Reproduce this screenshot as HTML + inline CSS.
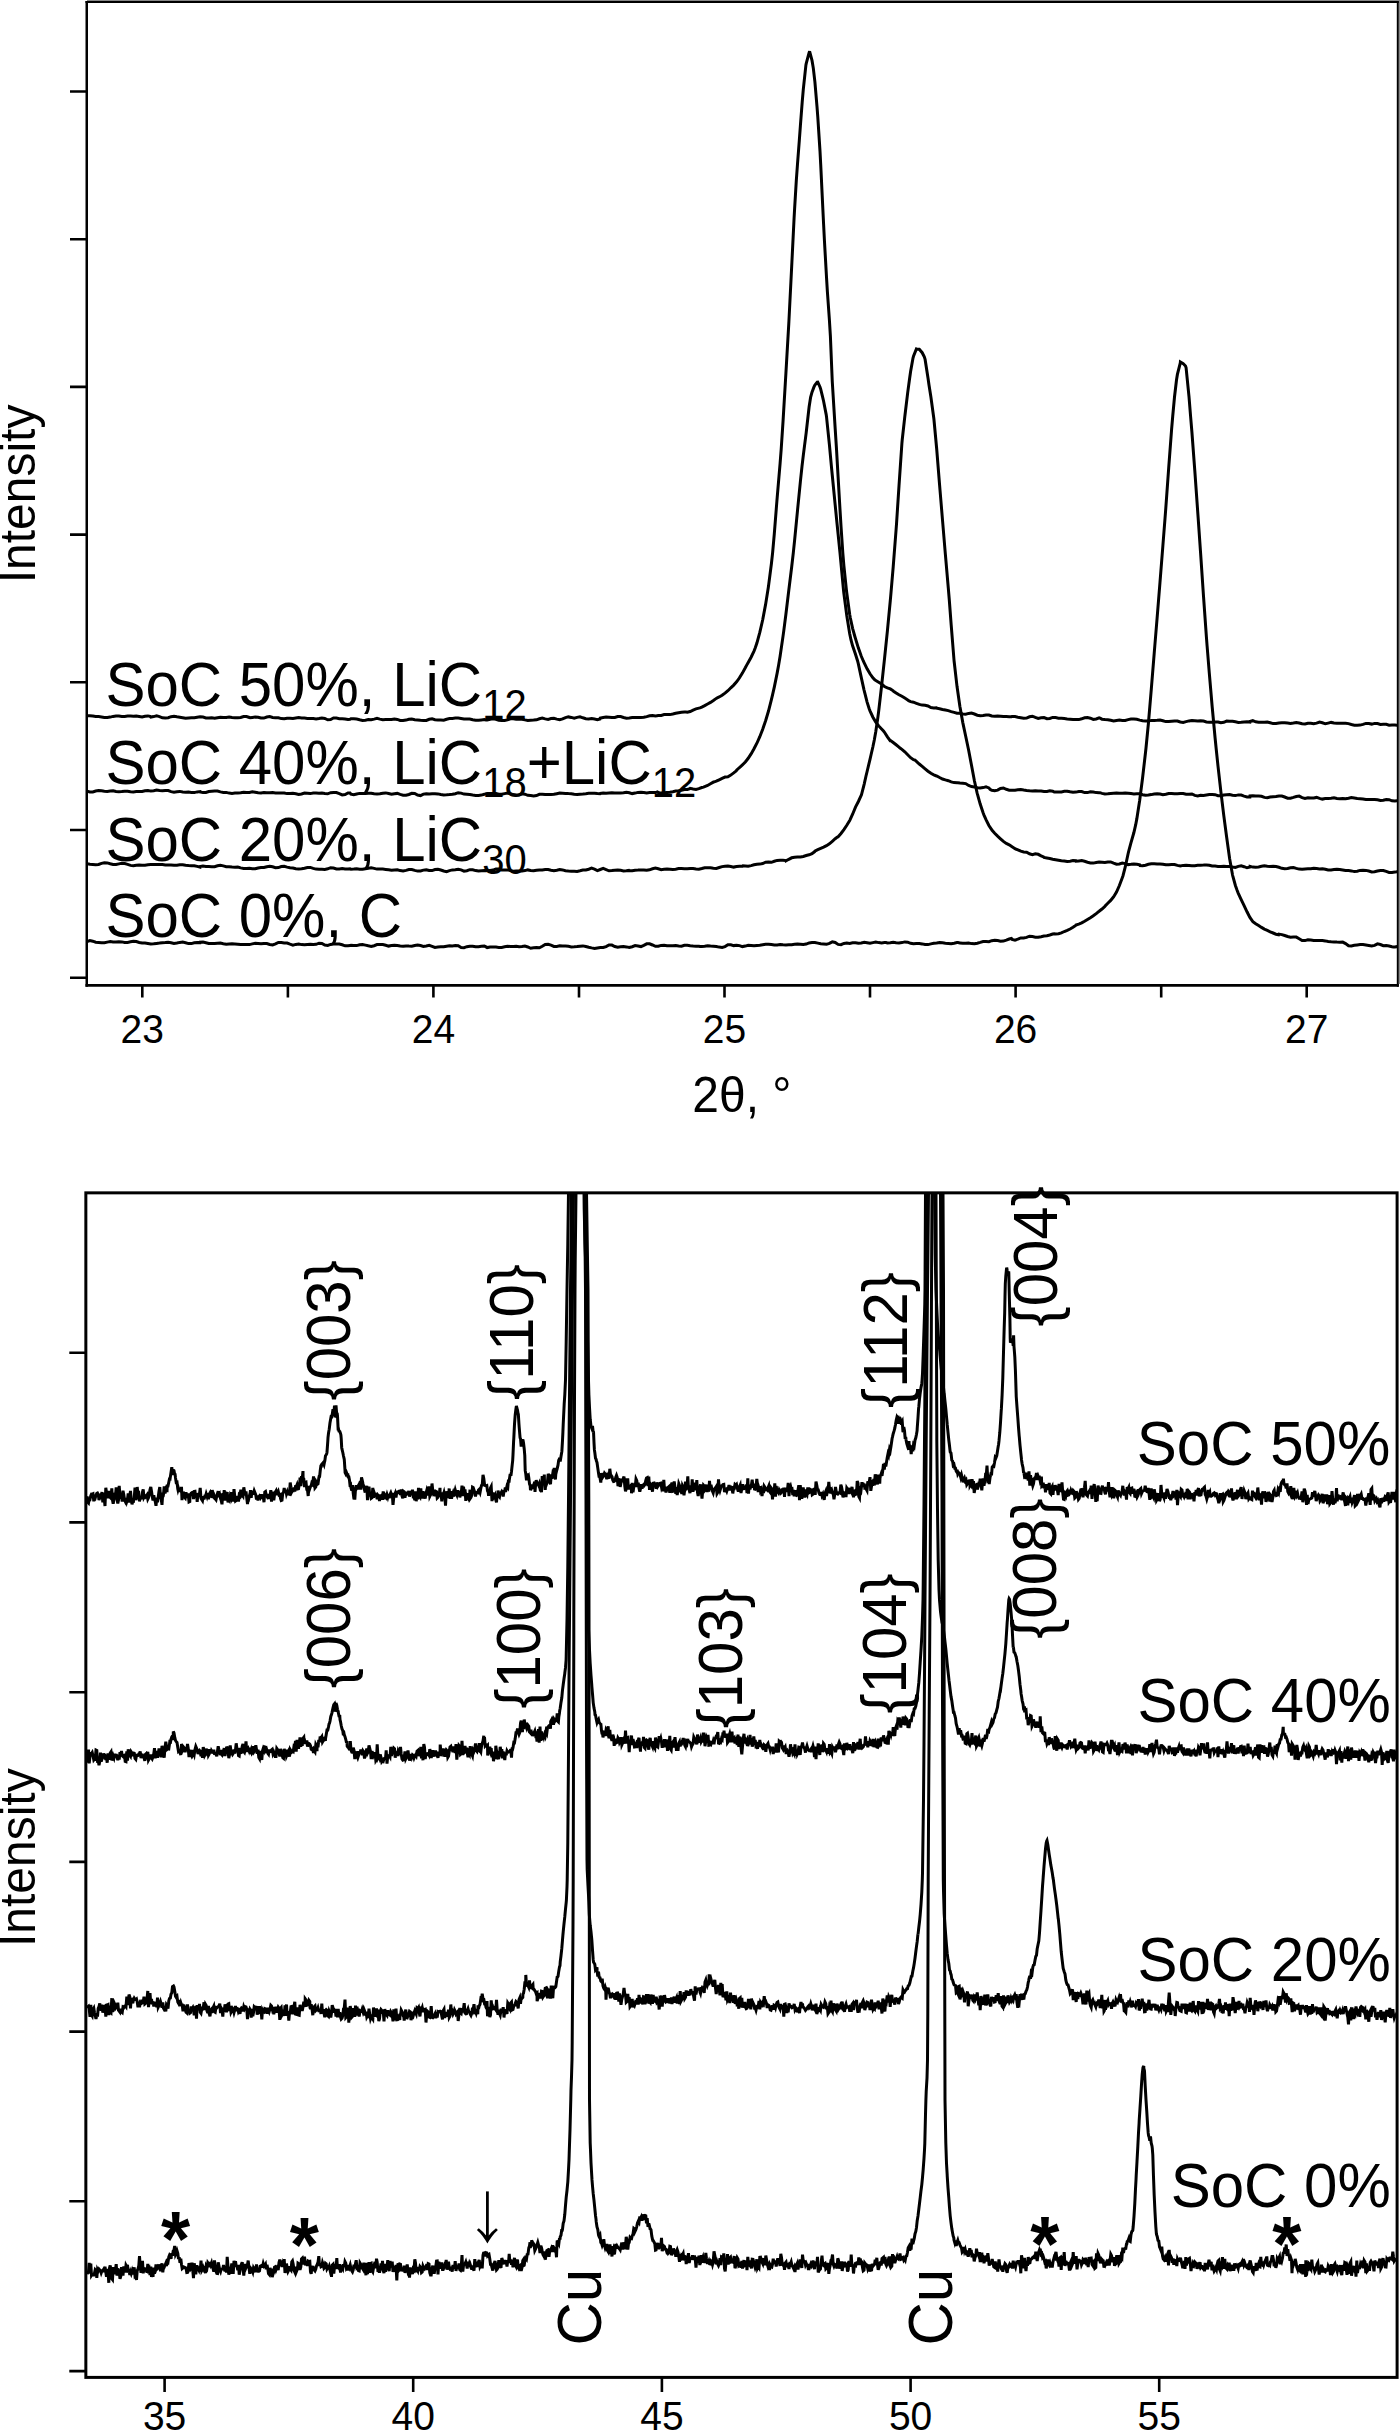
<!DOCTYPE html><html><head><meta charset="utf-8"><title>XRD patterns</title><style>html,body{margin:0;padding:0;background:#fff;width:1400px;height:2430px;}svg{display:block;}::-webkit-scrollbar{display:none;}</style></head><body><svg width="1400" height="2430" viewBox="0 0 1400 2430"><rect width="1400" height="2430" fill="#fff"/><rect x="87" y="0" width="1313" height="1" fill="#888"/><rect x="1399" y="0" width="1" height="984" fill="#888"/><path d="M86.75,0.9V986.8" stroke="#000" stroke-width="2.5" fill="none"/><path d="M85.5,2H1398.8" stroke="#000" stroke-width="2" fill="none"/><path d="M1397.8,1V986.8" stroke="#000" stroke-width="2" fill="none"/><path d="M85.5,985.35H1398.8" stroke="#000" stroke-width="2.9" fill="none"/><rect x="85.85" y="1192.85" width="1311.25" height="1184.55" fill="none" stroke="#000" stroke-width="3"/><path d="M70,91.5H86.75 M70,239.2H86.75 M70,386.9H86.75 M70,534.6H86.75 M70,682.3H86.75 M70,830H86.75 M70,977.7H86.75 M142.3,985.3V997.5 M287.9,985.3V997.5 M433.4,985.3V997.5 M579,985.3V997.5 M724.5,985.3V997.5 M870,985.3V997.5 M1015.6,985.3V997.5 M1161.2,985.3V997.5 M1306.7,985.3V997.5 M69.3,1352.7H85.8 M69.3,1522.4H85.8 M69.3,1692.2H85.8 M69.3,1861.9H85.8 M69.3,2031.6H85.8 M69.3,2201.3H85.8 M69.3,2371.1H85.8 M164.6,2377.3V2392 M413.2,2377.3V2392 M661.9,2377.3V2392 M910.6,2377.3V2392 M1159.2,2377.3V2392" stroke="#000" stroke-width="2.6" fill="none"/><clipPath id="ct"><rect x="87" y="3" width="1310" height="981"/></clipPath><clipPath id="cb"><rect x="86" y="1194" width="1311" height="1182"/></clipPath><g clip-path="url(#ct)" fill="none" stroke="#000" stroke-width="3.0" stroke-linejoin="miter" stroke-miterlimit="2"><path d="M87,715.8 89.9,715.7 92.8,716.1 95.7,716.5 98.6,716.6 101.5,716.9 104.4,717.4 107.3,717.6 110.2,717.1 113.1,716.4 116,716 118.9,716 121.8,716.4 124.7,716.4 127.6,716 130.5,716 133.4,716.2 136.3,715.9 139.2,716.4 142.1,716.9 145,716.2 147.9,715.9 150,716.4 150.8,717.1 153.7,716.6 156.6,715.9 159.5,716.6 162.4,717.8 165.3,718.1 168.2,717.7 171.1,716.7 174,716.2 176.9,716.8 179.8,717.2 182.7,717.7 185.6,718.3 188.5,718 191.4,717.8 194.3,717.8 197.2,717.3 200.1,716.8 203,717.1 205.9,717.9 208.8,717.9 211.7,717.8 214.6,718.2 217.5,717.7 220.4,717.2 223.3,717.6 226.2,717.5 229.1,717.1 232,717.6 234.9,717.7 237.8,717.7 240.7,717.5 243.6,716.5 246.5,716.5 249.4,717.5 250,717.8 252.3,717.4 255.2,717 258.1,717.2 261,717.9 263.9,718.1 266.8,717 269.7,716.5 272.6,717.4 275.5,717.7 278.4,717.8 281.3,718.6 284.2,718.8 287.1,718.2 290,718.2 292.9,718.5 295.8,718 298.7,717.6 301.6,717.9 304.5,718.1 307.4,718.4 310.3,718.4 313.2,718.6 316.1,718.9 319,718.6 321.9,718.1 324.8,718.5 327.7,719.8 330.6,719.5 333.5,718 336.4,718 339.3,718.8 342.2,718.8 345.1,719 348,719.5 350,719.3 350.9,718.8 353.8,718.7 356.7,719 359.6,719.8 362.5,720.5 365.4,720.2 368.3,719.6 371.2,719.7 374.1,719.1 377,718.4 379.9,719.1 382.8,719.7 385.7,719.5 388.6,719.6 391.5,719.5 394.4,719 397.3,719.4 400.2,720.4 403.1,720.6 406,720.1 408.9,719.2 411.8,719 414.7,719.7 417.6,720 420.5,720.3 423.4,720.5 426.3,720.4 429.2,719.3 432.1,718.8 435,719.7 437.9,720 440.8,720.1 443.7,720.2 446.6,719.3 449.5,718.6 452.4,718.4 455.3,718.1 458.2,718.1 461.1,718.4 464,718.9 466.9,719.1 469.8,719.1 472.7,719.8 475.6,720.3 478.5,720.2 481.4,719.9 484.3,719.6 486,720 487.2,720.1 490.1,719.3 493,718.8 495.9,719.3 498.8,720.2 501.7,720.5 504.6,720.4 507.5,719.9 510.4,718.8 513.3,718.7 516.2,719.2 519.1,719.2 522,719.2 524.9,719.9 527.8,720.4 530.7,720.2 533.6,720.1 536.5,719.8 539.4,718.8 542.3,718.1 545.2,718.9 548.1,719.4 551,718.6 553.9,718.3 556.8,719.1 559.7,719.8 562.6,718.9 565.5,717.6 568.4,716.9 571.3,717.4 574.2,718.2 577.1,717.4 580,716.8 582.9,717.8 585.8,718.7 588.7,718.9 591.6,718.6 594.5,719 597.4,719.6 600,718.9 600.3,718.1 603.2,717.5 606.1,717.1 609,717.2 611.9,717.6 614.8,717.5 617.7,716.6 620.6,716.5 623.5,717.5 626.4,718.2 629.3,717.9 632.2,717.5 635.1,717.6 638,717.6 640.9,717.5 643.8,717.3 646.7,716.6 649.6,715.7 652.5,715.6 655.4,716.1 657,715.8 658.3,715.6 661.2,715.4 664.1,714.6 667,714.6 669.9,714.6 672.8,714 675.7,713.3 678.6,712.7 681.5,712.2 684.4,712 686,712.1 687.3,712.2 690.2,711.5 693.1,710.1 696,708.9 698.9,708.1 700,707.9 701.8,707.1 704.7,705.6 707.6,704 710.5,702.4 713.4,700.5 716.3,698.4 717.3,697.8 719.2,697 722.1,695.3 725,693.1 727.9,690.7 729.4,689.2 730.8,687.8 733.7,685.1 736.6,681.8 739.5,677.8 739.8,677.2 742.4,673.1 745.3,667.8 746.7,665.1 748.2,662.4 751.1,657.2 754,651.1 755.3,647.8 756.9,643.1 759.8,632.4 762.2,622 762.7,619.7 765.6,604.4 768.3,587.4 768.5,586.1 771.4,563.8 772.6,552.8 774.3,533.8 776.9,501 777.2,497.4 780.1,463.4 781.2,449.1 783,421.8 785.5,380 785.9,373.3 788.8,323.3 788.9,321.5 791.7,266.2 791.9,262.2 794.1,217.8 794.6,208.8 796.3,180.7 797.5,164 799.3,140.7 800.4,125.6 802.2,102.2 803.3,89.3 805.9,65.2 806.2,63.7 809.1,52.6 809.6,51.3 812,60.4 813.3,68.1 814.9,81.8 817,106.7 817.8,117.1 820,151.1 820.7,164.3 822.2,195.6 823.6,224.3 824.4,240 826.5,277.2 827.4,291.9 829.4,320 830.4,336.3 832.2,380 832.3,382 835.2,428.9 836.5,449.1 838.1,476.9 840,509.6 841,526.1 842.8,552.9 843.9,565.8 846.4,590 846.8,593.3 849.7,614.4 850.3,617.8 852.6,628.3 855,637 855.5,638.7 858.4,648.1 861.3,656.3 863.3,661 864.2,662.9 867.1,668.8 870,673.8 872.9,677.9 874.8,679.9 875.8,680.5 878.7,682.3 881.6,684.1 883.5,685.6 884.5,686.6 887.4,687.8 890.3,688.9 893.2,690.8 893.6,691.3 896.1,692.9 899,694.7 901.9,696.3 904.8,698.1 907.7,699.9 908.6,700.7 910.6,701.6 913.5,702.2 916.4,703.3 919.3,704.4 922.2,705.1 925.1,705.3 928,706 930.9,707.5 933.8,707.9 936.4,707.8 936.7,708.2 939.6,708.8 942.5,709.5 945.4,710 948.3,710.6 951.2,711.6 954.1,712.4 957,713.2 957.9,713.3 959.9,713.2 962.8,713.9 965.7,714.2 968.6,713.4 971.5,713.1 974.4,714 977.3,715.2 980.2,715.7 983.1,715.4 986,714.9 988.9,715 991.8,716 994.7,716.2 997.6,716 1000.5,716.3 1003.4,716.6 1006.3,716.6 1009.2,716.7 1011.4,716.7 1012.1,716.4 1015,716.6 1017.9,717.2 1020.8,717.7 1023.7,718.2 1026.6,718.1 1029.5,716.8 1032.4,716.2 1035.3,717.4 1038.2,718.4 1041.1,717.8 1044,717.5 1046.9,718.7 1049.8,718.5 1052.7,717.4 1055.6,717.6 1058.5,718.2 1061.4,718.2 1064.3,718.6 1067.2,719 1070.1,719.3 1073,719.6 1075.9,719.6 1078.8,719.6 1081.7,718.8 1084.6,717.8 1087.5,717.5 1090.4,718.2 1093.3,719.4 1096.2,719 1099.1,717.8 1100,718.2 1102,719.2 1104.9,719.6 1107.8,719.7 1110.7,720.2 1113.6,720.9 1116.5,720.4 1119.4,720.1 1122.3,720.5 1125.2,720.4 1128.1,719.6 1131,719.1 1133.9,719 1136.8,719.2 1139.7,720.1 1142.6,720.7 1145.5,721.1 1148.4,721.1 1151.3,720.4 1154.2,720.4 1157.1,720.3 1160,720.1 1162.9,720.8 1165.8,721.6 1168.7,721.5 1171.6,721.2 1174.5,720.9 1177.4,721.1 1180.3,722 1183.2,722.4 1186.1,721.6 1189,720.9 1191.9,720.5 1194.8,720.7 1197.7,721 1200.6,720.8 1203.5,721 1206.4,721.9 1209.3,722.2 1212.2,722.2 1215.1,721.9 1218,722 1220.9,722.8 1223.8,722.3 1226.7,721.1 1229.6,721.2 1232.5,721.3 1235.4,721.8 1238.3,722.4 1241.2,722.2 1244.1,721.9 1247,721.8 1249.9,722.1 1250,721.5 1252.8,720.7 1255.7,721.8 1258.6,722.3 1261.5,722.2 1264.4,722.2 1267.3,722 1270.2,722.7 1273.1,723.6 1276,723.6 1278.9,723.1 1281.8,722.8 1284.7,722.8 1287.6,723.1 1290.5,723.4 1293.4,723 1296.3,722.5 1299.2,723 1302.1,723.8 1305,723.9 1307.9,723.3 1310.8,723.2 1313.7,723.7 1316.6,723.1 1319.5,722 1322.4,722.8 1325.3,723.8 1328.2,723.1 1331.1,722.4 1334,722.9 1336.9,723.3 1339.8,723.2 1342.7,723.3 1345.6,723.2 1348.5,723.6 1351.4,724.5 1354.3,725.2 1357.2,725.2 1360.1,725.1 1363,724.4 1365.9,723.4 1368.8,723.6 1371.7,724.1 1374.6,723.4 1377.5,723.5 1380.4,724.4 1383.3,724.2 1386.2,724.3 1389.1,725.2 1392,725 1394.9,725 1397.8,725.2 1398,725.1"/><path d="M87,791.3 89.9,792 92.8,791.9 95.7,791 98.6,790.6 101.5,790.8 104.4,791.2 107.3,791.4 110.2,791 113.1,790.8 116,791.5 118.9,791.8 121.8,791.6 124.7,791.3 127.6,791.2 130.5,791.7 133.4,791.9 136.3,791.5 139.2,791.5 142.1,791.5 145,790.7 147.9,790.5 150.8,791.1 153.7,790.7 156.6,790.1 159.5,790.5 162.4,790.8 165.3,790.4 168.2,790.5 171.1,791.6 174,792.2 176.9,791.7 179.8,791.4 182.7,792 185.6,792.3 188.5,792.1 191.4,792.4 194.3,792.6 197.2,791.9 200,791.6 200.1,792 203,792.6 205.9,792.4 208.8,791.5 211.7,791.2 214.6,791 217.5,791 220.4,791.9 223.3,792.4 226.2,792.4 229.1,793.1 232,793.4 234.9,793.1 237.8,793.1 240.7,792.7 243.6,792.2 246.5,792.6 249.4,792.5 252.3,791.8 255.2,792.2 258.1,792.8 261,792.9 263.9,792.6 266.8,792.7 269.7,792.7 272.6,792.5 275.5,792.9 278.4,793.1 281.3,793 284.2,793 287.1,793.6 290,793.5 292.9,793.2 295.8,793.7 298.7,794.4 301.6,794 304.5,793 307.4,793.3 310.3,793.6 313.2,793 316.1,793 319,793.3 321.9,793.1 324.8,793.6 327.7,793.8 330.6,792.7 333.5,792.4 336.4,792.6 339.3,793.6 342.2,794.9 345.1,794.5 348,792.9 350,792.9 350.9,794.2 353.8,794.7 356.7,794 359.6,793.4 362.5,793.5 365.4,793.6 368.3,793.3 371.2,793.3 374.1,793.8 377,794 379.9,793.7 382.8,793.2 385.7,792.9 388.6,793.5 391.5,794.3 394.4,793.7 397.3,793.4 400.2,794.4 403.1,795.2 406,795.3 408.9,794.5 411.8,793.3 414.7,793.4 417.6,795.1 420.5,795.6 423.4,794.1 426.3,793.7 429.2,794 432.1,793.7 435,793.7 437.9,793.9 440.8,794.5 443.7,794.9 446.6,794.8 449.5,794.6 452.4,794.3 455.3,793.7 458.2,792.7 461.1,793.1 464,794.1 466.9,794.3 469.8,794.6 472.7,795.1 475.6,795.4 478.5,795.4 481.4,795.1 484.3,794.3 486,793.7 487.2,793.6 490.1,793.5 493,793.4 495.9,793.6 498.8,794.2 501.7,794.3 504.6,793.6 507.5,793.1 510.4,793.7 513.3,794.6 516.2,795.1 519.1,794.7 522,793.8 524.9,794.2 527.8,795.3 530.7,795.6 533.6,796 536.5,795.6 539.4,794.3 542.3,794.2 545.2,794.6 548.1,794.6 551,794.5 553.9,794.3 556.8,793.7 559.7,793.1 562.6,793.2 565.5,793.4 568.4,793.6 571.3,793.7 574.2,794.2 577.1,794.5 580,794.2 582.9,794 585.8,793.7 588.7,793.3 591.6,793.2 594.5,793.3 597.4,793.6 600,793.8 600.3,793.5 603.2,793.1 606.1,793.3 609,793 611.9,792.7 614.8,792.9 617.7,793 620.6,793.1 623.5,792.7 626.4,792.2 629.3,792.7 632.2,793.6 635.1,793.1 638,792.4 640.9,792.2 643.8,792.5 646.7,792.9 649.6,792.5 652.5,792.6 655.4,792.6 657.4,791.9 658.3,792.5 661.2,793.1 664.1,792.7 667,792.4 669.9,792.2 672.8,791.7 675.7,791.1 678.6,790.7 681.5,790.2 684.4,789.6 687.3,789.4 690,788.6 690.2,788.4 693.1,789 696,789.5 698.9,788.7 701.8,787.5 703.5,787.1 704.7,786.6 707.6,785.5 710.5,783.8 713.4,782.1 713.8,782.1 716.3,781.2 719.2,779.8 722.1,778.4 725,777.1 725.9,777.1 727.9,776.7 730.8,775.1 733.7,772.9 736.3,770.8 736.6,770.2 739.5,767.5 742.4,765 745.3,761.9 746.7,760.2 748.2,758.3 751.1,753.9 754,748.8 756.9,743.1 757,743 759.8,736.7 762.7,729.3 765.6,720.8 765.7,720.5 768.5,711 771.4,699.6 772.6,694.6 774.3,687.1 777.2,672.9 778.6,665.2 780.1,656.2 783,636.4 783.8,630.6 785.9,614.2 788.1,596 788.8,590.3 791.7,566.8 793.3,552.8 794.6,540.3 797.5,510.6 797.6,509.6 800.4,481.4 802,466.4 803.3,455.4 806.2,432.6 806.3,431.8 809.1,407 810.6,397.3 812,392.1 814,386.9 814.9,385 817.2,382.2 817.8,382.1 820,387 820.7,389.1 822.7,397.3 823.6,401.2 826.2,414.6 826.5,416.7 829.4,444.7 831.4,466.4 832.3,475.5 835.2,505.2 836.5,518.3 838.1,534 840,552.8 841,563.6 843.5,590 843.9,593.5 846.8,615.7 847,617 849.7,633.7 851,640 852.6,645.8 855.5,654.2 857.6,661 858.4,664.2 861.3,677.6 864,689.8 864.2,690.6 867.1,702.1 869.1,708.5 870,710.8 872.9,717.2 875.8,722.1 876.3,722.8 878.7,725.9 881.6,729 883.5,731.1 884.5,732.3 887.4,736.8 890,740.4 890.3,740.3 893.2,742.5 896.1,744.8 899,747.1 900,748 901.9,749.4 904.8,751.8 907.7,754.7 910.6,757.7 913.5,759.7 915,760.2 916.4,761.4 919.3,764 922.2,766.4 925.1,768.8 928,771.2 930.9,773.3 933.8,774.8 936.4,775.9 936.7,775.9 939.6,777.5 942.5,779 945.4,779.9 948.3,780.7 951.2,781.9 954.1,782.6 957,782.8 957.9,782.7 959.9,783 962.8,783.2 965.7,783.6 968.6,785.5 971.5,786.6 974.4,786.9 977.3,787.7 980.2,788.1 983.1,787.6 986,786.9 988.9,787.9 990,789.3 991.8,790.3 994.7,790.8 997.6,790.1 1000.5,788.4 1003.4,788 1006.3,789.3 1009.2,790.2 1012.1,790.3 1015,790.2 1017.9,789.7 1020.8,789.5 1023.7,790 1026.6,790.4 1029.5,790.7 1032.4,790.9 1035.3,790.8 1038.2,790.9 1041.1,791.1 1044,791.5 1046.9,791.4 1049.8,790.8 1052.7,791.2 1054.3,792.1 1055.6,792.1 1058.5,792.1 1061.4,791.9 1064.3,791.2 1067.2,791.2 1070.1,791.8 1073,792.3 1075.9,792.1 1078.8,791.5 1081.7,791.5 1084.6,792.6 1087.5,792.6 1090.4,791.8 1093.3,792 1096.2,792.6 1099.1,792.7 1100,792.7 1102,793.4 1104.9,794 1107.8,793.8 1110.7,793.5 1113.6,793.3 1116.5,793.1 1119.4,793.3 1122.3,793.2 1125.2,792.9 1128.1,793.2 1131,793.6 1133.9,794 1136.8,793.7 1139.7,793.8 1142.6,794.7 1145.5,795.2 1148.4,795.1 1151.3,794.6 1154.2,794 1157.1,793.7 1160,794.1 1162.9,794.7 1165.8,794.2 1168.7,793.5 1171.6,793.5 1174.5,793.7 1177.4,793.8 1180.3,793.6 1183.2,793.6 1186.1,794.3 1189,794.2 1191.9,794 1194.8,795.4 1197.7,795.9 1200.6,795.2 1203.5,795.4 1206.4,795 1209.3,794.6 1212.2,794.5 1215.1,794.7 1218,795.7 1220.9,795.8 1223.8,795 1226.7,794.7 1229.6,794.5 1232.5,795.2 1235.4,795.6 1238.3,794.9 1241.2,795.1 1244.1,796.1 1247,796.9 1249.9,796.9 1250,795.9 1252.8,795.7 1255.7,796.1 1258.6,796.1 1261.5,796.3 1264.4,797.4 1267.3,797.8 1270.2,797.1 1273.1,796.7 1276,796.4 1278.9,795.9 1281.8,796 1284.7,797 1287.6,798.2 1290.5,798.2 1293.4,797.4 1296.3,796.5 1299.2,796.1 1302.1,797.6 1305,798.4 1307.9,797.8 1310.8,798.1 1313.7,797.9 1316.6,797.4 1319.5,798.4 1322.4,799.1 1325.3,798.6 1328.2,798.4 1331.1,798.3 1334,797.8 1336.9,798.4 1339.8,798.8 1342.7,798.5 1345.6,798.8 1348.5,798.3 1351.4,797.6 1354.3,798.1 1357.2,798.6 1360.1,798.8 1363,799 1365.9,799.5 1368.8,799.5 1371.7,799.4 1374.6,799.4 1377.5,799.8 1380.4,800.5 1383.3,800.3 1386.2,799.6 1389.1,799.7 1392,800.8 1394.9,801 1397.8,800.6 1398,800.5"/><path d="M87,863.7 89.9,864.3 92.8,864.5 95.7,864.7 98.6,864.5 101.5,863.4 104.4,862.8 107.3,862.9 110.2,863.8 113.1,864.5 116,864.5 118.9,863.9 121.8,863.3 124.7,863.6 127.6,864.4 130.5,865.4 133.4,865.8 136.3,865.3 139.2,865 142.1,865.2 145,865.2 147.9,864.7 150.8,864.5 153.7,864.6 156.6,864.5 159.5,864.5 162.4,864.6 165.3,865 168.2,865.1 171.1,864.9 174,865.3 176.9,865.2 179.8,864.7 182.7,864.7 185.6,865.2 188.5,865.6 191.4,865.7 194.3,865.7 197.2,866.4 200,867.2 200.1,866.6 203,866.1 205.9,866.5 208.8,866.6 211.7,866.7 214.6,866.7 217.5,865.8 220.4,865.2 223.3,865.9 226.2,866.7 229.1,866.7 232,867.1 234.9,867.3 237.8,867.1 240.7,867.9 243.6,868.5 246.5,868.4 249.4,868.3 252.3,868.7 255.2,868.8 258.1,868 261,867.6 263.9,867.5 266.8,866.7 269.7,866.2 272.6,866.8 275.5,867.7 278.4,867.6 281.3,866.5 284.2,866.3 287.1,867.1 290,867.7 292.9,868.1 295.8,868.8 298.7,869.1 301.6,868.8 304.5,868.3 307.4,867.5 310.3,867.4 313.2,868.4 316.1,869.1 319,869.3 321.9,869.3 324.8,869.4 327.7,868.8 330.6,867.7 333.5,868 336.4,869 339.3,868.9 342.2,868.5 345.1,869 348,869 350,868.8 350.9,869.3 353.8,869.1 356.7,868.8 359.6,869.3 362.5,869.3 365.4,868.7 368.3,868.3 371.2,867.8 374.1,868.4 377,869.1 379.9,869 382.8,869.1 385.7,869.4 388.6,869.8 391.5,870.2 394.4,869.9 397.3,869.7 400.2,870.6 403.1,871 406,870.4 408.9,869.6 411.8,869.5 414.7,870.4 417.6,871.1 420.5,870.9 423.4,870.1 426.3,869.7 429.2,870.5 432.1,870.6 435,869.5 437.9,869.3 440.8,870 443.7,871 446.6,871.6 449.5,870.6 452.4,869.9 455.3,869.7 458.2,869.2 461.1,869.9 464,871.1 466.9,870.7 469.8,869.7 472.7,869.8 475.6,870.6 478.5,871.1 481.4,870.7 484.3,870.4 486,870.7 487.2,870.6 490.1,870.4 493,870.1 495.9,869.1 498.8,869.1 501.7,869.9 504.6,870 507.5,869.9 510.4,870.6 513.3,871.3 516.2,871.1 519.1,871 522,871.1 524.9,870.6 527.8,869.9 530.7,870.4 533.6,870.8 536.5,870.2 539.4,870 542.3,870 545.2,869.5 548.1,869.6 551,870.3 553.9,870.7 556.8,870.2 559.7,869.6 562.6,869.9 565.5,870.7 568.4,871.1 571.3,871.2 574.2,871.3 577.1,871.4 580,870.8 582.9,870.1 585.8,869.9 588.7,869.2 591.6,868.2 594.5,869.2 597.4,870.6 600.3,869.5 603.2,868.4 606.1,869.6 609,870.8 611.9,870.6 614.8,870.2 617.7,870 620.6,870.3 623.5,870.9 626.4,870.8 628.9,870.4 629.3,870.8 632.2,870.8 635.1,870.2 638,870.1 640.9,869.9 643.8,869.9 646.7,870.2 649.6,869.8 652.5,868.8 655.4,868.1 658.3,868.8 661.2,869.7 664.1,869.3 667,869.1 669.9,869.3 672.8,869.5 675.7,869.3 678.6,868.6 681.5,868.5 684.4,868.7 687.3,868.7 690.2,868.4 693.1,868.4 696,868.9 698.9,869.2 701.8,868.5 704.7,867.7 707.6,867.7 710.5,867.8 713.4,868.2 716.3,868.4 719.2,867.5 722.1,866.6 725,866.2 727.9,866.1 730.8,866.5 733.7,867.1 736.6,866.6 739.5,866.2 742.4,866.3 743,865.7 745.3,865.9 748.2,866.3 751.1,865.6 754,864.8 756.9,864.2 759.8,864.1 762.7,863.5 765.6,862.2 768.5,862.1 771.4,862.3 774.3,861.3 777.2,860.4 780.1,860.3 783,860.3 785.9,860.6 786,860.9 788.8,859.3 791.7,857.8 794.6,857.3 797.5,857 800.4,856.9 803.3,856.5 806.2,855.5 809.1,854.8 812,853.6 814.6,851.8 814.9,851.1 817.8,849.7 820.7,848.4 823.6,847.2 826.5,845.7 829.4,843.8 832.3,841.3 835.2,838.7 837.4,837.1 838.1,836.7 841,833.5 843.9,829.6 846.8,825.3 849.7,820.5 850,819.9 852.6,814.2 855.5,807.1 856,806.1 858.4,801.5 861.3,795.2 861.4,795 864.2,784.1 866,776 867.1,771.5 870,759.3 871,755 872.9,746.8 874.3,740 875.8,731.4 877.7,718.6 878.7,711 881.6,685.8 883.5,668.2 884.5,658.9 887.4,630.8 890.3,600.5 890.7,596.1 893.2,566.8 896.1,529.5 896.5,524.1 899,485.8 901.9,443.4 902.2,440 904.8,416.7 905,415 907.7,392.6 909.4,380 910.6,371.5 913,358 913.5,356.3 916.4,348.9 917.4,349.3 919.3,349.2 922.2,352.7 924.3,356.8 925.1,359.4 928,378.1 929,385 930.9,397.1 933.8,418.3 934,420 936.7,449 939.6,485.2 940,490 942.5,520 945,550 945.4,554.7 948.3,588.1 949.3,600 951.2,625.2 954,660 954.1,661 957,686.3 959.9,706.5 960,707.1 962.8,722.6 965.7,736.3 968.6,750 968.6,750 971.5,765.3 974.4,780.7 977.1,792.9 977.3,793.7 980.2,804.1 983.1,812.7 984,815.1 986,819.7 988.9,825.5 991.8,829.8 992.1,830.3 994.7,833.2 997.6,836.1 1000.5,838.8 1003.4,841.4 1006.3,843.4 1009.2,844.8 1012.1,846.8 1015,848.7 1015.7,849 1017.9,849.8 1020.8,851.2 1023.7,851.9 1026.6,852.2 1029.5,853.8 1032.4,854.6 1035.3,853.8 1038.2,854.3 1041.1,855.8 1043.6,856.9 1044,857.5 1046.9,858 1049.8,858.5 1052.7,859.2 1055.6,859.7 1058.5,860.2 1061.4,860.7 1064.3,860.9 1067.2,861.4 1070.1,861.2 1073,860.6 1075.7,860.8 1075.9,861.2 1078.8,860.9 1081.7,860.6 1084.6,861.3 1087.5,862.2 1090.4,862.9 1093.3,863.1 1096.2,862.5 1099.1,862.1 1102,862.2 1104.9,862.4 1107.8,862 1110.7,861.9 1113.6,863.1 1116.5,864.2 1119.4,864 1122.3,863.1 1125.2,863.6 1128.1,864.6 1131,864.3 1133.9,863.9 1136.8,864.2 1139.7,864.8 1140,865.5 1142.6,865.8 1145.5,865.2 1148.4,864.3 1151.3,863.7 1154.2,863.7 1157.1,863.9 1160,863.9 1162.9,864.2 1165.8,864.8 1168.7,864.7 1171.6,864.4 1174.5,864.5 1177.4,865.4 1180.3,866 1183.2,865.4 1186.1,865.3 1189,865.5 1191.9,865.7 1194.8,865.7 1197.7,865.3 1200.6,865.2 1203.5,865.1 1206.4,864.9 1209.3,865.3 1212.2,866 1215.1,866.1 1218,866.4 1220.9,866.4 1223.8,866.2 1226.7,866.4 1229.6,866.4 1232.5,867 1235.4,867.4 1238.3,866.4 1241.2,865.8 1244.1,866.7 1247,867.8 1249.9,867.1 1250,866.4 1252.8,867.1 1255.7,867.3 1258.6,866.9 1261.5,866.2 1264.4,865.7 1267.3,866.2 1270.2,866.4 1273.1,866.2 1276,866.5 1278.9,867.3 1281.8,868.3 1284.7,868.8 1287.6,868.5 1290.5,867.7 1293.4,867.6 1296.3,868.4 1299.2,869.1 1302.1,869.3 1305,868.9 1307.9,868.8 1310.8,868.8 1313.7,868.3 1316.6,868.5 1319.5,868.9 1322.4,868.7 1325.3,869.2 1328.2,869.9 1331.1,870 1334,869.6 1336.9,869.2 1339.8,869.4 1342.7,869.9 1345.6,870.4 1348.5,870.6 1351.4,870.9 1354.3,871.6 1357.2,871.2 1360.1,870.4 1363,870.2 1365.9,870.4 1368.8,871 1371.7,871.9 1374.6,871.8 1377.5,871 1380.4,870.5 1383.3,870.5 1386.2,871.4 1389.1,872.5 1392,872.5 1394.9,872.1 1397.8,871.5 1398,870.9"/><path d="M87,941.6 89.9,940.5 92.8,941.2 95.7,942.2 98.6,942.4 101.5,942.7 104.4,942.8 107.3,942.1 110.2,941.6 113.1,942.1 116,942.1 118.9,941.7 121.8,941.9 124.7,942.5 127.6,942.4 130.5,941.8 133.4,941.2 136.3,941.5 139.2,942.5 142.1,942.9 145,943 147.9,943.4 150.8,943.9 153.7,943.8 156.6,943.4 159.5,943.1 162.4,942.7 165.3,942.5 168.2,942.2 171.1,942.7 174,943.4 176.9,943 179.8,942.4 182.7,942.1 185.6,942.7 188.5,943.6 191.4,943.6 194.3,942.7 197.2,942.4 200,942.6 200.1,942.2 203,942.1 205.9,942.7 208.8,943.4 211.7,943.6 214.6,943.6 217.5,943.3 220.4,943.1 223.3,943.8 226.2,944.3 229.1,944 232,943.8 234.9,943.9 237.8,944.2 240.7,944.5 243.6,944.4 246.5,944.5 249.4,944.6 252.3,943.9 255.2,943.3 258.1,943.5 261,943.8 263.9,943.5 266.8,943.6 269.7,944.5 272.6,945 275.5,943.9 278.4,942.5 281.3,942.5 284.2,943 287.1,943.1 290,944.2 292.9,945.1 295.8,944.4 298.7,944 301.6,944.6 304.5,944.7 307.4,944.4 310.3,944.2 313.2,944.5 316.1,944.3 319,943.2 321.9,943.5 324.8,945.1 327.7,945.4 330.6,944.4 333.5,944 336.4,944.1 339.3,944.1 342.2,944.8 345.1,945.8 348,945.8 350,945.6 350.9,945.3 353.8,945.6 356.7,945.6 359.6,944.7 362.5,944.5 365.4,945.1 368.3,945.8 371.2,946.4 374.1,945.7 377,944.6 379.9,944.6 382.8,944.6 385.7,945.3 388.6,946.1 391.5,945.6 394.4,945.3 397.3,945.6 400.2,946.1 403.1,946.2 406,945.9 408.9,946.1 411.8,946.2 414.7,945.5 417.6,945 420.5,945.5 423.4,946.4 426.3,946 429.2,945.3 432.1,946.3 435,947.4 437.9,947.1 440.8,946.8 443.7,946.8 446.6,946.2 449.5,945.8 452.4,945.9 455.3,945.5 458.2,945.8 461.1,947.5 464,947.7 466.9,946.7 469.8,946.2 472.7,946.2 475.6,946.7 478.5,946.8 481.4,946.3 484.3,946 486,946.9 487.2,947.6 490.1,947.1 493,946.9 495.9,947.1 498.8,947.4 501.7,947.4 504.6,946.7 507.5,946.3 510.4,946.5 513.3,946.4 516.2,946.3 519.1,946.7 522,946.6 524.9,946.1 527.8,947 530.7,948.3 533.6,947.8 536.5,947.5 539.4,947.8 542.3,946.2 545.2,944.4 548.1,944.3 551,945.1 553.9,946.4 556.8,946.4 559.7,945.8 562.6,946.1 565.5,946.1 568.4,946.3 571.3,946.9 574.2,946.8 577.1,946.6 580,946.2 582.9,945.9 585.8,946.5 588.7,947.3 591.6,947.9 594.5,948.4 597.4,947.9 600.3,947.5 603.2,947.5 606.1,946.6 609,945 611.9,945.1 614.8,946.5 617.7,947.2 620.6,946.8 623.5,946.4 626.4,946.9 629.3,947.5 632.2,946.7 635.1,945.6 638,946.1 640.9,946.6 643.8,945.3 646.7,943.8 649.6,943.8 652.5,945 655.4,946.3 658.3,946.2 661.2,945.4 664.1,945.2 667,945.7 669.9,945.8 672.8,945.7 675.7,945.6 678.6,946.1 681.5,946.2 684.4,945.3 687.3,945.2 690.2,945.7 693.1,946.1 696,946.2 698.9,946.3 700,946.5 701.8,946.5 704.7,946.2 707.6,945.7 710.5,946 713.4,946.2 716.3,946.5 719.2,947.1 722.1,947.4 725,946.6 727.9,944.8 730.8,944.8 733.7,945.6 736.6,945.2 739.5,945.6 742.4,946.6 745.3,946.1 748.2,945.2 751.1,945.5 754,945.8 756.9,945.4 759.8,945.2 762.7,944.7 765.6,944.3 768.5,944.3 771.4,944.5 774.3,944.9 777.2,944.9 780.1,944.5 783,944.8 785.9,944.9 788.8,944.8 791.7,944.7 794.6,944.3 797.5,944.1 800.4,944.2 803.3,944.5 806.2,944.1 809.1,942.9 812,942.6 814.9,942.5 817.8,943.1 820.7,943.8 823.6,944 826.5,944.3 829.4,943.3 832.3,941.8 835.2,942.5 838.1,944.4 841,944.7 843.9,943.4 846.8,943 849.7,943.4 852.6,942.7 855.5,942.7 858.4,943.2 861.3,942.9 864.2,942.3 867.1,942.7 870,943.3 872.9,942.6 875.8,942 878.7,942.6 881.6,942.9 884.5,942.6 886,942.6 887.4,943 890.3,942.7 893.2,942.3 896.1,942.7 899,943 901.9,942.6 904.8,941.9 907.7,942.2 910.6,943.3 913.5,943.8 916.4,943.6 919.3,943.5 922.2,943.9 925.1,944.5 928,944.6 930.9,943.9 933.8,943.3 936.7,942.9 939.6,942.4 942.5,942.8 945.4,943.2 948.3,943.4 951.2,943.7 954.1,943.2 957,942.6 957.9,942.6 959.9,942.9 962.8,943.3 965.7,943.3 968.6,943 971.5,943.6 974.4,943.8 977.3,943.2 980.2,942.4 983.1,941.5 986,941.6 988.9,941.7 991.8,940.7 994.7,940.2 997.6,940.6 1000.5,941.3 1003.4,941.1 1006.3,940.1 1009.2,939 1011.4,938.4 1012.1,939.4 1015,940.1 1017.9,939.2 1020.8,937.9 1023.7,937.9 1026.6,937.4 1029.5,936.2 1032.4,936.5 1035.3,937.2 1038.2,937.3 1041.1,936.7 1044,936 1046.9,935.7 1049.8,935 1052.7,934 1054.3,933.7 1055.6,933.9 1058.5,933.7 1061.4,932.9 1064.3,931.5 1067.2,930.3 1070.1,929 1073,927.3 1075.7,925.4 1075.9,925.1 1078.8,924.1 1081.7,922.9 1084.6,921.3 1087.5,919.5 1090.4,917.7 1093.3,915.8 1096.2,913.6 1097.1,912.8 1099.1,911.3 1102,909 1104.9,906.4 1105,906.1 1107.8,903.3 1110.7,900.4 1113.6,896.8 1114.3,895.8 1116.5,892 1119.4,885.5 1122.3,877.7 1123,875.7 1125.2,867.2 1128.1,853.8 1129,850 1131,842.6 1133.9,832.5 1135.7,824.7 1136.8,818.9 1139.7,800.3 1142.6,777.8 1145.5,752.5 1146,748 1148.4,723.5 1151.3,689.2 1154.2,653.3 1154.8,646 1157.1,618.1 1160,582.2 1162.9,545.5 1165,518.6 1165.8,508.1 1168.7,467.8 1171.6,429.3 1172.7,416.5 1174.5,397 1176.5,380 1177.4,374.4 1180.3,362.9 1180.4,361.9 1183.2,363.6 1185.5,366.1 1186.1,367.8 1189,396.6 1190.6,416.5 1191.9,432 1194.8,470.7 1197.7,511.6 1198.2,518.6 1200.6,553.1 1203.5,596.2 1206.4,636.9 1207.1,646 1209.3,673.2 1212.2,707 1215.1,738 1216.1,748 1218,766.1 1220.9,791.9 1223.8,815.6 1225,824.7 1226.7,837.5 1229.6,858.4 1232.5,874.8 1232.7,875.7 1235.4,885.5 1237,890 1238.3,893.3 1241.2,899.6 1242.9,903.1 1244.1,905.6 1247,911.8 1249.9,917.4 1252.8,921.6 1253,921.7 1255.7,923.7 1258.6,925.5 1261.5,927.4 1264.4,929.1 1265,929.4 1267.3,930.4 1270.2,931.8 1273.1,933 1276,934.2 1278.6,934.8 1278.9,934.1 1281.8,934.6 1284.7,935.5 1287.6,936.5 1290.5,937.3 1293.4,937.1 1296.3,937.1 1299.2,938.7 1302.1,940.5 1305,940.6 1307.9,939.8 1310.8,939.9 1313.7,940.4 1316.6,940.4 1316.8,940.4 1319.5,940.6 1322.4,940.5 1325.3,940.9 1328.2,941.5 1331.1,941.8 1334,941.9 1336.9,942.1 1339.8,942.2 1342.7,942.1 1345.6,943.6 1348.5,945.8 1351.4,946 1354.3,945.3 1357.2,944.9 1360.1,944.5 1363,944.6 1365.9,945 1368.8,945.4 1371.7,945.9 1374.6,945.4 1377.5,943.9 1380.4,944.5 1383.3,945.7 1386.2,945.6 1389.1,946 1392,946.7 1393.4,946.9 1394.9,947 1397.8,946.5 1398,946.1"/></g><g clip-path="url(#cb)" fill="none" stroke="#000" stroke-width="3.0" stroke-linejoin="miter"><path d="M87,1496.3 87.8,1502.4 88.5,1503.1 89.2,1498.9 90,1499.3 90.8,1495.8 91.5,1494.1 92.2,1494.2 93,1493.8 93.8,1501.3 94.5,1497.5 95.2,1498.2 96,1495.2 96.8,1493.4 97.5,1493 98.2,1494.4 99,1500 99.8,1497.8 100.5,1495.9 101.2,1496.7 102,1492.1 102.8,1502.5 103.5,1492.9 104.2,1497.8 105,1506 105.8,1487.7 106.5,1492.2 107.2,1494.8 108,1498.1 108.8,1490.9 109.5,1496.7 110.2,1497.5 111,1498.3 111.8,1488.3 112.5,1500.1 113.2,1503.8 114,1499.3 114.8,1494.8 115.5,1495.2 116.2,1487.3 117,1499.4 117.8,1503.4 118.5,1500.1 119.2,1485.9 120,1495.9 120.8,1497.1 121.5,1495.6 122.2,1501.5 123,1490.7 123.8,1494.7 124.5,1499.8 125.2,1501.3 126,1498.1 126.8,1501.6 127.5,1499.5 128.2,1493.3 129,1502.5 129.8,1495.4 130.5,1491 131.2,1499.1 132,1504.4 132.8,1501.1 133.5,1501.2 134.2,1498.1 135,1487.7 135.8,1500 136.5,1497.9 137.2,1487 138,1494.7 138.8,1493.8 139.5,1501.4 140.2,1497.7 141,1498.4 141.8,1498.1 142.5,1492 143.2,1489.5 144,1497.4 144.8,1496 145.5,1497.1 146.2,1496.4 147,1495.1 147.8,1499.2 148.5,1497.8 149.2,1494.6 150,1489.6 150.8,1486.9 151.5,1491.3 152.2,1496.3 153,1500.4 153.8,1495.2 154.5,1499.4 155.2,1501.2 156,1505.8 156.8,1497.6 157.5,1502.2 158.2,1497.1 159,1491.3 159.8,1487.1 160.5,1496.9 161.2,1499 162,1504.9 162.8,1492.5 163,1496.9 163.5,1494.3 164.2,1486.4 165,1493.5 165.8,1490.1 166.5,1486.1 167,1492.1 167.2,1486 168,1486 168.8,1482.2 169.5,1478.7 170,1477.7 170.2,1477.9 171,1472.5 171.8,1467.1 172.5,1475 173.2,1470.1 174,1470.6 174.8,1474.9 175,1473.5 175.5,1477.9 176.2,1482.3 177,1482.1 177.8,1489.1 178,1490 178.5,1488.4 179.2,1490.8 180,1490.8 180.8,1491.3 181.5,1486.9 182,1500.1 182.2,1491.7 183,1495.1 183.8,1494.2 184.5,1497.2 185.2,1498 186,1492.2 186.8,1497.8 187.5,1495.6 188.2,1493.4 189,1502 189.8,1501.6 190,1493.5 190.5,1495.8 191.2,1493.1 192,1492.6 192.8,1493.2 193.5,1499.2 194.2,1491.5 195,1491.3 195.8,1498.1 196.5,1494.2 197.2,1501.8 198,1493.2 198.8,1495.1 199.5,1493.9 200.2,1487.9 201,1498.3 201.8,1499.6 202.5,1500.7 203.2,1496.2 204,1499.5 204.8,1496.3 205.5,1496.5 206.2,1493.8 207,1496.3 207.8,1493.2 208.5,1499.2 209.2,1494.2 210,1492.8 210.8,1496.4 211.5,1496.6 212.2,1490.2 213,1492.6 213.8,1494.5 214.5,1498.2 215.2,1498.8 216,1499.8 216.8,1495.7 217.5,1493.4 218.2,1491.1 219,1497.1 219.8,1495 220.5,1498.3 221.2,1500.5 222,1504.3 222.8,1493.1 223.5,1498.7 224.2,1490.1 225,1500.6 225.8,1491.8 226.5,1496 227.2,1492.2 228,1502.5 228.8,1498.6 229.5,1499.9 230.2,1495.9 231,1497.9 231.8,1492.1 232.5,1494.5 233.2,1501.7 234,1489.1 234.8,1496.6 235.5,1501 236.2,1500.5 237,1498.9 237.8,1496.3 238.5,1501.5 239.2,1495.1 240,1496 240.8,1489.6 241.5,1497.4 242.2,1494.9 243,1496.1 243.8,1487.3 244.5,1491.5 245.2,1495.5 246,1491.3 246.8,1498.6 247.5,1504.1 248.2,1495.9 249,1497.7 249.8,1494.2 250,1494.1 250.5,1490.2 251.2,1497.9 252,1490.6 252.8,1493.7 253.5,1493.4 254.2,1490.8 255,1492.8 255.8,1495 256.5,1499.5 257.2,1495.4 258,1500.4 258.8,1496.7 259.5,1495.9 260.2,1497.2 261,1494.2 261.8,1498.8 262.5,1495.8 263.2,1495.7 264,1502.2 264.8,1492 265.5,1491.5 266.2,1494.9 267,1496.3 267.8,1494 268.5,1498.7 269.2,1496.5 270,1496.6 270.8,1490.2 271.5,1501.6 272.2,1495.5 273,1491.7 273.8,1500.4 274.5,1495.1 275.2,1492.3 276,1490.9 276.8,1495.1 277.5,1492.6 278.2,1491.3 279,1494.7 279.8,1494.1 280,1492.9 280.5,1498.5 281.2,1500.5 282,1500.2 282.8,1493.1 283.5,1492.4 284.2,1488.1 285,1492.8 285.8,1489.9 286.5,1493.9 287.2,1491.9 288,1495 288.6,1492.2 288.8,1494.1 289.5,1494.3 290.2,1482.6 291,1487.5 291.8,1491.8 292.5,1490.4 293.2,1490.6 294,1487.6 294.8,1491.5 295.5,1486.7 296.2,1486.8 297,1484.8 297.8,1488.9 298.5,1488.7 299.2,1485 299.7,1486 300,1477.6 300.8,1486.2 301.5,1476.1 302.2,1479 303,1471.1 303.1,1478.1 303.8,1478.9 304.5,1487 305.2,1482.6 306,1482.2 306.8,1489.6 307.5,1490 308.2,1496 308.3,1494.6 309,1485.9 309.8,1488.6 310.5,1486.6 311.2,1485.7 311.7,1483.5 312,1484 312.8,1484.8 313.5,1476.5 314.2,1479.3 315,1487.9 315.8,1486.9 316.5,1482.6 316.9,1483.4 317.2,1484.4 318,1483.9 318.8,1478.1 319.4,1475.2 319.5,1477.6 320.2,1471 321,1465 321.1,1467.5 321.8,1464.2 322.5,1463.4 323.2,1462.6 324,1464.5 324.6,1461.4 324.8,1461 325.5,1455.8 326.2,1454.7 326.7,1453.8 327,1452.2 327.8,1441.1 328,1437.7 328.5,1433.3 329.2,1429.3 329.7,1425.3 330,1422.7 330.8,1418.2 331.4,1415.1 331.5,1418.1 332.2,1414.8 333,1409.1 333.8,1414.5 334.5,1405.6 335.2,1417.5 335.3,1411.9 336,1405.3 336.8,1415.6 337.4,1415.2 337.5,1416 338.2,1430.4 338.3,1428.2 339,1431.2 339.8,1431.5 340.5,1433.4 340.9,1435 341.2,1438.3 341.7,1447.7 342,1449.2 342.8,1452.5 343.5,1456 344.2,1459.1 344.3,1459.8 345,1470.1 345.1,1472.6 345.8,1474 346.5,1472.7 347.2,1474.6 347.7,1473.3 348,1475.9 348.8,1476.6 349.5,1480.3 350.2,1486.8 350.3,1481.9 351,1487.8 351.8,1490.7 352.5,1485.2 353.2,1493 354,1499.2 354.6,1491.2 354.8,1499.7 355.5,1489 356.2,1485.2 357,1487.8 357.8,1486.5 358.5,1489.5 359.2,1484.8 360,1482.2 360.6,1481.6 360.8,1489.6 361.5,1477.4 362.2,1480.1 363,1483.9 363.8,1486.6 364.5,1490 365.2,1492.5 365.7,1486.1 366,1490.9 366.8,1485.7 367.5,1500.1 368.2,1491.1 369,1486.6 369.8,1496.4 370.5,1493.8 371.2,1498.3 372,1497.7 372.8,1487.9 373.5,1497.7 374.2,1493.5 374.3,1493 375,1495.1 375.8,1494.5 376.5,1495.9 377.2,1499.2 378,1495.3 378.8,1496.3 379.5,1501 380.2,1494.4 381,1496.8 381.8,1495.6 382.5,1499.8 383.2,1491.5 384,1496 384.8,1499.1 385.5,1496.1 386.2,1497.3 387,1494.5 387.8,1497 388.5,1494.3 389.2,1498.1 390,1494.5 390.8,1492.8 391.5,1494.8 392.2,1492.9 393,1504.8 393.8,1496.8 394.5,1495 395.2,1493.3 396,1497.5 396.8,1492.3 397.5,1492.6 398.2,1491.9 399,1492.6 399.8,1492.8 400,1489.9 400.5,1495.2 401.2,1489.5 402,1495.9 402.8,1498.4 403.5,1491.3 404.2,1491.8 405,1497.9 405.8,1491.6 406.5,1494.3 407.2,1493.6 408,1493.2 408.8,1490.9 409.5,1496.5 410.2,1494.4 411,1492.5 411.8,1492.9 412.5,1489.7 413.2,1496.4 414,1496 414.8,1500.2 415.5,1491.3 416.2,1501.2 417,1494.7 417.8,1499.5 418.5,1487.9 419.2,1495.4 420,1496.7 420.8,1488.3 421.5,1496.2 422.2,1498.3 423,1491.1 423.8,1498.3 424.5,1496.2 425.2,1498.5 426,1493.3 426.8,1490.3 427.5,1492.6 428.2,1495.4 429,1486.3 429.8,1496.3 430.5,1494.8 431.2,1494.3 432,1483.5 432.8,1490.6 433.5,1493.6 434.2,1492.8 435,1496.2 435.8,1491.3 436.5,1491.7 437.2,1498.1 438,1497.3 438.8,1493.7 439.5,1492.4 440,1487.8 440.2,1496.6 441,1492.9 441.8,1501.3 442.5,1492.3 443.2,1495 444,1492.4 444.8,1496.2 445.5,1505.6 446.2,1493.8 447,1491.5 447.8,1496.6 448.5,1496.2 449.2,1488.5 450,1498.9 450.8,1491.1 451.5,1498.8 452.2,1495.6 453,1493.1 453.8,1496.6 454.5,1492.7 455.2,1489.9 456,1492.9 456.8,1494.8 457.5,1490.3 458.2,1495.2 459,1490.8 459.8,1497.4 460.5,1494.9 461.2,1493.7 462,1485.7 462.8,1496.2 463.5,1486.8 464.2,1492.4 465,1489.3 465.8,1500.8 466.5,1494.6 467.2,1495.7 468,1497.3 468.8,1493.3 469.5,1497.6 470,1489.7 470.2,1498.5 471,1497.3 471.8,1495.1 472.5,1487.2 473.2,1487.6 474,1490 474.8,1492.4 475.5,1496.4 476.2,1492.8 477,1492.4 477.8,1492.7 478.5,1490.1 479.2,1489.4 479.3,1491 480,1492.6 480.8,1488.4 481.5,1485.5 482.2,1485.3 483,1474.9 483.8,1478.4 484.5,1484.3 485.2,1485.6 486,1485.9 486.8,1485.6 487.5,1490.8 488.2,1492.3 488.6,1495.8 489,1489.8 489.8,1493.6 490.5,1487.9 491.2,1486.5 492,1501.1 492.8,1492.5 493.5,1497.9 494.2,1497.1 495,1495.3 495.8,1499.8 496.5,1502.4 497.2,1493.7 497.9,1495.7 498,1490.5 498.8,1496.1 499.5,1497 500.2,1492.9 501,1493 501.8,1491.5 502.5,1492.6 503.2,1496.5 504,1491.3 504.8,1490.6 505.3,1487.4 505.5,1491.9 506.2,1489.6 507,1486.1 507.8,1487.3 508.5,1479.6 509,1482.6 509.2,1480.6 510,1475.3 510.8,1475.3 510.9,1475.7 511.5,1471.4 512.2,1464.9 512.7,1460.3 513,1454.8 513.6,1441.4 513.8,1438.3 514.5,1424.2 514.6,1422.9 515.2,1414.9 516,1408.4 516.4,1405.9 516.8,1407.8 517.5,1410.1 518.2,1414.4 518.3,1413.7 519,1424.6 519.2,1427.3 519.8,1434.5 520.1,1437.9 520.5,1438.7 521.2,1446.6 522,1439.5 522.8,1442.2 522.9,1439.5 523.5,1442.8 524.2,1448.7 524.8,1455.6 525,1463.8 525.2,1470.4 525.8,1474 526.5,1480.3 527.2,1473.5 528,1476.6 528.5,1475.9 528.8,1477.6 529.5,1483.8 530.2,1485.7 530.4,1489 531,1489.1 531.8,1486.7 532.5,1484.6 533.2,1489 534,1483.9 534.8,1481.9 535,1492 535.5,1486 536.2,1480.1 537,1483.1 537.8,1483.6 538.5,1485.1 539.2,1483.5 540,1488.2 540.8,1487.1 541.5,1492.2 542.2,1476.1 543,1483 543.8,1483.2 544.3,1474.6 544.5,1481.4 545.2,1489.9 546,1481 546.8,1483.4 547.5,1481.5 548.2,1473.8 549,1476.2 549.8,1481.1 549.9,1482.6 550.5,1484.2 551.2,1474.4 552,1478.8 552.8,1473.4 553.5,1474.7 554.2,1468 555,1475.4 555.4,1479.5 555.8,1474.1 556.5,1471.2 557.2,1468.5 558,1465.2 558.8,1459.4 559.1,1461.5 559.5,1457.7 560.2,1461.6 561,1456.4 561.8,1451.7 561.9,1450.8 562.5,1440.7 562.9,1432.1 563.2,1424.7 564,1408.1 564.2,1403.9 564.8,1394.9 565.5,1380 566.2,1341.5 567,1290 567.8,1243.7 568.5,1192 569.2,1110.8 569.5,1092.4 570,1101 570.8,1100.5 571.5,1105.8 572.2,1099.9 573,1094.7 573.8,1095.2 574.5,1104.8 575.2,1099.6 576,1097 576.8,1102.4 577.5,1106.6 578.2,1103.6 579,1099.6 579.8,1102.9 580.5,1096.6 581.2,1096.9 582,1100.5 582.8,1096.5 583.5,1108.2 584,1192 584.2,1209.1 585,1243.7 585.8,1265.5 586.5,1290 587.2,1325.4 588,1362.6 588.8,1391.3 588.9,1395 589.5,1407.4 590.2,1419.3 590.7,1423.5 591,1426.4 591.8,1428.4 592.5,1426 593.2,1432.3 593.5,1431.3 594,1442.5 594.4,1449.9 594.8,1452.4 595.5,1458.2 596.2,1459.4 596.3,1460.7 597,1462.5 597.8,1468.1 598.5,1473.1 599.2,1477.4 599.5,1473.7 600,1477.9 600.8,1482.6 601.5,1473 602.2,1477.9 603,1476.6 603.8,1475.3 604.5,1473.2 605.2,1474.1 606,1476.4 606.8,1479.2 607.5,1475.9 608.2,1477.4 608.6,1477.6 609,1478.6 609.8,1468.8 610.5,1474.3 611.2,1475.6 612,1476.7 612.8,1480.3 613.5,1481.5 614.2,1481.3 615,1480.5 615.8,1477.1 616.5,1475.3 617.2,1477.3 618,1486.2 618.8,1479.4 619.5,1479.6 620.2,1486.9 621,1482.7 621.8,1478.7 622.5,1482.3 623.2,1478.7 624,1476.5 624.8,1486.1 625.5,1491.4 626.2,1488.9 627,1479.8 627.8,1479.8 628.5,1489.3 629.2,1487.2 630,1488 630.8,1488.7 631.4,1484.1 631.5,1493.3 632.2,1482.8 633,1492.4 633.8,1486.9 634.5,1483.9 635.2,1486.8 636,1479 636.8,1480.7 637.5,1487.2 638.2,1482.8 639,1488.2 639.8,1491.6 640.5,1488.6 641.2,1484.3 642,1488.5 642.8,1485.5 643.5,1484.7 644.2,1485.5 645,1484.4 645.8,1480.4 646.5,1478.1 647.2,1477.7 648,1486.2 648.8,1476.7 649.5,1489.9 650.2,1483.8 651,1485.2 651.8,1487.8 652.5,1491.7 653.2,1483.3 654,1483.1 654.8,1487.3 655.5,1483.2 656.2,1488.8 657,1482.4 657.8,1486.5 658.5,1485.5 659.2,1484.3 660,1483.3 660.8,1483.1 661.5,1487 662.2,1485 663,1491.2 663.8,1479.8 664.5,1489.3 665.2,1489 666,1492.5 666.8,1486.6 667.5,1491.2 668.2,1487.3 669,1486.6 669.8,1492.8 670.5,1489.6 671.2,1485.8 672,1482.5 672.8,1491.2 673.5,1491 674.2,1481.4 675,1487.4 675.8,1493.9 676.5,1487.2 677.2,1495.1 678,1489.9 678.8,1483.6 679.5,1485.3 680.2,1492 681,1489.8 681.8,1494 682.5,1485.8 683.2,1487.3 684,1495.3 684.8,1488.9 685.5,1481.7 686.2,1488.4 687,1487.1 687.8,1476.3 688.5,1488.7 689.2,1490.1 690,1493.2 690.8,1485.5 691.5,1491.1 692.2,1479.3 693,1491.7 693.8,1486.6 694.5,1482.6 695.2,1487.7 696,1490.1 696.8,1480.2 697.5,1492.3 698.2,1496.1 699,1489.6 699.8,1493.8 700,1487 700.5,1484.3 701.2,1490.7 702,1498.6 702.8,1489.8 703.5,1485.1 704.2,1485.9 705,1489.6 705.8,1488.2 706.5,1484.6 707.2,1492.1 708,1486.7 708.8,1491.7 709.5,1480.8 710.2,1489.7 711,1484.7 711.8,1488.8 712.5,1491.2 713.2,1492.9 714,1489.1 714.8,1488.6 715.5,1487.8 716.2,1486.7 717,1493.7 717.8,1492.4 718.5,1479.4 719.2,1487.7 720,1490.6 720.8,1487.9 721.5,1485.8 722.2,1485.7 723,1484.5 723.8,1484.3 724.5,1492 725.2,1490.1 726,1489.3 726.8,1491.2 727.5,1489.1 728.2,1489 729,1485 729.8,1490.5 730.5,1486 731.2,1488.2 732,1487.9 732.8,1493.4 733.5,1488.8 734.2,1488.8 735,1484.4 735.8,1485.1 736.5,1484.4 737.2,1487.9 738,1490.5 738.8,1490.5 739.5,1486.7 740.2,1485.1 741,1493.1 741.8,1488.4 742.5,1484.3 743.2,1488.5 744,1488.6 744.8,1488.3 745.5,1487.7 746.2,1484.6 747,1493.1 747.8,1478.4 748.5,1493.7 749.2,1484.5 750,1489.5 750.8,1486.1 751.5,1484.5 752.2,1479.6 753,1487.8 753.8,1483.8 754.5,1489.1 755.2,1489.3 756,1487.4 756.8,1479 757.5,1484.6 758.2,1492 759,1488.2 759.8,1490.7 760,1486.1 760.5,1490.6 761.2,1489.3 762,1496 762.8,1490.8 763.5,1493.1 764.2,1486.2 765,1487.5 765.8,1489.5 766.5,1489 767.2,1489.8 768,1487.7 768.8,1485.8 769.5,1491.4 770.2,1492.3 771,1487.8 771.8,1488.9 772.5,1499.3 773.2,1489.8 774,1493.7 774.8,1483.4 775.5,1496.7 776.2,1486 777,1491.2 777.8,1491.7 778.5,1492.8 779.2,1490.1 780,1491.7 780.8,1493.2 781.5,1492.4 782.2,1488.6 783,1491.6 783.8,1487.8 784.5,1496.8 785.2,1487.7 786,1490.7 786.8,1490.6 787.5,1489.5 788.2,1482.8 789,1496.1 789.8,1487.3 790.5,1485.9 791.2,1488.9 792,1488.7 792.8,1495 793.5,1489.9 794.2,1496.3 795,1490.2 795.8,1495.1 796.5,1495.4 797.2,1494.6 798,1489.9 798.8,1485.2 799.5,1500.2 800.2,1485.1 801,1491.5 801.8,1498.7 802.5,1494.4 803.2,1487.5 804,1493.2 804.8,1497.6 805.5,1489.5 806.2,1493.1 807,1494.6 807.8,1487.4 808.5,1493.1 809.2,1492.6 810,1489.3 810.8,1489.7 811.5,1489.9 812.2,1494.7 813,1494.1 813.8,1489.3 814.5,1489 815.2,1494.8 816,1481.7 816.8,1485.3 817.5,1489.4 818.2,1489.6 819,1492.9 819.8,1494.4 820.5,1494.4 821.2,1492 822,1495.6 822.8,1494 823.5,1497.3 824.2,1499.9 825,1493.4 825.8,1491.3 826.5,1496.1 827.2,1492.3 828,1491.9 828.8,1481.8 829.5,1488.8 830,1487 830.2,1492.2 831,1492.3 831.8,1490.5 832.5,1493.2 833.2,1493.5 834,1499.3 834.8,1493.9 835.5,1486.9 836.2,1491.2 837,1493.6 837.8,1494 838.5,1493.1 839.2,1492.5 840,1493 840.8,1484.6 841.5,1486.7 842.2,1490.5 843,1497.2 843.8,1495 844.5,1493.3 845.2,1493.9 846,1497 846.8,1488 847.5,1489.1 848.2,1489.1 849,1494 849.8,1489.2 850.5,1489.1 851.2,1490.8 852,1486.9 852.8,1492.6 853.5,1497.2 854.2,1491.7 855,1490.9 855.8,1494.4 856.5,1494.1 857.2,1481 858,1483 858.8,1496.6 859.5,1497.9 860,1488.4 860.2,1488.6 861,1490.3 861.8,1483.5 862.5,1483.5 863.2,1483.8 864,1487 864.3,1483.6 864.8,1487.9 865.5,1487.6 866.2,1489.1 867,1490.6 867.8,1481.3 868.5,1482.9 869.2,1482.5 870,1477.2 870.8,1490.8 871.5,1486.4 872.2,1480.2 873,1485.9 873.8,1478.9 874.3,1483.3 874.5,1483.4 875.2,1474.3 876,1480.3 876.8,1480 877.5,1484.4 878.2,1474.6 879,1482.3 879.8,1482.3 880,1477.9 880.5,1475.9 881.2,1473.8 882,1475.9 882.8,1470.2 883.5,1463.8 884.2,1466.7 884.3,1469.6 885,1462.8 885.8,1466.5 886.5,1462.3 887.2,1457.8 888,1453.8 888.6,1455.3 888.8,1454 889.5,1449.4 890.2,1451.2 891,1446.3 891.8,1440.8 892.1,1438.5 892.5,1436.9 893.2,1433.7 894,1431.2 894.8,1428.2 895,1426.9 895.5,1424.5 896.2,1420.2 897,1416.9 897.8,1418.2 897.9,1415.7 898.5,1423.8 899.2,1418.4 900,1418.2 900.8,1420.4 901.4,1424.7 901.5,1422.5 902.2,1421.3 903,1432.2 903.6,1430.5 903.8,1426.9 904.5,1430.8 905.2,1438.9 905.7,1436.8 906,1439.5 906.8,1443.6 907.5,1445.9 908.2,1443.9 909,1441.1 909.3,1450 909.8,1445.2 910.5,1447.7 911.2,1454.2 912,1445.3 912.1,1448 912.8,1451.3 913.5,1444.9 914.2,1446.1 915,1440.2 915.8,1437.8 916.5,1434.2 917.1,1430.7 917.2,1428.5 918,1417.6 918.6,1408.2 918.8,1407 919.5,1398.9 920,1394.7 920.2,1393.1 921,1387.6 921.8,1383.5 922.1,1380 922.5,1373.7 923.2,1354.2 924,1330 924.8,1304.8 925,1290 925.5,1192 926,1096.8 926.2,1101.5 927,1098.5 927.8,1102.7 928.5,1094.5 929.2,1100 930,1101.2 930.8,1097.1 931.5,1102.5 932.2,1102.5 933,1103.9 933.8,1097 934,1098.5 934.5,1192 935.2,1255.3 936,1290 936.8,1308.9 937.5,1323.2 938.2,1334.2 939,1343.6 939.8,1351.7 940,1354.7 940.5,1360.1 941.2,1368.3 942,1374.5 942.8,1380.2 943.5,1387.6 944.2,1394.5 944.3,1394.5 945,1401.5 945.8,1408.7 946.5,1416.7 947.1,1422.8 947.2,1424.2 948,1432.3 948.8,1440.1 949.3,1444 949.5,1445.7 950.2,1451.9 951,1453.1 951.8,1460.1 952.5,1461 952.9,1463 953.2,1465.2 954,1464.4 954.8,1468.2 955.5,1468.2 956.2,1471.1 957,1472.3 957.1,1469.8 957.8,1473.9 958.5,1472.6 959.2,1473.3 960,1474.3 960.8,1477.5 961.5,1475 962.2,1477.9 962.9,1478 963,1482.4 963.8,1479.9 964.5,1478.3 965.2,1480.9 966,1479.9 966.8,1484.8 967.5,1483.8 968.2,1482.5 969,1480.8 969.8,1480.7 970,1485.5 970.5,1484.6 971.2,1485.6 972,1479.3 972.8,1482.6 973.5,1481 974.2,1492.9 975,1488.4 975.8,1486.6 976.5,1489 977.1,1483.2 977.2,1489.5 978,1487.4 978.8,1483.4 979.5,1483.6 980.2,1478.6 981,1484.2 981.8,1490.4 982.5,1483 983.2,1478.4 984,1485.8 984.8,1481 985.5,1475.5 985.7,1472.8 986.2,1476.3 987,1465.7 987.8,1480.2 988.5,1479.5 989.2,1484.1 990,1477.7 990.8,1474.3 991.4,1474.7 991.5,1475.5 992.2,1467 993,1466.1 993.8,1466.4 994.5,1462.8 995.2,1457.7 995.7,1458.4 996,1457.6 996.8,1455.6 997.5,1451 998.2,1446.6 998.6,1444.3 999,1440.9 999.8,1432.5 1000.5,1422.7 1001.2,1411 1001.4,1408.4 1002,1397.2 1002.1,1395.1 1002.8,1377.9 1003,1370.3 1003.5,1352.4 1003.8,1341.5 1004.2,1327.6 1004.7,1312.6 1005,1296.8 1005.3,1283.7 1005.8,1276 1006.5,1269 1006.7,1267.6 1007.2,1270.6 1008,1274.8 1008.7,1271.3 1008.8,1272.7 1009.3,1295.3 1009.5,1302.8 1009.9,1318.4 1010.2,1338.1 1010.4,1342.7 1011,1341.2 1011.8,1340.3 1012.5,1338.4 1013.2,1345.8 1013.6,1335.4 1014,1346.5 1014.5,1352.9 1014.8,1356.8 1015.4,1370.3 1015.5,1373 1016.2,1395.1 1016.2,1396 1017,1407.2 1017.1,1408.3 1017.8,1417.5 1018.5,1427.4 1019.2,1436.1 1019.3,1436.9 1020,1445.2 1020.8,1452.8 1021.4,1458.4 1021.5,1459.7 1022.2,1464.1 1023,1467.7 1023.6,1472.9 1023.8,1471.7 1024.5,1476.5 1025.2,1475.9 1026,1478.9 1026.8,1472.7 1027.1,1476.4 1027.5,1475 1028.2,1480.6 1029,1471.4 1029.8,1485.7 1030.5,1475.2 1031.2,1479.2 1031.4,1478.3 1032,1482.1 1032.8,1485.7 1033.5,1483.6 1034.2,1478.7 1035,1477.8 1035.8,1476.7 1036.5,1473 1037.1,1480 1037.2,1478 1038,1475.8 1038.8,1477.9 1039.5,1477.5 1040.2,1481 1041,1479.2 1041.4,1476.6 1041.8,1486.1 1042.5,1485.4 1043.2,1482.7 1044,1488.3 1044.8,1484.8 1045.5,1492.3 1046.2,1484.1 1047,1489.2 1047.8,1485.5 1048.5,1489.9 1049.2,1482.8 1050,1493.1 1050.8,1493.9 1051.5,1487.8 1052.2,1486.5 1053,1494.9 1053.8,1486.7 1054.5,1490.5 1055.2,1485.3 1056,1487.9 1056.8,1487.5 1057.5,1490.8 1058.2,1495.1 1059,1483.9 1059.8,1489.2 1060,1492 1060.5,1490 1061.2,1490.6 1062,1482.4 1062.8,1493.1 1063.5,1499.1 1064.2,1499.4 1065,1494.3 1065.8,1495.9 1066.5,1491.8 1067.2,1490.9 1068,1495.3 1068.8,1495 1069.5,1489.6 1070.2,1494.4 1071,1490.6 1071.4,1491.6 1071.8,1492.5 1072.5,1493.1 1073.2,1490.6 1074,1491.5 1074.8,1498.1 1075.5,1497.4 1076.2,1491.4 1077,1493.4 1077.8,1494.8 1078.5,1499.4 1079.2,1498.5 1080,1493.1 1080.8,1489.8 1081.5,1489.6 1082.2,1493.7 1083,1497.2 1083.8,1492.3 1084.5,1487.4 1085.2,1480.9 1086,1494.2 1086.8,1495.2 1087.5,1496 1088.2,1492.4 1089,1491.7 1089.8,1490.2 1090.5,1494.1 1091.2,1485.7 1092,1498.8 1092.8,1489.2 1093.5,1488.5 1094.2,1484.1 1095,1490.1 1095.8,1501.9 1096.5,1494 1097.2,1501.1 1098,1485.5 1098.8,1488.6 1099.5,1493.9 1100,1492.2 1100.2,1493.2 1101,1493.4 1101.8,1487.7 1102.5,1485.7 1103.2,1490.3 1104,1487.3 1104.8,1492.3 1105.5,1494.3 1106.2,1488.3 1107,1488.5 1107.8,1491.4 1108.5,1482.1 1109.2,1491.7 1110,1497.4 1110.8,1490.6 1111.5,1487.2 1112.2,1494.8 1113,1493.3 1113.8,1498.3 1114.5,1489.9 1115.2,1490.5 1116,1491.5 1116.8,1495.4 1117.5,1497 1118.2,1490.4 1119,1493.8 1119.8,1494.5 1120.5,1495.5 1121.2,1492.5 1122,1492.1 1122.8,1485.8 1123.5,1492.9 1124.2,1495.4 1125,1491.8 1125.8,1493 1126.5,1499.7 1127.2,1487.2 1128,1489 1128.8,1487.3 1129.5,1492.7 1130.2,1493.6 1131,1488.3 1131.8,1488 1132.5,1493.6 1133.2,1490.9 1134,1488.8 1134.8,1496.3 1135.5,1496.5 1136.2,1494.3 1137,1497.2 1137.8,1495.5 1138.5,1489.2 1139.2,1491.7 1140,1489.4 1140.8,1488.6 1141.5,1493.5 1142.2,1491.9 1143,1490.9 1143.8,1490.7 1144.5,1490.2 1145.2,1485.8 1146,1490.3 1146.8,1491.6 1147.5,1491.9 1148.2,1488.1 1149,1492.9 1149.8,1499.8 1150.5,1493 1151.2,1488.5 1152,1496.8 1152.8,1496.1 1153.5,1497.5 1154.2,1489.4 1155,1493.5 1155.8,1494.5 1156.5,1500.5 1157.2,1499.3 1158,1494.4 1158.8,1494.5 1159.5,1501.2 1160.2,1499.2 1161,1485 1161.8,1494.4 1162.5,1496.3 1163.2,1496 1164,1498 1164.8,1492.4 1165.5,1498.7 1166.2,1494.5 1167,1488.9 1167.8,1491.2 1168.5,1494.1 1169.2,1497.4 1170,1497.3 1170.8,1500.2 1171.5,1495.7 1172.2,1495.6 1173,1491.1 1173.8,1495.8 1174.5,1495.1 1175.2,1491.3 1176,1499.5 1176.8,1489.8 1177.5,1505.2 1178.2,1496 1179,1493.9 1179.8,1495.5 1180.5,1496.6 1181.2,1489.2 1182,1489.9 1182.8,1495.7 1183.5,1495.3 1184.2,1496.9 1185,1494.9 1185.8,1496.6 1186.5,1496.3 1187.2,1488.9 1188,1499.3 1188.8,1491.4 1189.5,1492.2 1190.2,1499.3 1191,1494 1191.8,1494.2 1192.5,1496 1193.2,1494.3 1194,1501.4 1194.8,1492.2 1195.5,1494.5 1196.2,1490.1 1197,1495.6 1197.8,1490.2 1198.5,1488 1199.2,1496.5 1200,1493.3 1200.8,1495.9 1201.5,1491.7 1202.2,1489.6 1203,1489.9 1203.8,1487.9 1204.5,1487.2 1205.2,1494.5 1206,1496 1206.8,1499 1207.5,1496.5 1208.2,1489.8 1209,1493.9 1209.8,1492.2 1210.5,1497.4 1211.2,1495.1 1212,1495.7 1212.8,1495.1 1213.5,1493.3 1214.2,1492.9 1215,1494.7 1215.8,1493.4 1216.5,1493.6 1217.2,1497.3 1218,1499.5 1218.8,1503.3 1219.5,1498.8 1220.2,1493.2 1221,1496.9 1221.8,1494.7 1222.5,1494.2 1223.2,1501.7 1224,1500.2 1224.8,1493.4 1225.5,1495.3 1226.2,1493 1227,1492.3 1227.8,1493.6 1228.5,1491.4 1229.2,1492.3 1230,1497.3 1230.8,1493.8 1231.5,1488.4 1232.2,1496.8 1233,1500.3 1233.8,1497.1 1234.5,1494.8 1235.2,1492.3 1236,1499.4 1236.8,1493.6 1237.5,1489.9 1238.2,1496.3 1239,1495.3 1239.8,1491.8 1240.5,1489.3 1241.2,1487.1 1242,1499 1242.8,1491 1243.5,1495.4 1244.2,1490.8 1245,1492.9 1245.8,1499 1246.5,1496.7 1247.2,1494.4 1248,1493 1248.8,1498.8 1249.5,1497.8 1250.2,1497.8 1251,1499.2 1251.8,1499.6 1252.5,1490.6 1253.2,1497 1254,1492.2 1254.8,1495.5 1255.5,1497.3 1256.2,1498.5 1257,1497.4 1257.8,1487.5 1258.5,1494.5 1259.2,1500.2 1260,1494.8 1260.8,1495.7 1261.5,1504.7 1262.2,1494 1263,1491.5 1263.8,1498.4 1264.5,1491.4 1265.2,1493.5 1266,1501.8 1266.8,1499.4 1267.5,1496.9 1268.2,1492 1269,1495 1269.8,1501.5 1270.5,1495.1 1271.2,1496 1272,1502 1272.8,1497.6 1273.5,1491.5 1274.2,1490.3 1275,1496.1 1275.8,1492.3 1276.5,1495.4 1277.2,1495.1 1278,1490.1 1278.8,1492.2 1279.5,1487.9 1280,1487.2 1280.2,1491.9 1281,1484.2 1281.8,1482.1 1282.5,1481.2 1283.2,1480.7 1283.4,1478.6 1284,1484 1284.8,1485 1285.5,1485 1286.2,1488.5 1287,1483.5 1287.8,1491.5 1288.5,1492.9 1289.2,1491.2 1290,1493.1 1290.8,1486.2 1291.5,1492.9 1292.2,1499.1 1293,1495.4 1293.8,1487.8 1294.5,1494.1 1295,1496.7 1295.2,1496.3 1296,1490.7 1296.8,1494.8 1297.5,1493.1 1298.2,1496.5 1299,1498.2 1299.8,1498.1 1300.5,1498.4 1301.2,1497.6 1302,1491.4 1302.8,1502.2 1303.5,1497.6 1304.2,1488.7 1305,1490.8 1305.8,1495.5 1306.5,1504.8 1307.2,1495 1308,1504 1308.8,1500 1309.5,1499.1 1310.2,1498.9 1311,1498.4 1311.8,1498 1312.5,1492.1 1313.2,1497 1314,1493.9 1314.8,1491 1315.5,1495.1 1316.2,1501.2 1317,1498.2 1317.8,1496.3 1318.5,1494.9 1319.2,1495.8 1320,1500.8 1320.8,1499.5 1321.5,1498.2 1322.2,1493.8 1323,1503.1 1323.8,1501.1 1324.5,1494.4 1325.2,1499.7 1326,1500.2 1326.8,1494.4 1327.5,1504.2 1328.2,1499.8 1329,1495.2 1329.8,1503.9 1330.5,1502.9 1331.2,1502.1 1332,1491.2 1332.8,1499.9 1333.5,1504.7 1334.2,1498.5 1335,1503.2 1335.8,1499.9 1336.5,1488 1337.2,1501.3 1338,1494.4 1338.8,1499.3 1339.5,1497 1340.2,1496.6 1341,1497.6 1341.8,1500.1 1342.5,1496 1343.2,1492.4 1344,1498.5 1344.8,1502.1 1345.5,1505.9 1346.2,1497.8 1347,1498.7 1347.8,1505.3 1348.5,1498.1 1349.2,1498.8 1350,1496.8 1350.8,1503 1351.5,1497.7 1352.2,1502.4 1353,1500.4 1353.8,1498 1354.5,1495.2 1355.2,1505.9 1356,1505.1 1356.8,1501.3 1357.5,1493.9 1358.2,1501.1 1359,1499.5 1359.8,1495.3 1360.5,1495.5 1361.2,1494.1 1362,1498.4 1362.8,1498.4 1363.5,1499.6 1364.2,1499.6 1365,1499.2 1365.8,1505.6 1366.5,1501.5 1367.2,1500.1 1368,1497.2 1368.8,1493.2 1369.5,1498.8 1370.2,1504.9 1371,1489.6 1371.8,1488.5 1372.5,1500.2 1373.2,1495.2 1374,1496 1374.8,1500.8 1375.5,1499.5 1376.2,1498.6 1377,1501.5 1377.8,1500.3 1378.5,1502.6 1379.2,1505 1380,1507.4 1380.8,1498.2 1381.5,1503 1382.2,1500.7 1383,1498 1383.8,1501.7 1384.5,1498.5 1385.2,1496.5 1386,1497.2 1386.8,1500.8 1387.5,1494.6 1388.2,1492.4 1389,1502.1 1389.8,1501 1390.5,1502.9 1391.2,1498 1392,1491.9 1392.8,1499.4 1393.5,1496.9 1394.2,1491.9 1395,1498.7 1395.8,1502.2 1396.5,1491.9 1397.2,1489.4 1398,1499.5"/><path d="M87,1758.1 87.8,1762.6 88.5,1749.7 89.2,1763.3 90,1756.5 90.8,1753.6 91.5,1753.6 92.2,1752.5 93,1755.8 93.8,1759.9 94.5,1759 95.2,1759.2 96,1750.1 96.8,1750.5 97.5,1762.7 98.2,1760.4 99,1765.2 99.8,1761.4 100.5,1752.6 101.2,1761.6 102,1759.1 102.8,1757.4 103.5,1753.4 104.2,1756.6 105,1756 105.8,1760 106.5,1757 107.2,1762.7 108,1753.5 108.8,1758.3 109.5,1758.4 110.2,1753.1 111,1751.9 111.8,1760.4 112.5,1758.5 113.2,1755.8 114,1757.9 114.8,1753.8 115.5,1757.3 116.2,1754 117,1757.1 117.8,1760.2 118.5,1755 119.2,1759.6 120,1752.2 120.8,1755.1 121.5,1750.9 122.2,1755.8 123,1756.5 123.8,1755.4 124.5,1755.1 125.2,1761.3 126,1761.6 126.8,1751.3 127.5,1760.6 128.2,1749.3 129,1753.1 129.8,1755.3 130.5,1756.3 131.2,1751.8 132,1753 132.8,1756.1 133.5,1753.1 134.2,1753.3 135,1758.3 135.8,1759.3 136.5,1755.4 137.2,1755.7 138,1755.5 138.8,1753.8 139.5,1753.5 140.2,1751.5 141,1758 141.8,1755.1 142.5,1754.9 143.2,1756.1 144,1757.4 144.8,1760.8 145.5,1754.2 146.2,1753.6 147,1755.9 147.8,1751.8 148.5,1760 149.2,1758.7 150,1757.7 150.8,1754.5 151.5,1757.8 152.2,1758.9 153,1756.7 153.8,1753.6 154.5,1748.1 155.2,1758.2 156,1753.1 156.8,1751 157.5,1757.6 158.2,1755.4 159,1748.4 159.8,1753.3 160.5,1752.5 161.2,1757.2 162,1745.8 162.8,1751.4 163.5,1752.1 164.2,1757.7 165,1747.9 165.8,1741.6 166.5,1746.3 167.2,1749.3 168,1748.7 168.8,1748.9 169.5,1744.1 170,1739.9 170.2,1743.6 171,1739.4 171.8,1736.9 172.5,1735.8 173.2,1740 173.3,1731.5 174,1733 174.8,1737.7 175.5,1740.4 176.2,1741.6 177,1742.4 177.8,1747.4 178.5,1751.5 179.2,1750.9 180,1752 180.8,1755 181.5,1744.1 182.2,1746.1 183,1749.2 183.8,1747.3 184.5,1748.1 185.2,1752.3 186,1747 186.8,1750.3 187.5,1744 188.2,1748.2 189,1757.2 189.8,1749.9 190.5,1753.3 191.2,1754.8 192,1750.1 192.8,1754.3 193.5,1752.8 194.2,1754.7 195,1749.5 195.8,1746.4 196.5,1748 197.2,1749.8 198,1754.1 198.8,1751.2 199.5,1750.4 200.2,1751.3 201,1756.3 201.8,1749.8 202.5,1757.9 203.2,1747.2 204,1749.7 204.8,1755.3 205.5,1754 206.2,1748.7 207,1751.6 207.8,1749.2 208.5,1755.3 209.2,1754.1 210,1749.2 210.8,1753.5 211.5,1750.6 212.2,1751.7 213,1752.3 213.8,1749.8 214.5,1753.7 215.2,1753.8 216,1753.7 216.8,1756.3 217.5,1750.9 218.2,1746.2 219,1750.1 219.8,1752.8 220.5,1752.1 221.2,1754.3 222,1755.1 222.8,1751.5 223.5,1751.6 224.2,1748.1 225,1756 225.8,1751 226.5,1747.8 227.2,1747.7 228,1750.4 228.8,1758.1 229.5,1755 230.2,1745.4 231,1751.5 231.8,1753 232.5,1754.4 233.2,1753.3 234,1749.5 234.8,1753.6 235.5,1749.8 236.2,1743.3 237,1749.2 237.8,1749.3 238.5,1755.7 239.2,1756.1 240,1747.9 240.8,1752.7 241.5,1752.4 242.2,1746.4 243,1744 243.8,1751.6 244.5,1752.5 245.2,1749.7 246,1741.4 246.8,1751.9 247.5,1749.7 248.2,1748.5 249,1750.7 249.8,1747.6 250,1754.2 250.5,1752 251.2,1749.8 252,1753.1 252.8,1751.9 253.5,1746.1 254.2,1751.5 255,1750.3 255.8,1745.3 256.5,1749.5 257.2,1753.7 258,1749.7 258.8,1757.6 259.5,1758.8 260.2,1751 261,1754.3 261.8,1760 262.5,1750.9 263.2,1748.7 264,1750.6 264.8,1746.9 265.5,1747.1 266.2,1753.2 267,1750.7 267.8,1753.4 268.5,1754.3 269.2,1749.5 270,1751.7 270.8,1751.5 271.5,1749.9 272.2,1749.3 273,1753.8 273.8,1752.1 274.5,1753.9 275.2,1756.6 276,1756.6 276.8,1748.4 277.5,1749.4 278.2,1751.7 279,1753.2 279.8,1756.4 280.5,1749 281.2,1751.1 282,1753.8 282.8,1757.6 283.5,1758.2 284.2,1748.9 285,1752.1 285.8,1749.7 286.5,1756.2 287.2,1754.6 288,1751.5 288.6,1750.5 288.8,1754 289.5,1756.6 290.2,1749.6 291,1750.9 291.8,1752 292.5,1751.1 293.2,1751.6 294,1746.2 294.8,1746.9 295.5,1740.8 296,1748.2 296.2,1751.6 297,1739.8 297.8,1744.2 298.5,1748.7 299.2,1744.3 300,1737.3 300.8,1747 301.5,1737.5 302.2,1745.8 303,1738.3 303.8,1737.3 304,1740.1 304.5,1740 305.2,1742.6 306,1742.5 306.8,1740.5 307.5,1746.5 308,1744.6 308.2,1743.2 309,1743.6 309.8,1744.2 310.5,1745.7 311.2,1749.2 312,1749.7 312.8,1748.8 313.5,1753 314.2,1748.4 314.3,1751.1 315,1752.1 315.8,1744.6 316.5,1746 317,1751.2 317.2,1742.8 318,1747.3 318.8,1739.9 319.5,1742.4 320.2,1736.5 320.3,1737.9 321,1737.9 321.8,1736.7 322.5,1742 323.2,1740.8 324,1740.3 324.8,1737.2 325.4,1741 325.5,1738.7 326.2,1734.7 327,1729.9 327.8,1729.9 328.5,1726.9 329.2,1723.2 329.3,1724 330,1721.1 330.8,1716.5 331.5,1714.6 332,1712.6 332.2,1711.6 333,1707.8 333.8,1704.8 334.5,1703.9 335.2,1708.3 335.3,1711.8 336,1703.1 336.8,1705.4 337.5,1709.6 338,1710.6 338.2,1712.1 339,1716 339.8,1716.2 340,1719.6 340.5,1721.6 341.2,1725.5 342,1728.9 342.8,1730.7 343.4,1735.4 343.5,1730.8 344.2,1734.6 345,1736.7 345.8,1739.5 346.5,1742.8 346.9,1741 347.2,1746.2 348,1747.4 348.8,1747.8 349.5,1750.1 350.2,1746.5 350.3,1741 351,1750.2 351.8,1752.2 352.5,1752.3 353.2,1747.6 354,1750.4 354.8,1759.1 355.5,1755.3 356,1754.9 356.2,1751.4 357,1755.5 357.8,1757.7 358.5,1755.6 359.2,1751.2 360,1753.9 360.8,1749.4 361.5,1751.6 362.2,1755.1 363,1750.8 363.8,1752 364.5,1758.5 365.2,1752.3 365.7,1755.9 366,1751.8 366.8,1748.6 367.5,1753.1 368.2,1751.7 369,1745.4 369.8,1748.6 370.5,1751.6 371.2,1759 372,1751.2 372.8,1753.3 373.5,1756 374.2,1754.7 375,1752.3 375.8,1760.3 376.5,1759 377.2,1744.4 378,1757.7 378.8,1756.1 379.5,1757.9 380.2,1754.5 381,1757.4 381.8,1761.8 382.5,1761 383.2,1761.4 384,1758.6 384.8,1758.2 385.5,1758.3 386.2,1750.4 387,1763.6 387.8,1755.8 388.5,1756.2 389.2,1755.5 390,1756.9 390.8,1746.9 391.5,1756 392.2,1750.3 393,1751.4 393.8,1748.1 394.5,1748.7 395.2,1757.6 396,1753.5 396.8,1755 397.5,1754.8 398.2,1750.9 399,1752.7 399.8,1750.6 400,1754.2 400.5,1746.8 401.2,1753.9 402,1758.9 402.8,1760.1 403.5,1759.8 404.2,1757.3 405,1751.4 405.8,1758.8 406.5,1757.3 407.2,1756.2 408,1750.5 408.8,1756.6 409.5,1760.5 410.2,1757.9 411,1754.1 411.8,1757 412.5,1754.8 413.2,1755.4 414,1758 414.8,1755.9 415.5,1754.8 416.2,1756 417,1751.2 417.8,1750.5 418.5,1756.1 419.2,1751.9 420,1756.2 420.8,1746.9 421.5,1758.5 422.2,1753.4 423,1760.2 423.8,1744.1 424.5,1747.1 425.2,1758.9 426,1754 426.8,1754.5 427.5,1753.7 428.2,1753.8 429,1755.2 429.8,1749.1 430.5,1752.3 431.2,1757.9 432,1753.5 432.8,1750.3 433.5,1753 434.2,1756.6 435,1751.7 435.8,1751.7 436.5,1754.2 437.2,1755.5 438,1757.9 438.8,1751.6 439.5,1753.4 440,1756.1 440.2,1744.6 441,1752.5 441.8,1753.7 442.5,1751.5 443.2,1748.5 444,1754 444.8,1756.5 445.5,1751.3 446.2,1749.7 447,1750.6 447.8,1757.4 448.5,1756.2 449.2,1751.5 450,1747 450.8,1746.3 451.5,1749.8 452.2,1749.8 453,1752 453.8,1746.5 454.5,1750.4 455.2,1752.9 456,1744.2 456.8,1759.6 457.5,1752.9 458.2,1752.6 459,1745.5 459.8,1746.5 460.5,1754.4 461.2,1753.8 462,1740.9 462.8,1754.8 463.5,1753.1 464.2,1752.7 465,1745.9 465.8,1751.2 466.5,1747.8 467.2,1752.4 468,1757.3 468.8,1752.6 469.5,1754.1 470,1748.9 470.2,1746.2 471,1750.2 471.8,1754.2 472.5,1755.9 473.2,1749.9 474,1751.2 474.8,1748.6 475.5,1743.5 476.2,1750.5 477,1751.5 477.8,1748.6 478.5,1749.5 479.2,1743.2 480,1750.4 480.8,1751.9 481.5,1746.2 482.2,1743.7 483,1740.9 483.8,1735.8 483.9,1739.4 484.5,1737.2 485.2,1745.8 486,1744.9 486.8,1746 487.5,1745.3 487.7,1755.5 488.2,1752.9 489,1752.7 489.8,1746.8 490.5,1750.3 491.2,1748.2 492,1757.4 492.8,1751.5 493.5,1761.2 494.2,1755.9 495,1752.7 495.4,1759.2 495.8,1745.8 496.5,1750.7 497.2,1752.4 498,1758.1 498.8,1758 499.5,1755.2 500.2,1746.8 501,1751.6 501.8,1749.2 502.5,1758.3 503.2,1751.6 504,1755.4 504.8,1760.1 505.5,1752.5 506.2,1755.2 507,1750.8 507.8,1752.2 508.5,1752 509.2,1751.6 510,1751.4 510.8,1749.3 511.5,1757.6 512.1,1747.7 512.2,1750.9 513,1747.7 513.8,1742.5 514.5,1742.7 515.2,1738.6 516,1732.5 516.8,1732.4 517.5,1728.4 518.2,1731.9 519,1734.3 519.8,1732.3 520.5,1723.2 521.2,1720.6 522,1727.9 522.4,1732.1 522.8,1725.7 523.5,1729.2 524.2,1719.5 525,1724.2 525.8,1726.2 526.3,1722.8 526.5,1723.6 527.2,1727.3 528,1725.1 528.8,1726.2 529.5,1732.1 530.2,1732.7 531,1729.6 531.4,1735.1 531.8,1731.3 532.5,1736.1 533.2,1733.7 534,1732.8 534.8,1731 535.5,1734.9 536.2,1734 537,1741.7 537.8,1734.2 538.5,1729.2 539.2,1742.6 540,1726.6 540.8,1741 541.5,1731.3 542.2,1740.1 543,1733.9 543.8,1736.8 544.3,1734.8 544.5,1734.2 545.2,1736 546,1731.2 546.8,1733.1 547.5,1727.5 548.2,1726.7 549,1725.7 549.8,1725.3 550.5,1728.7 550.7,1721.4 551.2,1720.7 552,1719.1 552.8,1721.4 553.5,1724.8 554.2,1719.5 555,1720.9 555.8,1719.5 556.5,1721.5 557.2,1713.5 558,1721.6 558.4,1722 558.8,1717.1 559.5,1712.7 559.7,1710.8 560.2,1708.2 561,1702.4 561.8,1697.8 562.3,1692 562.5,1690.1 563.2,1684.8 564,1678.8 564.8,1673.4 564.8,1673 565.5,1667.7 566.1,1660 566.2,1656.4 567,1620 567.8,1566.5 568.5,1500 569.2,1424.9 570,1342.8 570.5,1290 570.8,1266.7 571.5,1192 572,1104.8 572.2,1099.3 573,1103.4 573.8,1103.1 574.5,1105.9 575.2,1102.4 576,1101.6 576.8,1097.3 577.5,1100.6 578.2,1107 579,1093.3 579.8,1097.4 580.5,1101.3 581.2,1106.5 582,1095.9 582.8,1098.5 583.5,1100.8 584,1112.3 584.2,1137.7 584.5,1192 585,1240.8 585.5,1290 585.8,1335.3 586.5,1500 587.2,1584.7 587.5,1600 588,1618.1 588.8,1636.1 589.5,1650 590.2,1663.5 591,1675.4 591.8,1685.4 591.8,1685.8 592.5,1693.8 593.2,1702.6 594,1708.1 594.8,1711.9 595,1714.7 595.5,1715.1 596.2,1718.9 597,1722.5 597.8,1720.4 598.5,1719.3 599.2,1722.5 600,1723.5 600.8,1724.1 600.8,1723.5 601.5,1730.8 602.1,1734.2 602.2,1730.5 603,1737.4 603.8,1732.5 604.5,1732.1 605.2,1736.1 606,1730.3 606.8,1732.1 607.5,1728.7 608.2,1726.4 608.5,1733.5 609,1738.3 609.8,1730 610.5,1737.6 611.2,1738.3 612,1740.9 612.8,1734.6 613.5,1736.8 614.2,1745.8 615,1739.8 615.8,1740 616.5,1742.8 617.2,1742.4 618,1737.9 618.8,1739.2 619.5,1742.5 620.2,1741.1 621,1737.2 621.8,1745 622.5,1743.4 623.2,1738.8 624,1737.9 624.8,1743.7 625.5,1730.7 626.2,1740.5 627,1737.8 627.8,1737.5 627.8,1743.5 628.5,1741.3 629.2,1752.1 630,1739.6 630.8,1742 631.5,1735.5 632.2,1745 633,1739.2 633.8,1742.7 634.5,1747.1 635.2,1747 636,1744.7 636.8,1748 637.5,1741.7 638.2,1740 639,1737.9 639.8,1746.1 640.5,1751.6 640.7,1742.7 641.2,1744 642,1742.8 642.8,1745.9 643.5,1736.9 644.2,1747.3 645,1748.2 645.8,1741.3 646.5,1740 647.2,1740.5 648,1746.1 648.8,1749.6 649.5,1740.1 650.2,1737.9 651,1744.3 651.8,1745 652.5,1746.7 653.2,1741.2 654,1746.8 654.8,1748.2 655.5,1737.5 656.2,1742.8 657,1746.3 657.8,1746.9 658.5,1741.7 659.2,1736.3 660,1740.8 660.8,1738.3 661.5,1741.8 662.2,1747.8 663,1741.3 663.8,1744.1 664.5,1739.1 665.2,1747.4 666,1741.3 666.8,1739.6 667.5,1750.9 668.2,1744.9 669,1746.3 669.8,1735.8 670.5,1749.1 671.2,1750.2 672,1742.9 672.8,1742.2 673.5,1741.1 674.2,1747.5 675,1737.2 675.8,1744.5 676.5,1750.9 677.2,1743.7 678,1750.8 678.8,1743.1 679.5,1741.8 680.2,1746.5 681,1742.6 681.8,1743.2 682.5,1741.2 683.2,1738 684,1741.4 684.8,1745.3 685.5,1746.7 686.2,1742.2 687,1743.6 687.8,1738.8 687.9,1741.7 688.5,1741.7 689.2,1741.7 690,1742.4 690.8,1743.5 691.5,1746.8 692.2,1745 693,1743.9 693.8,1737.1 694.5,1738.6 695.2,1741.8 696,1741.9 696.8,1744.3 697.5,1734.5 698.2,1741.9 699,1741.6 699.8,1739.7 700.5,1737.8 701.2,1741.7 702,1740.1 702.8,1742.4 703.5,1732.7 704.2,1736.9 705,1746.2 705.8,1741.1 706.5,1737.1 707.2,1738.7 708,1734.8 708.8,1745.2 709.5,1745.1 710.2,1742.8 711,1743.9 711.8,1741 712.5,1744.1 713.2,1741.3 714,1744.2 714.8,1738.5 715.5,1738.1 716.2,1736.2 717,1736.4 717.8,1732 718.5,1743.1 719.2,1743.3 720,1740.6 720.8,1741.6 721.5,1738.6 722.2,1739.5 723,1732.4 723.8,1737.3 724,1730.6 724.5,1735 725.2,1736.5 726,1736.5 726.8,1733.7 727.5,1742.8 728.2,1741.8 729,1736.1 729.8,1733.5 730.5,1736.5 731.2,1742.2 732,1731.5 732.8,1742.1 733.5,1738.7 734.2,1737.9 735,1743.5 735.8,1739.9 736.5,1738.7 737.2,1745 738,1734.5 738.8,1746.9 739.5,1737.8 740.2,1738 741,1747.5 741.8,1754.4 742.5,1746.5 743.2,1738.8 744,1733.8 744.8,1743.3 745,1742.4 745.5,1740.2 746.2,1742.1 747,1740.2 747.8,1746.1 748.5,1742.7 749.2,1742.4 750,1734.9 750.8,1744.5 751.5,1738 752.2,1746.6 753,1743.8 753.8,1736.3 754.5,1742.9 755.2,1739.8 756,1746.7 756.8,1746.4 757.5,1748.9 758.2,1742 759,1747 759.8,1740 760.5,1746.7 761.2,1744.7 762,1746.7 762.8,1745.8 763.5,1750 764.2,1744.9 765,1745.6 765.8,1751.9 766.5,1746.4 767.2,1744.7 768,1743.5 768.8,1747.1 769.5,1747.1 770.2,1749.8 771,1746.8 771.8,1750.3 772.5,1746.7 773.2,1754 774,1747.8 774.8,1750.8 775.5,1749.8 776.2,1743.3 777,1752.5 777.8,1747 778.5,1752.3 779.2,1741.2 780,1741.9 780.8,1741.4 781.5,1742.3 782.2,1747.8 783,1749.2 783.8,1745.7 784.5,1748.2 785.2,1747 786,1752.6 786.8,1752.5 787.5,1751 788.2,1752.4 789,1756.6 789.8,1752.6 790.5,1744.3 791.2,1749.4 792,1749.1 792.8,1753.4 793.5,1752.2 794.2,1753.7 795,1744.4 795.8,1755.8 796.5,1749.9 797.2,1754.2 798,1752.3 798.8,1747.1 799.5,1747.3 799.6,1752.8 800.2,1754.9 801,1746.9 801.8,1746 802.5,1742.5 803.2,1746.8 804,1747.5 804.8,1749.2 805.5,1752.6 806.2,1748.4 807,1745.9 807.8,1748.7 808.5,1749.9 809.2,1750.7 810,1750.6 810.8,1749.4 811.5,1752.1 812.2,1748.8 813,1745.9 813.8,1749.2 814.5,1757 815.2,1746.6 816,1759.2 816.8,1747.8 817.5,1752.4 818.2,1743.4 819,1749.2 819.8,1755 820.5,1744.9 821.2,1746.6 822,1750.6 822.8,1750.7 823.5,1743.5 824.2,1744.4 825,1750.2 825.8,1750.2 826.5,1751.8 827.2,1748.3 828,1751.3 828.8,1753.5 829.5,1744.1 830.2,1752.6 831,1751.6 831.8,1753.5 832.5,1747.1 833.2,1748.4 834,1748.8 834.8,1746.6 835.5,1752.2 836.2,1749.2 837,1744.4 837.8,1749.2 838.5,1744.1 839.2,1742.1 840,1744 840.8,1748 841.5,1748.4 842.2,1747.4 843,1749.9 843.8,1755.1 844.5,1743.4 845.2,1749.3 846,1748.7 846.8,1743 847.5,1745.6 848.2,1748.2 849,1747.5 849.8,1744.2 850.5,1750.2 851.2,1748.2 852,1749.6 852.8,1753.2 853.5,1742.2 854.2,1750.8 855,1748.8 855.8,1743.6 856.5,1746.6 857.2,1745.2 858,1742.2 858.8,1749.7 859.5,1743.6 860.2,1738.8 861,1749.5 861.8,1744.5 862.5,1747.6 863.2,1746.9 864,1744.9 864.8,1744.5 865.5,1736.3 866.2,1744.2 867,1741.3 867.8,1747.4 868.5,1742.5 868.6,1742.9 869.2,1745.7 870,1740.8 870.8,1742.3 871.5,1743 872.2,1746.1 873,1739 873.8,1747.1 874.5,1743.4 875.2,1741.8 876,1744.7 876.8,1747 877.5,1747.2 878.2,1738.7 879,1747.3 879.8,1742.1 880.5,1746.4 881.2,1737.3 882,1740.2 882.8,1740 883.5,1735.4 884.2,1738 885,1742.5 885.8,1742.8 886.5,1740.7 887.2,1738.9 888,1735.8 888.3,1744.6 888.8,1732.1 889.5,1732 890.2,1732.9 891,1735.4 891.8,1732.4 892.5,1735.6 893.2,1727 894,1733.9 894.8,1736 895,1732.8 895.5,1728.4 896.2,1726.4 897,1729.6 897.8,1720.6 898.5,1721.6 899.2,1717.6 900,1721.1 900.8,1727.6 901.5,1719 902.2,1724.7 903,1716.7 903.8,1718.9 904.5,1719.1 905.2,1725.4 906,1718.3 906.8,1719.3 907.5,1721.9 908,1727.8 908.2,1722.1 909,1728.1 909.8,1722.3 910.5,1719.3 911.2,1722 912,1715.9 912.8,1713.5 913.5,1714.1 914.2,1708.7 914.6,1708.5 915,1708.4 915.8,1706.1 916.5,1702.2 917.2,1696.7 918,1689.9 918.8,1682.7 919.5,1673.4 920.2,1662.4 921,1650 921.8,1636.3 922.5,1617.9 923,1600 923.2,1585.3 924,1504.9 924.5,1440 924.8,1406.9 925.5,1290 926,1192 926.2,1134.1 926.5,1100.2 927,1097.8 927.8,1089.3 928.5,1097.8 929.2,1098.3 930,1101.5 930.8,1095 931.5,1101.7 932.2,1100.1 933,1105.5 933.8,1097.2 934.5,1100 935.2,1100.9 935.5,1102.2 936,1192 936.3,1290 936.8,1432.5 936.8,1440 937.5,1509.7 938.2,1560.1 939,1589.7 939.5,1599.9 939.8,1603.4 940.5,1611.6 941.2,1617 942,1622.5 942.8,1625.1 943.5,1630.3 944.2,1635.3 944.5,1637.5 945,1641.9 945.8,1648.7 946.5,1656.2 947.2,1663.7 948,1671.1 948.8,1678.3 949,1680.4 949.5,1684.3 950.2,1690.1 951,1696.4 951.8,1700.6 952.5,1705.7 953.2,1710.4 953.4,1712.2 954,1712.2 954.8,1715.5 955.5,1718.1 956.2,1723.7 957,1726.5 957.8,1730.4 958.5,1734.4 959.2,1728.1 959.4,1730.9 960,1731.3 960.8,1731.4 961.5,1735.8 962.2,1735.6 963,1738.8 963.8,1738.4 964.5,1735.6 965.2,1743.3 966,1743.7 966.3,1740.1 966.8,1733.7 967.5,1733.2 968.2,1736.9 969,1743.7 969.8,1745 970.5,1742.8 971.2,1743 972,1733.2 972.8,1744.3 973.5,1740.4 974.2,1742 975,1739.5 975.8,1735.6 976.5,1746.1 977.2,1744.7 978,1739.3 978.8,1737.5 979.5,1741 980,1746.6 980.2,1745.4 981,1743.3 981.8,1745.8 982.5,1743 983.2,1737.9 984,1741.7 984.8,1738.4 985.5,1734.9 986.2,1738.9 987,1735.5 987.8,1729 988.5,1733.7 988.6,1731.9 989.2,1729.2 990,1727.5 990.8,1724.5 991.5,1721.9 992.2,1724.1 993,1722.5 993.8,1718.8 994.5,1717.7 995.2,1714.1 995.4,1713.7 996,1712.9 996.8,1709.7 997.5,1707.2 998.2,1701.5 999,1698.3 999.8,1693.6 1000.5,1689.4 1000.6,1689.5 1001.2,1684.7 1002,1678.9 1002.8,1673.5 1003.5,1667.3 1004.2,1660.6 1004.9,1654.1 1005,1653.1 1005.8,1643.8 1006.5,1633 1007.2,1621.9 1007.4,1620 1008,1610.3 1008.8,1599.7 1009.1,1598.6 1009.5,1599.2 1010.2,1603.7 1011,1611.9 1011.7,1620 1011.8,1620.3 1012.5,1634.9 1013.2,1647.7 1013.4,1646.8 1014,1652.2 1014.8,1652.8 1015.5,1654.9 1016,1656.6 1016.2,1656.7 1017,1661.6 1017.8,1665.5 1018.5,1670.5 1018.6,1671.4 1019.2,1676.2 1020,1684.4 1020.8,1690.5 1021.1,1693.9 1021.5,1696.1 1022.2,1700.8 1023,1703.9 1023.8,1710.3 1024.5,1706.4 1024.6,1710.5 1025.2,1710.3 1026,1709.9 1026.8,1719.3 1027.5,1717.1 1028.2,1725.2 1029,1721 1029.7,1720.9 1029.8,1721.2 1030.5,1715.6 1031.2,1716 1032,1726.2 1032.8,1724.5 1033.5,1719.4 1034.2,1722.8 1035,1723.4 1035.8,1727.6 1036.5,1724.9 1037.2,1721.6 1038,1727.4 1038.8,1723.3 1039.5,1727.7 1040,1724.3 1040.2,1716.4 1041,1732.2 1041.8,1726.5 1042.5,1732.9 1043.2,1733.6 1044,1732.7 1044.8,1733 1045.5,1742.1 1046.2,1739.5 1047,1743.9 1047.8,1742.2 1048.5,1745.1 1048.6,1742.6 1049.2,1737.3 1050,1739.4 1050.8,1743.9 1051.5,1738.4 1052.2,1741.7 1053,1742.8 1053.8,1747.5 1054.5,1749.5 1055.2,1736.1 1056,1745.4 1056.8,1750.7 1057.5,1739.2 1058.2,1740.3 1059,1748.8 1059.8,1745.2 1060.5,1742.6 1061.2,1745.5 1062,1747.5 1062.8,1745.3 1063.5,1746.4 1064.2,1745.9 1065,1746.7 1065.7,1746.1 1065.8,1746.9 1066.5,1744.8 1067.2,1749.6 1068,1744.4 1068.8,1743.8 1069.5,1740.4 1070.2,1743 1071,1746.4 1071.8,1745.2 1072.5,1748.1 1073.2,1741.6 1074,1743.7 1074.8,1738.7 1075.5,1745.1 1076.2,1749.7 1077,1747.9 1077.8,1744.7 1078.5,1748 1079.2,1747.2 1080,1743 1080.8,1742.5 1081.5,1742.9 1082.2,1748 1083,1748.5 1083.8,1747.9 1084.5,1745.4 1085.2,1753.4 1086,1745.7 1086.8,1748.3 1087.5,1747.2 1088.2,1750.4 1089,1740.4 1089.8,1748.6 1090.5,1746 1091.2,1746.4 1092,1742.9 1092.8,1744.1 1093.5,1751.3 1094.2,1750 1095,1741.6 1095.8,1747.8 1096.5,1745.1 1097.2,1750.9 1098,1748.7 1098.8,1749.9 1099.5,1746.9 1100,1747.3 1100.2,1744.7 1101,1741.6 1101.8,1745.1 1102.5,1751.8 1103.2,1752.3 1104,1744.1 1104.8,1744.3 1105.5,1744.7 1106.2,1744.6 1107,1743.2 1107.8,1745.1 1108.5,1750.1 1109.2,1750.4 1110,1754 1110.8,1747.2 1111.5,1739.9 1112.2,1745.8 1113,1744 1113.8,1746.8 1114.5,1745.4 1115.2,1751.7 1116,1745.1 1116.8,1748.3 1117.5,1755 1118.2,1748.4 1119,1742.4 1119.8,1751.8 1120.5,1750.3 1121.2,1750.7 1122,1751.3 1122.8,1745.3 1123.5,1745.2 1124.2,1749.4 1125,1742.7 1125.8,1745.9 1126.5,1753.3 1127.2,1744.4 1128,1750.4 1128.8,1753.1 1129.5,1749 1130.2,1747.6 1131,1754.1 1131.8,1744.3 1132.5,1755.5 1133.2,1746.1 1134,1749.5 1134.8,1745.4 1135.5,1745.5 1136.2,1753.1 1137,1749.7 1137.2,1751.4 1137.8,1744.7 1138.5,1748.2 1139.2,1744.9 1140,1749.4 1140.8,1751.2 1141.5,1751.3 1142.2,1751.4 1143,1747.1 1143.8,1751.6 1144.5,1747.9 1145.2,1754.5 1146,1748.9 1146.8,1754 1147.5,1748.2 1148.2,1752 1149,1750.4 1149.8,1744.2 1150.5,1752 1151.2,1746.2 1152,1743 1152.8,1750.1 1153.5,1753.8 1154.2,1752.3 1155,1746.5 1155.8,1743.3 1156.5,1739.7 1157.2,1747.2 1158,1747.7 1158.8,1749 1159.5,1754.2 1160.2,1748.9 1161,1745.6 1161.8,1745.5 1162.5,1746.1 1163.2,1747.2 1164,1750.8 1164.8,1748.5 1165.5,1749.4 1166.2,1750 1167,1750.4 1167.8,1752.1 1168.5,1754 1169.2,1746 1170,1748.6 1170.8,1749.3 1171.5,1749.1 1172.2,1752.7 1173,1752.4 1173.8,1747.4 1174.5,1755.9 1175.2,1751.7 1176,1752.3 1176.8,1747.5 1177.5,1752.7 1178.2,1748.6 1179,1746.3 1179.8,1750.2 1180.5,1746 1181.2,1745.8 1182,1751.5 1182.8,1752.7 1183.5,1747.3 1184.2,1753.4 1185,1754.2 1185.8,1754.1 1186.5,1751.1 1187.2,1748.7 1188,1755.6 1188.8,1748.5 1189.5,1751.6 1190.2,1754 1191,1756.2 1191.8,1751 1192.5,1750.9 1193.2,1751.9 1194,1750.8 1194.8,1754.1 1195.5,1754 1196.2,1756.4 1197,1749.8 1197.8,1752.8 1198.5,1747.4 1199.2,1748.6 1200,1755.3 1200.8,1749.1 1201.5,1743.1 1202.2,1748.1 1203,1748.1 1203.8,1743.3 1204.5,1750.8 1205.2,1753.2 1206,1748.2 1206.8,1753.7 1207.5,1742.4 1208.2,1752.9 1209,1750 1209.8,1758.4 1210.5,1750.2 1211.2,1750 1212,1750 1212.8,1748.8 1213.5,1748.7 1214.2,1752.7 1215,1751.1 1215.8,1751.2 1216.5,1751.1 1217.2,1747.6 1218,1757.1 1218.8,1746.4 1219.5,1753.6 1220.2,1749.5 1221,1754 1221.8,1749.3 1222.5,1754.2 1223.2,1752 1224,1754.5 1224.8,1757.5 1225.5,1751 1226.2,1750.8 1227,1741.4 1227.8,1750.3 1228.5,1753.5 1229.2,1749.3 1230,1750.5 1230.8,1749.6 1231.5,1743.2 1232.2,1753.4 1233,1747.6 1233.8,1745.3 1234.5,1753.8 1235.2,1751.7 1236,1752.3 1236.8,1750.7 1237.5,1747.9 1238.2,1753.5 1239,1747.1 1239.8,1751.2 1240.5,1746.6 1241.2,1746.3 1242,1753.3 1242.8,1747.5 1243.5,1756.1 1244.2,1745.6 1245,1754.2 1245.8,1749.2 1246.5,1753.1 1247.2,1752.9 1248,1743.7 1248.8,1752.6 1249.5,1749.2 1250.2,1746.9 1251,1754.1 1251.8,1751.7 1252.5,1751.8 1253.2,1755.4 1254,1754 1254.8,1750.7 1255.5,1747.4 1256.2,1755.7 1257,1748 1257.8,1744.5 1258.5,1757.4 1259.2,1758 1260,1744.4 1260.8,1751.7 1261.5,1745.2 1262.2,1752.7 1263,1748.7 1263.8,1745.3 1264.5,1753.9 1265.2,1747.2 1266,1751.8 1266.8,1747.9 1267.5,1756.6 1268.2,1754.3 1269,1748.8 1269.8,1742.5 1270.5,1751.7 1271.2,1747 1272,1754.7 1272.8,1756.1 1273.5,1750.4 1274.2,1753.7 1275,1745.6 1275.8,1751.8 1276.5,1753.2 1277.2,1744.1 1278,1746.9 1278.8,1743.8 1279.5,1743.2 1280,1740.3 1280.2,1739.4 1281,1739.2 1281.8,1734.8 1282.5,1733.8 1283.2,1726.8 1283.4,1733.1 1284,1733.9 1284.8,1734.1 1285.5,1737.2 1286.2,1737 1287,1739.2 1287.8,1742.6 1288.5,1743.5 1289.2,1752.1 1290,1748.9 1290.8,1743.6 1291.5,1755.7 1292.2,1744.1 1293,1745.4 1293.8,1746.7 1294.5,1749.9 1295,1759.6 1295.2,1749.3 1296,1752.3 1296.8,1745 1297.5,1748.9 1298.2,1760 1299,1755.4 1299.8,1754.1 1300.5,1756.4 1301.2,1753 1302,1753 1302.8,1747.1 1303.5,1745.6 1304.2,1748.7 1305,1750.1 1305.8,1748.4 1306.5,1754 1307.2,1758.2 1308,1751.5 1308.8,1745.8 1309.5,1747.1 1310.2,1755.6 1311,1754.8 1311.8,1752.7 1312.5,1754.3 1313.2,1756.2 1314,1752.2 1314.8,1753.3 1315.5,1750.9 1316.2,1744.9 1317,1752.7 1317.8,1752.2 1318.5,1753.9 1319.2,1750.4 1320,1754 1320.8,1753.9 1321.5,1751 1322.2,1748.9 1323,1750.1 1323.8,1754 1324.5,1756 1325.2,1759.6 1326,1752.5 1326.8,1754.7 1327.5,1757.4 1328.2,1749.2 1329,1755.4 1329.8,1751.3 1330.5,1751.7 1331.2,1756 1332,1752.3 1332.8,1754.5 1333.5,1749.1 1334.2,1753.1 1335,1750.1 1335.8,1752.2 1336.5,1764.1 1337.2,1753.5 1338,1752.7 1338.8,1752 1339.5,1750.6 1340.2,1760.4 1341,1751 1341.8,1762.7 1342.5,1752.9 1343.2,1758.4 1344,1754.2 1344.8,1751.4 1345.5,1753.1 1346.2,1758.9 1347,1753.2 1347.8,1746.5 1348.5,1761.1 1349.2,1751.3 1350,1752.7 1350.8,1759.6 1351.5,1747.6 1352.2,1752.1 1353,1756.5 1353.8,1756.5 1354.5,1756.3 1355.2,1750.4 1356,1757.7 1356.8,1752.4 1357.5,1754.9 1358.2,1750.7 1359,1760.9 1359.8,1752.8 1360.5,1754 1361.2,1752.2 1362,1755.8 1362.8,1749.2 1363.5,1754 1364.2,1753.5 1365,1760.6 1365.8,1753.1 1366.5,1753.7 1367.2,1755 1368,1758.4 1368.8,1762.3 1369.5,1756.2 1370.2,1756.5 1371,1760.8 1371.8,1754.8 1372.5,1756.2 1373.2,1752.3 1374,1754 1374.8,1751.6 1375.5,1763.1 1376.2,1757.7 1377,1757.3 1377.8,1750.8 1378.5,1755.1 1379.2,1752 1380,1752 1380.8,1749.4 1381.5,1752.1 1382.2,1764.9 1383,1752.3 1383.8,1757.4 1384.5,1758.4 1385.2,1756.5 1386,1757.7 1386.8,1750.9 1387.5,1760.8 1388.2,1762.9 1389,1754.9 1389.8,1752 1390.5,1751.5 1391.2,1749.5 1392,1757.1 1392.8,1758 1393.5,1761.3 1394.2,1749.7 1395,1758 1395.8,1757.4 1396.5,1753.7 1397.2,1751.3 1398,1755.9"/><path d="M87,2005.9 87.8,2006.6 88.5,2006.1 89.2,2008.8 90,2016.8 90.8,2004.8 91.5,2014.7 92.2,2015.9 93,2009.5 93.8,2008.1 94.5,2012.5 95.2,2015.3 96,2018.9 96.8,2013.9 97.5,2016.5 98.2,2008.5 99,2006.7 99.8,2003.3 100,2005.5 100.5,2008.5 101.2,2010.6 102,2004.6 102.8,2012.7 103.5,2009 104.2,2006.7 105,2006.1 105.8,2016.7 106.5,2009.3 107.2,2005 108,2004.6 108.8,2015.2 109.5,2005.6 110.2,2012.2 111,2012.9 111.8,1998.2 112.5,2012.2 113.2,2006 114,2002.4 114.8,2004.2 115.5,2008.3 116.2,2007.4 117,2007.4 117.8,2002.7 118.5,2010.3 119.2,2011 120,2012.1 120.8,2008.7 121.5,2012 122.2,2012.6 123,2007 123.8,2007.5 124.5,2006.1 125.2,2005.8 126,2006.8 126.8,1996.7 127.5,2001.8 128.2,2004.8 129,1994.5 129.8,1996.9 130.5,2008.5 131.2,1998 132,2000.2 132.8,2003.3 133.5,1999.8 134.2,1998.2 135,1999.4 135.8,1999.6 136.5,1999 137.2,2001.8 138,2007.3 138.8,2002.4 139.5,2007.3 140,2003.9 140.2,2004.3 141,2003.3 141.8,1999.8 142.5,2002.7 143.2,2002.2 144,1996.7 144.8,2004 145.5,2003.4 146.2,2002.6 147,1999.1 147.8,1991 148.5,2007.1 149.2,2001.2 150,1993 150.8,2004.1 151.5,1998.9 152.2,2004.4 153,2001.4 153.8,2006.4 154.5,2003 155.2,2003.3 156,2002.9 156.8,2007.2 157.5,1997.5 158.2,2007.2 159,2005.5 159.8,2000.8 160,2003 160.5,2001.5 161.2,2003.8 162,2007.6 162.8,2002.4 163.5,2008.2 164.2,2009.4 165,2008.5 165.8,2011.4 166.5,2004.6 167.2,2005.6 168,2008.7 168.8,2000.7 169.5,1998.6 170,1998 170.2,1998.9 171,1994.2 171.8,1992.7 172.5,1986.7 173.2,1986.2 173.5,1986 174,1987 174.8,1991.6 175.5,1996.2 176.2,1997.3 177,1996.3 177.8,2002.1 178.5,2003.3 179.2,2000 180,2005.8 180.8,2002.8 181.5,2005 182.2,2005 183,2011.2 183.8,2004.8 184.5,2006.9 185.2,2008.9 186,2012.2 186.8,2012.9 187.5,2004.4 188.2,2013 189,2009.6 189.8,2013.1 190.5,2012.6 191.2,2006.5 192,2008.8 192.8,2007.5 193.5,2010.1 194.2,2015.2 195,2009 195.8,2006.2 196.5,2018.7 197.2,2005 198,2008.9 198.8,2008.9 199.5,2004 200.2,2012.1 201,2013.2 201.8,2008.7 202.5,2009.3 203.2,2008.5 204,2002.3 204.8,2010.1 205.5,2004.3 206.2,2005.5 207,2010.8 207.8,2012.9 208.5,2005.9 209.2,2013.8 210,2016.2 210.8,2010 211.5,2009.1 212.2,2010.2 213,2007.8 213.8,2006.1 214.5,2011.9 215.2,2012.3 216,2007.5 216.8,2007.9 217.5,2007.1 218.2,2006.8 219,2005.8 219.8,2003.7 220.5,2013.1 221.2,2008.2 222,2009.8 222.8,2016.6 223.5,2007.7 224.2,2011.8 225,2004.4 225.8,2007.2 226.5,2012.3 227.2,2008.6 228,2004.1 228.8,2003.7 229.5,2011 230.2,2006 231,2012.3 231.8,2010.7 232.5,2008.4 233.2,2009.4 234,2012.6 234.8,2009.8 235.5,2006 236.2,2011 237,2008.4 237.8,2008.8 238.5,2012 239.2,2011 240,2013.7 240.8,2009.1 241.5,2008 242.2,2008.5 243,2011.3 243.8,2006.7 244.5,2008.5 245.2,2006.6 246,2006.9 246.8,2009.2 247.5,2019.2 248.2,2008.5 249,2010.9 249.8,2010.3 250,2009.3 250.5,2010.1 251.2,2017.5 252,2009 252.8,2016.2 253.5,2012.6 254.2,2006.8 255,2007.6 255.8,2008.4 256.5,2006 257.2,2014.6 258,2011.8 258.8,2012.2 259.5,2006.3 260.2,2012 261,2008.2 261.8,2019.5 262.5,2010 263.2,2011.4 264,2011.9 264.8,2008.6 265.5,2008.9 266.2,2008.9 267,2013.7 267.8,2007.7 268.5,2009.9 269.2,2011.7 270,2009 270.8,2005.3 271.5,2006 272.2,2009 273,2006.9 273.8,2014.3 274.5,2010.7 275.2,2010.5 276,2006.8 276.8,2012.7 277.5,2009.3 278.2,2007.1 279,2008.3 279.8,2019.8 280.5,2008.4 281.2,2007.5 282,2015.1 282.8,2013.6 283.5,2009.7 284.2,2016 285,2005.3 285.8,2009 286.5,2004.6 287.2,2016 288,2011 288.8,2020.7 289.5,2012.6 290.2,2012.7 291,2006.6 291.8,2006.4 292.5,2009 293.2,2014.3 294,2006.9 294.8,2001.8 295.5,2014 296.2,2014.2 297,2007.3 297.8,2012.4 298.5,2015 299.2,2015.2 300,2004.8 300.8,2010.6 301.5,2007.1 302.2,2010.9 303,2007.1 303.8,2001.8 304.5,2005.2 305,2006.9 305.2,1998.8 306,1999.9 306.8,2003 307.5,2004.9 308.2,2004.6 309,2000.5 309.8,2001.6 310,2007.4 310.5,2009.2 311.2,2004.4 312,2008.6 312.8,2015.2 313.5,2007.5 314.2,2006.7 315,2005.9 315.8,2010.5 316.5,2009.7 317.2,2009.9 318,2007.7 318.8,2010.8 319.5,2010.9 320.2,2008.9 321,2014 321.8,2003.7 322.5,2012.5 323.2,2009.4 324,2013.2 324.8,2017.3 325.5,2010.3 326.2,2009.5 327,2010.2 327.8,2015.7 328.5,2016.4 329.2,2011.2 330,2013.1 330.8,2017.6 331.5,2012.9 332.2,2005.1 333,2007.8 333.8,2009.1 334.5,2012.6 335.2,2009 336,2016.5 336.8,2009.4 337.5,2017.3 338.2,2008.8 339,2016.6 339.8,2012.2 340.5,2017 341.2,2019.1 342,2018.3 342.8,2015.7 343.5,2008.9 344.2,2008.7 345,1999.6 345.8,2017.6 346.5,2016.8 347.2,2015.9 348,2007.7 348.8,2022.7 349.5,2009.6 350,2015.5 350.2,2006 351,2009.9 351.8,2017.1 352.5,2016.3 353.2,2008.2 354,2012.1 354.8,2016.8 355.5,2005.5 356.2,2015.6 357,2006.7 357.8,2015.1 358.5,2011.7 359.2,2016.5 360,2010.8 360.8,2011.4 361.5,2011.4 362.2,2009.1 363,2011.8 363.8,2008.9 364.5,2010.7 365.2,2015.5 366,2011.7 366.8,2017.1 367.5,2015.8 368.2,2016.3 369,2008.7 369.8,2014.7 370.5,2018.7 371.2,2016.7 372,2018 372.8,2019.2 373.5,2007.5 374.2,2015.6 375,2015.5 375.8,2012.7 376.5,2008.4 377.2,2014 378,2012.9 378.8,2021.1 379.5,2018.7 380.2,2012 381,2009.5 381.8,2010.4 382.5,2013.5 383.2,2010.9 384,2021.4 384.8,2009.1 385.5,2013.4 386.2,2014.4 387,2015.5 387.8,2010.3 388.5,2013 389.2,2014.6 390,2015.2 390.8,2011.7 391.5,2012.8 392.2,2014.9 393,2021.4 393.8,2009.4 394.5,2016.8 395.2,2020.2 396,2008.7 396.8,2019.7 397.5,2019.6 398.2,2014.4 399,2017.9 399.8,2019.9 400,2013.6 400.5,2015.1 401.2,2010.1 402,2011.6 402.8,2014.5 403.5,2013.9 404.2,2020.5 405,2013.4 405.8,2009.6 406.5,2017.7 407.2,2017.9 408,2015.8 408.8,2013.8 409.5,2011.3 410.2,2011.8 411,2020.2 411.8,2017.3 412.5,2014.7 413.2,2015.9 414,2012.9 414.8,2010.7 415.5,2012.4 416.2,2014 417,2007.9 417.8,2008.6 418.5,2007.5 419.2,2012.4 420,2016.4 420.8,2008.9 421.5,2009.6 422.2,2007.7 423,2012.1 423.8,2009.3 424.5,2009.9 425.2,2009.5 426,2022.5 426.8,2013.4 427.5,2011.2 428.2,2011.9 429,2017 429.8,2017.4 430.5,2014.7 431.2,2006 432,2017.4 432.8,2017.7 433.5,2016.6 434.2,2015.4 435,2013.8 435.8,2018.2 436.5,2012.3 437.2,2017.5 438,2011.6 438.8,2012 439.5,2011.7 440.2,2011.2 441,2011.5 441.8,2016.3 442.5,2019.3 443.2,2010.6 444,2009.2 444.8,2018.1 445.5,2011.9 446.2,2014.2 447,2013.7 447.8,2016.6 448.5,2009.7 449.2,2017.5 450,2016.1 450.8,2004.5 451.5,2012.3 452.2,2011.4 453,2014.3 453.8,2012.6 454.5,2009.9 455.2,2011.4 456,2014 456.8,2012.8 457.5,2011.9 458.2,2021 459,2014.4 459.8,2008 460.5,2012.7 461.2,2013.4 462,2008.2 462.8,2012.4 463.5,2008.6 464.2,2003.1 465,2012.9 465.8,2013.9 466.5,2013.7 467.2,2010.6 468,2008.7 468.8,2011.7 469.5,2012.3 470.2,2014 471,2015.4 471.8,2013.2 472.5,2007.7 473.2,2009.5 474,2004.1 474.8,2011.9 475.5,2011.2 476.2,2013.2 477,2010.3 477.8,2014.1 478,2005.4 478.5,2008.8 479.2,2005.8 480,2004.4 480.8,1998.9 481.5,1999.6 482.2,1993.8 483,1998.7 483.8,1999.2 484.5,2003.4 485.2,2003.1 486,2007.3 486.8,2008.9 487,2001 487.5,2016.2 488.2,2011.7 489,2006.9 489.8,2017.1 490.5,2015 491.2,2000.3 492,2008.6 492.8,2007.3 493.5,2009.9 494.2,2006 495,2008.6 495.8,2009.8 496.5,1999.8 497.2,2009.9 498,2014.8 498.8,2009.8 499.5,2013.6 500.2,2015.2 501,2010.2 501.8,2010.5 502.5,2010.5 503.2,2007.2 504,2017.5 504.8,2010.3 505.5,2010.6 506.2,2012 507,2013.9 507.8,2002.9 508.5,2004 509.2,2008.3 510,2009.6 510.8,2002.8 511.5,2002 512.2,2010 513,2009.6 513.8,2005.6 514.5,2005.3 515.2,2003.8 516,2001.5 516.8,2002.3 517.1,2006.2 517.5,2004.7 518.2,2008.4 519,1999.7 519.8,1997.8 520.5,2003.7 521.2,1998.1 522,1998.3 522.8,1997.4 522.9,1994.1 523.5,1993.2 524.2,1989.2 525,1981.5 525.7,1984.2 525.8,1974.9 526.5,1985 527.2,1984.5 528,1985.6 528.8,1987.4 529,1986.2 529.5,1980.3 530.2,1988.8 531,1986 531.8,1987.2 532.5,1984.9 532.9,1984.4 533.2,1988.7 534,1989.2 534.8,1990.6 535.5,1991.5 536.2,1993.7 537,1993 537.1,2001.2 537.8,1998.8 538.5,1996.9 539.2,1995.8 540,1993.2 540.8,1998.6 541.5,1991.3 542.2,1991.5 543,1997.2 543.8,1996 544.5,1993 545.2,1988.2 545.7,1988 546,1996.1 546.8,1994.1 547.5,1998.3 548.2,1990.7 549,1992.1 549.8,1988.7 550.5,1998.7 551.2,1985.7 552,1994.5 552.8,1998.2 553.5,1988.1 554.2,1986 554.3,1987.6 555,1987.7 555.8,1986.6 556.5,1981.8 557.1,1977.6 557.2,1977.6 558,1976.5 558.8,1970.9 559.5,1967 560,1965.6 560.2,1962.1 561,1955.7 561.8,1948.4 562.5,1939.9 562.9,1935.1 563.2,1931.9 564,1923.8 564.8,1916.7 565,1914.4 565.5,1909.1 566.2,1902.4 566.4,1900.2 567,1886.8 567.2,1880 567.8,1842.4 568.5,1752.9 569.2,1650.9 569.5,1620 570,1559.5 570.5,1500 570.8,1472.1 571.5,1392 572.2,1315.3 572.5,1290 573,1244.9 573.5,1192 573.8,1137.7 574,1099.8 574.5,1106.7 575.2,1095.6 576,1102.5 576.8,1108 577.5,1113.3 578.2,1097.9 579,1096.3 579.8,1095 580.5,1098.3 581.2,1099.9 582,1100 582.8,1104.3 583.5,1098.7 584.2,1101.1 585,1093.4 585.5,1192 585.8,1334.5 586,1500 586.5,1732.7 587,1860 587.2,1869.9 588,1885.8 588.5,1895 588.8,1901.4 589.3,1914.3 589.5,1917 590.2,1925.3 591,1931.8 591.4,1935.7 591.8,1939.6 592.5,1950.2 593.2,1959.7 593.6,1962.4 594,1962.8 594.8,1964.2 595.5,1970 596.2,1969.2 597,1967.2 597.1,1970.4 597.8,1976.6 598.5,1971.7 599.2,1977.4 600,1977.7 600.8,1981.1 601.4,1981.7 601.5,1980.8 602.2,1978.7 603,1986 603.8,1988.3 604.5,1989.3 605.2,1987.1 605.7,1988.8 606,1999.6 606.8,1987.5 607.5,1991 608.2,1987.8 609,1992 609.8,1994.2 610.5,1998.2 611.2,1994.6 612,1994 612.8,1995.6 613.5,1996.6 614.2,1994.5 615,1994.7 615.8,1999.8 616.5,1992.5 617.1,1995.1 617.2,1991.9 618,1993.7 618.8,2001.7 619.5,1993.5 620.2,1998.4 621,2004.9 621.8,1999 622.5,1996.6 623.2,1994.5 624,1987.9 624.8,1994.4 625.5,1994.7 626.2,2002.3 627,2001.5 627.8,1994 628.5,2001.7 629.2,1997 630,2006.8 630.8,2005.7 631.5,2002.7 632.2,1998.8 633,2007.4 633.8,2004.1 634.5,2005.4 635.2,2003.1 636,2000.2 636.8,2004.4 637.5,1998.1 638.2,2004.5 638.6,2002.1 639,1994.9 639.8,2003.3 640.5,2001.2 641.2,1999.8 642,2001 642.8,2004.3 643.5,1996.8 644.2,1997 645,2004 645.8,2001.8 646.5,1994.2 647.2,2001.4 648,1994.2 648.8,2003.5 649.5,2001.8 650.2,2002.6 651,1994.6 651.8,1997.4 652.5,2003.8 653.2,1994.8 654,2002.3 654.8,1999.3 655.5,2000.6 656.2,1996.8 657,2002.3 657.8,2001.4 658.5,2003.2 659.2,2009.5 660,1998.9 660.8,2000 661.5,1995.5 662.2,2006.5 663,1998.2 663.8,2002.6 664.5,1995.1 665.2,1998.5 666,2001.8 666.8,2001.3 667.5,1998.3 668.2,2002.8 669,1999.7 669.8,2003.4 670.5,1998.3 671.2,2001.7 671.4,1997.3 672,2004.1 672.8,1999 673.5,1999.1 674.2,1996.6 675,2002.7 675.8,1999.2 676.5,1997.6 677.2,2003.5 678,1995.2 678.8,2001.9 679.5,2003.8 680.2,1991 681,2001.1 681.8,1999.5 682.5,1998 683.2,1998.4 684,1992.1 684.8,1998.5 685.5,1997.3 686.2,1990.4 687,1995.2 687.8,1991 688.5,1995.8 689.2,1991.8 690,1995.4 690.8,1989.2 691.5,1992.3 692.2,1992.3 693,1992.7 693.8,1997.2 694.5,2000.6 695.2,1986.4 696,1994.6 696.8,1990 697.5,1989.4 698.2,1988.8 699,1988.9 699.8,1988.7 700,1992.1 700.5,1993.4 701.2,1989.5 702,1987.9 702.8,1989.4 703.5,1988.2 704.2,1993 705,1982.2 705.8,1980.1 706.5,1983.9 707.2,1985.8 708,1983.5 708.8,1985.1 709.2,1974.2 709.5,1981.1 710.2,1981.6 711,1979.2 711.8,1982.2 712.5,1984 713.2,1986.6 714,1982.2 714.8,1979.9 715.5,1988 716.2,1994.1 717,1988.1 717.8,1988.5 718.5,1985 719.2,1989.9 720,1995.4 720.8,1982.9 721.5,1994.3 722.2,1984.1 723,1997.1 723.8,1995.4 724.5,1992 725.2,1994.8 726,2000.3 726.8,1991.4 727.5,2000 728.2,1998.6 729,1997.3 729.8,2003.1 730.5,1992.7 731.2,1998.7 732,1995.4 732.8,2000.1 733.5,2002.7 734.2,1995.2 735,2002.6 735.8,2002.9 736.5,1999.8 737.2,2001.9 737.2,2006.4 738,2003.5 738.8,2008.7 739.5,1998.5 740.2,1997.9 741,2007.4 741.8,1997.8 742.5,2007.7 743.2,2003.1 744,2005.8 744.8,2002 745.5,2007.4 746.2,2008.7 747,2008.3 747.8,2005.7 748.5,1998.9 749.2,2007.7 750,2004.5 750.8,2009.3 751.5,1998.5 752.2,2006.1 753,2002.8 753.8,2004.5 754.5,2008 755.2,2007.9 756,2010.3 756.8,2006.8 757.5,2007.2 758.2,2006.4 759,2000.9 759.8,2009.4 760.5,2002.3 761.2,2003.5 762,2007.2 762.8,2003 763.5,2003.9 764.2,1996.2 765,2002.4 765.8,2001.5 766.5,2003.4 767.2,2007.9 768,2004.9 768.8,2005.4 769.5,2006.4 770.2,2010 771,2010.3 771.8,2007.8 772.5,2005.4 773.2,2009.7 774,2005.3 774.8,2005.8 775.5,2007.7 776.2,2004.7 777,2002.5 777.8,2002 778.5,2005.6 779.2,2007.6 780,2009.2 780.8,2003.9 781.5,2007.7 782.2,2007.1 783,2005.3 783.8,2016.6 784.5,2004.3 785.2,2004 786,2007.7 786.8,2013.1 787.5,2005.9 788.2,2012.4 789,2003.5 789.8,2005.9 790.5,2006.7 791.2,2006.5 792,2007.7 792.8,2007.2 793.5,2006.8 794.2,2003.9 795,2009.5 795.8,2007.9 796.5,2008.6 797.2,2012.2 798,2009.7 798.8,2008.7 799.5,2013.2 800.2,2006.2 801,2002 801.8,2005.7 802.5,2003.3 802.9,2007 803.2,2007 804,2007.7 804.8,2009 805.5,2010.3 806.2,2009.5 807,2008.5 807.8,2006.8 808.5,2006 809.2,2007.8 810,2006.9 810.8,2003.8 811.5,2006.2 812.2,2010.3 813,2007.9 813.8,2004.7 814.5,2008.6 815.2,2010 816,2003.7 816.8,2013.9 817.5,2012 818.2,2007.2 819,2011.9 819.8,2008.7 820.5,2010.1 821.2,2004.5 822,2005.9 822.8,2006.9 823.5,2007.3 824.2,2005.9 825,2001.9 825.8,2003.6 826.5,2009.2 827.2,2006.1 828,2013.7 828.8,2012.5 829.5,2006.7 830.2,2008.2 831,2000.7 831.8,2010 832.5,2011.4 833.2,2004.6 834,2004.5 834.8,2005.3 835.5,2010 836.2,2011.1 837,2003.7 837.8,2005.9 838.5,2009.2 839.2,2008 840,2006.1 840.8,2009.1 841.5,2003.9 842.2,2001.7 843,2009.4 843.8,2009.8 844.5,2011.9 845.2,2006 846,2004 846.8,2007.3 847.5,2006.7 848.2,2007.2 849,2006.7 849.8,2011.8 850.5,2008 851.2,2011.8 852,2004.3 852.8,2003.2 853.5,2010.1 854.2,2002.4 855,2002.5 855.8,2002.6 856.5,1999.9 857.2,2008.3 858,2012.7 858.8,2008.6 859.5,2009.5 860.2,2005.2 861,2002.9 861.8,2008.3 862.5,2002.1 863.2,2000.7 864,2003.1 864.8,2010.1 865.5,2007.5 866.2,2005.2 867,2002.1 867.8,2002.5 868.5,2007.2 868.6,2005.6 869.2,2003.1 870,2010 870.8,2003.4 871.5,1999.8 872.2,2004.7 873,2009.5 873.8,2008 874.5,2008.8 875.2,2002.3 876,2006.8 876.8,2005.6 877.5,2004.1 878.2,2000.7 879,2009.3 879.8,2005 880.5,2002.5 881.2,2007.1 882,2013.5 882.8,1998.5 883.5,2004.8 884.2,2010.3 885,2010.2 885.8,1999.5 886.5,2001.2 887.2,1995.4 888,2002.5 888.8,1996.7 889.5,1998.2 890.2,2007 891,1997.2 891.8,1994.9 892.5,2001.2 893.2,2001.7 894,2001.5 894.8,2004.7 895.5,1997.6 896.2,1999.4 897,2002 897.8,1997.8 898.5,2004.1 899.2,2002.2 900,1998.5 900.8,1997.3 901.5,1997.8 902.2,1998.3 903,1989.9 903.8,1991.5 904.5,1992.1 905.2,1990.8 906,1990.1 906.8,1988.7 907.5,1988.6 908.2,1985.8 909,1985.2 909.8,1983 910.5,1980 911.2,1977.1 911.3,1976.3 912,1976.1 912.8,1971.3 913.5,1967.9 914.2,1963.7 915,1958.2 915.8,1951.8 916.5,1946.4 917.2,1941.4 917.9,1934.3 918,1934.6 918.8,1927.5 919.5,1921.8 920.2,1914.6 921,1904.7 921.8,1892.1 922.3,1879.9 922.5,1873.1 923.2,1821.7 923.5,1800 924,1743 924.8,1634.1 925,1600 925.5,1535.1 926.2,1438.4 927,1346.4 927.5,1290 927.8,1265.7 928.5,1192 929,1097.5 929.2,1097.5 930,1099.3 930.8,1099.7 931.5,1093 932.2,1100.1 933,1094.7 933.8,1100.6 934.5,1098.9 935.2,1104.9 936,1100.4 936.8,1097 937.5,1098 938.2,1099.1 939,1101.1 939.8,1101.9 940,1095.8 940.5,1192 941,1290 941.2,1337.8 942,1500 942.5,1700 942.8,1773.3 943.3,1880 943.5,1890.6 944.2,1914.2 944.5,1918.6 945,1926.1 945.8,1936.4 946.5,1945.4 947.2,1953.2 948,1959.6 948.8,1963.5 949.5,1969.9 950.2,1971.1 950.8,1974.4 951,1973.6 951.8,1979.1 952.5,1979.6 953.2,1982.3 954,1984.7 954.8,1985.4 955.5,1985.6 956.2,1992.5 957,1991.7 957.8,1993.5 958.5,1986.5 959.2,1986.2 960,1999.4 960.6,1996.5 960.8,1987.6 961.5,1995.9 962.2,1995 963,1991.5 963.8,1993.9 964.5,2002.4 965.2,1993.5 966,1998.2 966.8,1993.8 967.5,1991.5 968.2,2006.2 969,2000.1 969.8,1996.1 970.5,1996.8 971.2,1997.3 972,1994.7 972.8,2000.4 973.5,2001.2 974.2,1997.5 975,1999.1 975.8,1994.6 976.5,2000.5 977.2,1992.3 978,1999.4 978.8,2005.2 979.5,1998.9 980.2,2010.1 981,1996 981.8,1999.2 982.5,2000.1 983.2,2003.6 983.6,2004.6 984,2000.8 984.8,1994.6 985.5,2005.5 986.2,2002.6 987,2003.2 987.8,1994.3 988.5,2001.9 989.2,1999.5 990,2003.7 990.8,2006.5 991.5,1996.9 992.2,1999.6 993,2000.1 993.8,1997.1 994.5,2002 995.2,2001.8 996,1996.6 996.8,1996.7 997.5,2000.8 998.2,1993.2 999,2000.9 999.8,2002.9 1000.5,2002.8 1001.2,1996.2 1002,2006.2 1002.8,2007.2 1003.5,1995.4 1004.2,2005.9 1005,2004.3 1005.8,2002.8 1006.5,1996.7 1007.2,2003.1 1008,1995.3 1008.8,1999.5 1009.5,2002.3 1010.2,2001.2 1011,1998.2 1011.8,2000.5 1012.5,1998.7 1013.2,2000.1 1014,1996.2 1014.8,1994.6 1015.5,1996.7 1016.2,1994.2 1017,2002.6 1017.8,2007.8 1018.5,2000.8 1019.2,2002.4 1020,1994.2 1020.8,1997.4 1021.5,1993.7 1022.2,2000 1022.2,1998 1023,1993.9 1023.8,1999.6 1024.5,1994.2 1025.2,1993.7 1026,1991.4 1026.8,1989.8 1027.5,1987 1028.2,1982.5 1028.7,1980.6 1029,1978.9 1029.8,1975.9 1030.5,1978.9 1031.2,1972.4 1032,1973.6 1032.8,1967.3 1033.5,1965.1 1034.2,1964.8 1035,1960.3 1035.8,1956.4 1036.5,1955.2 1037.2,1948.7 1038,1944.8 1038.6,1941.9 1038.8,1941.1 1039.5,1932.8 1040.2,1922.2 1041,1910.5 1041.8,1897.9 1042.5,1886.3 1043,1880 1043.2,1877.2 1044,1866.5 1044.8,1856.8 1045.5,1848.6 1046.2,1843.1 1046.8,1840.9 1047,1840.5 1047.8,1844.5 1048.5,1849.5 1049.2,1854.4 1050,1859.6 1050.8,1864.9 1051.5,1868.5 1052.2,1872.4 1053,1877.9 1053.4,1880 1053.8,1883.4 1054.5,1888.9 1055.2,1893.6 1056,1899.5 1056.8,1905.7 1057.5,1912.2 1058.2,1918.5 1058.3,1918.7 1059,1925.5 1059.8,1934.1 1060.5,1942.8 1061.2,1951.5 1062,1958.7 1062.8,1965.4 1063.2,1968.4 1063.5,1969.4 1064.2,1971.7 1065,1973.9 1065.8,1979.9 1066.5,1982.8 1067.2,1984.6 1068,1984.9 1068.8,1987.5 1069.5,1990 1070.2,1993.6 1071,1992.6 1071.4,1989.9 1071.8,1991.1 1072.5,1989.3 1073.2,2000.1 1074,1991.8 1074.8,1999.8 1075.5,1996.2 1076.2,2002 1077,1992.2 1077.8,1999 1078.5,1993.6 1079.2,1994 1080,1994.8 1080.8,1993 1081.5,1994.8 1082.2,1997.3 1083,2004.4 1083.8,1997.2 1084.5,1993.5 1085.2,2001.4 1086,2004.4 1086.8,1990.5 1087.5,2001.5 1088.2,1995 1089,1993.5 1089.8,2002.7 1090.5,2005.8 1091.2,2007.4 1092,2001 1092.8,1999.7 1093.5,2001.9 1094.2,2003.5 1095,2004.8 1095.8,2006.7 1096.5,2003.4 1097.2,2004.2 1098,2003 1098.8,1999.6 1099.5,2004 1100.2,2007.9 1101,2005.3 1101.8,1994.9 1102.5,2008.4 1103.2,1999.8 1104,2011.3 1104.3,2010.8 1104.8,2005.5 1105.5,2009.8 1106.2,2000.1 1107,2002.4 1107.8,2000.7 1108.5,2004.6 1109.2,2003.5 1110,2004.2 1110.8,2003.8 1111.5,2008.9 1112.2,2003.5 1113,2001.9 1113.8,2003.9 1114.5,2005.3 1115.2,2005.2 1116,1999.9 1116.8,2001.8 1117.5,2002.5 1118.2,2000.3 1119,1997.8 1119.8,2001.4 1120.5,1994 1121.2,2002.6 1122,1999 1122.8,2002.6 1123.5,2003.3 1124.2,2010.9 1125,2011.3 1125.8,2012.3 1126.5,2004.5 1127.2,2002.4 1128,2007.4 1128.8,2000.5 1129.5,2004 1130.2,2001.6 1131,2004.3 1131.8,2007.3 1132.5,2000.6 1133.2,2005.6 1134,2005.4 1134.8,2005.5 1135.5,2006.6 1136.2,2003.3 1137,2004.5 1137.8,2003.6 1138.5,1999.2 1139.2,2010.5 1140,2007.6 1140.8,2007.6 1141.5,2002.7 1142.2,1998.7 1143,2006.2 1143.8,2001.9 1144.5,2011.9 1145.2,2011.8 1146,2003.5 1146.8,2010.4 1147.5,2008.2 1148.2,2005.3 1149,1999.8 1149.8,2007.9 1150.5,2009 1151.2,2009.2 1152,2003.9 1152.8,2006.1 1153.5,2006.3 1154.2,2006.2 1155,2003.9 1155.8,2010.2 1156.5,2008.4 1157.2,2004.9 1158,2008 1158.8,2010 1159.5,2007.7 1160.2,2007.7 1161,2009.4 1161.8,2003.8 1162.5,2009.2 1163.2,2004.2 1164,2007.4 1164.8,2011.3 1165.5,2005.1 1166.2,2011.1 1167,2009.3 1167.8,2012 1168.5,2001.4 1169.2,1992.5 1170,2003.5 1170.8,2014.8 1171.5,2008.3 1172.2,2006.3 1173,2007.4 1173.8,2009 1174.5,2006.7 1175.2,2016 1176,2007.9 1176.8,2002.5 1177.5,2002.7 1178.2,2007 1179,2007.4 1179.8,2010.5 1180.5,2011 1181.2,2011.3 1182,2003.7 1182.8,2009.1 1183.5,2005.1 1184.2,2008.2 1185,2003.7 1185.8,2012.5 1186.5,2012.8 1187.2,2008.9 1188,2004.1 1188.8,2011.5 1189.5,2008.7 1190.2,2002.6 1191,2010 1191.8,2010.9 1192.5,2009.4 1193.2,2001 1194,2010.2 1194.8,2011.2 1195.5,2005.4 1196.2,2011.6 1197,2009.5 1197.8,2011.2 1198.5,2001.2 1199.2,2006.5 1200,2009.4 1200.8,2002 1201.5,2008 1202.2,2014 1202.9,2001.8 1203,2012.8 1203.8,2010.9 1204.5,2004.2 1205.2,2004.5 1206,2004.2 1206.8,2008.7 1207.5,1998.8 1208.2,2010 1209,2001.8 1209.8,2006.1 1210.5,2005.8 1211.2,2010.3 1212,2003.7 1212.8,2004.3 1213.5,2011.8 1214.2,2013.5 1215,2007.1 1215.8,2006 1216.5,2008.2 1217.2,2007.5 1218,2007.3 1218.8,2003.5 1219.5,1998.9 1220.2,2008.1 1221,2006.9 1221.8,2011.4 1222.5,2011.3 1223.2,2013.3 1224,2005.2 1224.8,2009.8 1225.5,2002.4 1226.2,2008 1227,2008.9 1227.8,2004.2 1228.5,2006.6 1229.2,2016.2 1230,2003.7 1230.8,2010.9 1231.5,2005.5 1232.2,2010.3 1233,1997.2 1233.8,2001.9 1234.5,2005.9 1235.2,2013.1 1236,2006.2 1236.8,2002.1 1237.5,2005.1 1238.2,2009.7 1239,2000.9 1239.8,2006.9 1240.5,2005.9 1241.2,2005.1 1242,2008.2 1242.8,2003.8 1243.5,2008.8 1244.2,2009 1245,2013.2 1245.8,2007.9 1246.5,2006.4 1247.2,2002.5 1248,2004.6 1248.8,2001.7 1249.5,2011.8 1250.2,1997.9 1251,2008.2 1251.8,2008.3 1252.5,2009 1253.2,2004.9 1254,2014.8 1254.8,2005.2 1255.5,2000.4 1256.2,2003.9 1257,2003.6 1257.8,2011.2 1258.5,2006.1 1259.2,2002.8 1260,2002.7 1260.8,2005.6 1261.5,2004.4 1262.2,2005.7 1263,2009.9 1263.8,2000.9 1264.5,2003.5 1265.2,2006.9 1266,2000.4 1266.8,2008.4 1267.5,2011.2 1268.2,2006.5 1269,2009.1 1269.8,2004.8 1270.5,2006.1 1271.2,2007.1 1272,2005.9 1272.8,2010.6 1273.5,2004.2 1274.2,2009.4 1275,2004.3 1275.8,2011.8 1276.5,2011 1277.2,2007.1 1278,2000.4 1278.8,2002.1 1279.5,1996.2 1280.2,2004.8 1281,1999.8 1281.8,1997.4 1282.5,1997.6 1283.2,1992 1284,1993.5 1284.8,1995.2 1285,1998.2 1285.5,2002.6 1286.2,1993.3 1287,1999.4 1287.8,1997.5 1288.5,1998.2 1289.2,2003.3 1290,2003.1 1290.8,1998.5 1291.5,2004.4 1292.2,2012.2 1293,2002.8 1293.8,2003.3 1294.5,2011.1 1295.2,2007.9 1296,2004.6 1296.8,2009.5 1297.5,2006 1298.2,2005.3 1299,2009.9 1299.8,2005.2 1300,2011.6 1300.5,2014.7 1301.2,2006.3 1302,2006.2 1302.8,2006.2 1303.5,2008.9 1304.2,2006.1 1305,2009.5 1305.8,2012.3 1306.5,2005.2 1307.2,2010.3 1308,2013.9 1308.8,2012.8 1309.5,2006.2 1310.2,2014.6 1311,2006.2 1311.8,2013.8 1312.5,2004 1313.2,2012.5 1314,2009.1 1314.8,2009 1315.5,2008.9 1316.2,2006.7 1317,2012.2 1317.8,2011.2 1318.5,2013.8 1319.2,2007.5 1320,2013.6 1320.8,2014.7 1321.5,2007.5 1322.2,2015.8 1323,2017 1323.8,2006.6 1324.5,2007.7 1325.2,2020.7 1326,2012.8 1326.8,2011 1327.5,2008.1 1328.2,2014.2 1329,2010 1329.8,2013.3 1330.5,2012.7 1331.2,2013.7 1332,2014.5 1332.8,2011 1333.5,2013.9 1334.2,2014.4 1335,2011.2 1335.8,2009.5 1336.5,2013.3 1337.2,2018.4 1338,2011.7 1338.8,2010.7 1339.5,2013.7 1340.2,2010.8 1341,2012.9 1341.8,2012.5 1342.5,2010.5 1343.2,2014.1 1344,2009.5 1344.8,2009.9 1345.5,2006.4 1346.2,2009.8 1347,2013.6 1347.8,2017.2 1348.5,2024.3 1349.2,2012.4 1350,2011.1 1350.8,2020.3 1351.5,2007.4 1352.2,2016.3 1353,2014.1 1353.8,2019.1 1354.5,2012.2 1355.2,2013.6 1356,2006.5 1356.8,2010.6 1357.5,2012.8 1358.2,2010.8 1359,2010.2 1359.8,2016.9 1360.5,2007.3 1361.2,2006.6 1362,2007.2 1362.8,2010 1363.5,2009.1 1364.2,2011.5 1365,2010 1365.8,2019.3 1366.5,2010 1367.2,2012.1 1368,2015 1368.8,2021.7 1369.5,2012.3 1370.2,2010.9 1371,2016.8 1371.8,2011.5 1372.5,2007.2 1373.2,2007.3 1374,2011.5 1374.8,2007.9 1375.5,2017.3 1376.2,2014.9 1377,2019.7 1377.8,2014.2 1378.5,2012.1 1379.2,2016.1 1380,2016 1380.8,2010.1 1381.5,2020 1382.2,2014.4 1383,2016.8 1383.8,2011.6 1384.5,2017.6 1385.2,2022.3 1386,2013.1 1386.8,2010 1387.5,2014.4 1388.2,2014.4 1389,2016.4 1389.8,2007.9 1390.5,2017.8 1391.2,2015 1392,2012.8 1392.8,2009.3 1393.5,2014.7 1394.2,2018 1395,2015.7 1395.8,2015.7 1396.5,2014.1 1397.2,2015 1398,2008.7"/><path d="M87,2274.1 87.8,2272.7 88.5,2271.7 89.2,2262.9 90,2273.6 90.8,2263.6 91.5,2275.4 92.2,2274.3 93,2275.1 93.8,2275.1 94.5,2273.1 95.2,2269.8 96,2270.7 96.8,2277.8 97.5,2269.6 98.2,2271 99,2269 99.8,2269.9 100.5,2270.7 101.2,2272.9 102,2270.7 102.8,2270.5 103.5,2269.4 104.2,2272.2 105,2266.6 105.8,2272 106.5,2276.9 107.2,2268.8 108,2271.6 108.8,2282.8 109.5,2267.9 110.2,2265.5 111,2270.1 111.8,2278.8 112.5,2279.7 113.2,2267 114,2274 114.8,2271.7 115.5,2269.4 116.2,2264.1 117,2275.7 117.8,2268.3 118.5,2272.8 119.2,2272 120,2278.9 120.8,2276.2 121.5,2267.1 122.2,2270.6 123,2275.6 123.8,2266.4 124.5,2270 125.2,2272.4 126,2265.2 126.8,2266.7 127.5,2264.8 128.2,2272.6 129,2269.2 129.8,2275 130.5,2271.8 131.2,2273.6 132,2271 132.8,2274.3 133.5,2270.9 134.2,2267.4 135,2275.9 135.8,2275 136.5,2280 137.2,2270.6 138,2268.9 138.8,2265.5 139.5,2256 140.2,2266 141,2272.9 141.8,2267.5 142.5,2260.8 143.2,2273.3 144,2268.6 144.8,2269.5 145.5,2269.1 146.2,2270.3 147,2272.6 147.8,2264 148.5,2269.8 149.2,2268.7 150,2275 150.8,2266.5 151.5,2276.9 152.2,2272.9 153,2276.8 153.8,2267.6 154.5,2273.5 155.2,2271.7 156,2264.4 156.8,2269.2 157.5,2268.4 158.2,2266.4 159,2267.1 159.8,2264.4 160,2268.2 160.5,2271.2 161.2,2266.7 162,2263.4 162.8,2272.3 163.5,2266.6 164.2,2267.1 165,2265.3 165.8,2263.3 166.5,2266 167.2,2261.3 168,2262.1 168.8,2256.9 169.5,2255.2 170.2,2256.2 171,2258.9 171.8,2253.3 172.5,2255.8 173.2,2250.9 174,2250.1 174.7,2245.9 174.8,2248.1 175.5,2254.6 176.2,2253.1 177,2250.7 177.8,2253.3 178.5,2259.1 179.2,2257.2 180,2262.7 180.8,2258.7 181.5,2264.5 182.2,2268.5 183,2267.8 183.8,2267.1 184.5,2267.7 185.2,2267.5 186,2267.9 186.8,2272.6 187.5,2272.5 188.2,2269.6 189,2263.1 189.8,2266 190.5,2269.2 191.2,2268.2 192,2262.7 192.8,2270.6 193.5,2278.1 194.2,2263.2 195,2268.2 195.8,2274.3 196.5,2266.4 197.2,2266.4 198,2268.7 198.8,2270.2 199.5,2266.4 200.2,2271.8 201,2260.6 201.8,2270.6 202.5,2269.4 203.2,2267.4 204,2269.5 204.8,2268.2 205.5,2273.2 206.2,2266.2 207,2267.8 207.8,2262.6 208.5,2263.6 209.2,2267.1 210,2261.9 210.8,2264.7 211.5,2262.8 212.2,2266.1 213,2268.5 213.8,2271.7 214.5,2260.4 215.2,2267.2 216,2271.4 216.8,2273.4 217.5,2273.5 218.2,2262.4 219,2266 219.8,2270.2 220.5,2271.7 221.2,2269.1 222,2269 222.8,2268.9 223.5,2265 224.2,2268.6 225,2271.2 225.8,2266.7 226.5,2272.6 227.2,2256.9 228,2266.7 228.8,2274.6 229.5,2271.4 230.2,2273.6 231,2268.6 231.8,2263.4 232.5,2266 233.2,2273.9 234,2260.8 234.8,2264.3 235.5,2261.3 236.2,2265.9 237,2266.4 237.8,2270.3 238.5,2264.8 239.2,2274.7 240,2270.5 240.8,2266.2 241.5,2264.1 242.2,2262.2 243,2268.5 243.8,2275.7 244.5,2267.4 245.2,2264 246,2267.8 246.8,2266 247.5,2264.5 248.2,2260.6 249,2267.8 249.8,2273.8 250,2272.8 250.5,2271.9 251.2,2268.8 252,2269.9 252.8,2272 253.5,2267.8 254.2,2269.1 255,2266.5 255.8,2272.4 256.5,2264.4 257.2,2270.7 258,2271.3 258.8,2271.3 259.5,2270.8 260.2,2266.2 261,2265.8 261.8,2266.4 262.5,2266.5 263.2,2263.5 264,2266.2 264.8,2265.4 265.5,2264.2 266.2,2269.3 267,2264.9 267.8,2268.8 268.5,2273.6 269.2,2274.4 270,2267.9 270.8,2271.8 271.5,2268.7 272.2,2277.1 273,2274.1 273.8,2272.1 274.5,2267.1 275.2,2266.7 276,2269.7 276.8,2267.4 277.5,2266.6 278.2,2270.2 279,2262.6 279.8,2259.6 280.5,2263.4 281.2,2262.8 282,2267 282.8,2263.8 283.5,2266.4 284.2,2259.2 285,2272.9 285.8,2268.6 286.5,2263.6 287.2,2268.2 288,2271.7 288.8,2270.1 289.5,2266.4 290.2,2269.1 291,2270.1 291.8,2261.9 292.5,2260.9 293.2,2264.2 294,2270.3 294.8,2272.1 295.5,2266.8 296.2,2272.1 297,2270.1 297.8,2265.8 298,2263.1 298.5,2263.4 299.2,2265.8 300,2269.8 300.8,2266.9 301.5,2258.8 302.2,2258.1 303,2264.3 303.8,2261.5 304.5,2256.7 305.2,2262.7 305.4,2265.4 306,2263.3 306.8,2261.1 307.5,2266 308.2,2261.1 309,2261.5 309.8,2261.3 310.5,2271.9 311.2,2273.8 312,2265.9 312.8,2268.4 313.5,2267.9 314.2,2269.9 315,2270.9 315.8,2269 316.5,2266 317.2,2264.4 318,2262.4 318.8,2256.2 319.5,2266.1 320.2,2263.3 321,2266.7 321.8,2266.2 322.5,2262.6 323.2,2264.7 324,2268.3 324.8,2267.4 325.5,2263.3 326.2,2263.9 327,2269.1 327.8,2267.8 328.5,2268.1 329.2,2266.3 330,2269.9 330.8,2267.4 331.5,2276.9 332.2,2265.2 333,2264.4 333.8,2273.6 334.5,2266.9 335.2,2264.1 336,2268.9 336.8,2258.2 337.5,2269 338.2,2267.4 339,2268.4 339.8,2264.2 340.5,2272.5 341.2,2268.6 342,2267.3 342.8,2268.8 343.5,2264.2 344.2,2267 345,2261.6 345.8,2263.2 346.5,2268.7 347.2,2268 348,2270.4 348.8,2265 349.5,2267.1 350.2,2264.9 351,2268.6 351.8,2270.7 352.5,2271.8 353.2,2269.9 354,2264.6 354.8,2268.5 355.5,2263.6 356.2,2260.2 357,2268.4 357.8,2268 358.5,2270.6 359.2,2270.9 360,2262.9 360.8,2264.2 361.5,2267.7 362.2,2268 363,2269.3 363.8,2262.7 364.5,2266.8 365.2,2270.3 366,2275.2 366.8,2262.9 367.5,2274.1 368.2,2266.7 369,2262.2 369.8,2273 370.5,2263.6 371.2,2263.3 372,2270.6 372.8,2271.9 373.5,2268.1 374.2,2265 375,2262 375.8,2268.2 376.5,2258.7 377.2,2262.2 378,2272 378.8,2270.2 379.5,2272.6 380.2,2269.4 381,2263.4 381.8,2269.7 382.5,2260.8 383.2,2270.5 384,2273.1 384.8,2263.9 385.5,2271.8 386.2,2268 387,2267.2 387.8,2260.1 388.5,2267.2 389.2,2271.2 390,2261.1 390.8,2265.9 391.5,2265.1 392.2,2261.5 393,2271.9 393.8,2267.9 394.5,2268 395.2,2271.7 396,2264.9 396.8,2280.5 397.5,2266 398.2,2263.3 399,2270.3 399.8,2269.3 400,2264.1 400.5,2264.3 401.2,2271.1 402,2269 402.8,2269.5 403.5,2271.3 404.2,2265.6 405,2272.9 405.8,2268.1 406.5,2270.8 407.2,2264.4 408,2270.9 408.8,2269.1 409.5,2277.6 410.2,2267.4 411,2273.9 411.8,2270.5 412.5,2274.1 413.2,2268.9 414,2269.9 414.8,2259.4 415.5,2263 416.2,2272.1 417,2269.6 417.8,2271 418.5,2266.9 419.2,2271 420,2266.6 420.8,2267.7 421.5,2272.7 422.2,2272.1 423,2266.2 423.8,2268.1 424.5,2268.8 425.2,2267.3 426,2267.5 426.8,2264.2 427.5,2270 428.2,2263.7 429,2264 429.8,2272.7 430.5,2274.9 431.2,2274.9 432,2269.1 432.8,2265.6 433.5,2270.6 434.2,2273.7 435,2268.1 435.8,2266.1 436.5,2261.1 437.2,2261 438,2274.3 438.8,2261.8 439.5,2264.9 440.2,2266.3 441,2268.4 441.8,2262.4 442.5,2269.6 443.2,2269.6 444,2267.6 444.8,2264.9 445.5,2265.9 446.2,2259.8 447,2269.7 447.8,2265.2 448.5,2261.8 449.2,2267 450,2269 450.8,2268.4 451.5,2269.4 452.2,2271.5 453,2264.9 453.8,2267.6 454.5,2267.8 455.2,2261.1 456,2271 456.8,2265.4 457.5,2267.6 458.2,2267.8 459,2263.4 459.8,2269.7 460.5,2270.3 461.2,2267.1 462,2255.1 462.8,2271.7 463.5,2265.7 464.2,2263.8 465,2263.9 465.8,2262 466.5,2264.7 467.2,2268.5 468,2261.7 468.8,2266.8 469.5,2263.6 470,2264.9 470.2,2264.4 471,2267 471.8,2269.6 472.5,2265.4 473.2,2268.7 474,2270.7 474.8,2259.1 475.5,2267.3 476.2,2262.9 477,2262.9 477.8,2266.9 478.5,2261.9 479.2,2260 480,2266.6 480.8,2265 481.5,2261.8 482.2,2268.4 483,2255.3 483.8,2252.1 484.5,2255.6 485.2,2251.4 486,2256.5 486.5,2252.7 486.8,2252.8 487.5,2255.8 488.2,2255 489,2254.4 489.8,2259 490.5,2264.3 491.2,2264.3 492,2267.6 492.8,2270.5 493.5,2267.4 494.2,2263.7 495,2260.9 495.8,2265.6 496.5,2269.9 497.2,2269.1 498,2267.1 498.8,2260.3 499.5,2265.5 500.2,2265.9 501,2267.8 501.8,2258 502.5,2260.1 503.2,2263.2 504,2263 504.8,2260 505.5,2264.3 506.2,2261.1 507,2266.5 507.8,2260.2 508.5,2262.8 509.2,2253.9 510,2262.8 510.8,2259.5 511.5,2264.9 512.2,2261.7 513,2267.4 513.8,2260.9 514.5,2257.8 515.2,2264.5 516,2266.2 516.8,2261.4 517.5,2259.6 518.2,2267.7 519,2269 519.8,2267.8 520,2265.4 520.5,2265 521.2,2271 522,2267.4 522.8,2260.6 523.5,2259.5 524,2265.3 524.2,2265.2 525,2259.9 525.8,2258.1 526.5,2259.1 527.2,2254.4 528,2254.1 528.8,2247.9 529.5,2245.9 530,2242.2 530.2,2247.6 531,2245.5 531.8,2240.2 532.5,2246.1 533.2,2243.1 534,2244.2 534.8,2250.5 535.5,2249 536.2,2247.5 537,2244.9 537.8,2242.3 538.5,2244.9 539.2,2246.5 540,2253 540.8,2245.7 541.5,2247.7 542,2250 542.2,2251.6 543,2254.7 543.8,2256.1 544.5,2251.5 545.2,2259.7 546,2255.7 546.8,2250.7 547.5,2250.2 548,2252.4 548.2,2253 549,2256.7 549.8,2250.2 550.5,2250.5 551.2,2248.8 552,2251.8 552.8,2245 553,2252 553.5,2246.7 554.2,2248.4 555,2250.3 555.8,2249.3 556.5,2257.3 557,2244 557.2,2240.5 558,2242.2 558.8,2243.8 559.5,2238.1 560,2239.7 560.2,2236.8 561,2235.3 561.8,2229.2 562,2231.3 562.5,2229.2 563.2,2223.4 564,2220.9 564.8,2214.3 565.5,2205.3 566,2199.7 566.2,2197.4 567,2190.5 567.5,2185.2 567.8,2182.1 568.5,2169.9 569,2160 569.2,2153.8 570,2130 570.8,2099.5 571,2089.9 571.5,2076.9 572,2060 572.2,2041.9 573,1924.7 573.2,1880 573.8,1638.7 573.8,1620 574.5,1396.4 575,1290 575.2,1260.9 576,1192 576.5,1102.9 576.8,1103.4 577.5,1095.7 578.2,1105.3 579,1098.5 579.8,1103.3 580.5,1096 581.2,1102.4 582,1093.5 582.8,1099.3 583.5,1099 584.2,1094.7 585,1100.1 585.8,1097.8 586,1098.5 586.5,1192 587.2,1239.3 588,1290 588.8,1500.8 589,1620 589.5,2100 590.2,2143.1 590.5,2149.9 591,2162.9 591.8,2176.5 592,2179.9 592.5,2186 593.2,2193.5 594,2200.4 594.8,2208.3 595.5,2215.5 596,2219.1 596.2,2221.7 597,2226.9 597.8,2229.5 598.5,2234.9 599,2236.4 599.2,2236.8 600,2235.3 600.8,2242.4 601.5,2243 602.2,2245.4 603,2243.3 603.8,2239.2 604.5,2245.5 605.2,2248.1 606,2246.1 606.8,2243.9 607.5,2250.4 608.2,2251.6 609,2245.1 609.8,2247.2 610,2244.4 610.5,2251.3 611.2,2250.6 612,2256.5 612.8,2246.1 613.5,2254.6 614.2,2248.4 615,2250.1 615.8,2244 616.5,2248.6 617.2,2246.2 618,2247.5 618.8,2248.3 619.5,2249 620.2,2250 621,2246.3 621.8,2242.6 622.5,2249.4 623.2,2245.4 624,2242.4 624.8,2249.3 625,2245.1 625.5,2246.4 626.2,2236.9 627,2240.4 627.8,2249.5 628.5,2243.3 629.2,2242.5 630,2237.6 630.8,2238.6 631.5,2238.7 632.2,2235.9 633,2234.1 633.8,2228.4 634.5,2229 635,2228.8 635.2,2231 636,2229.3 636.8,2226.3 637.5,2222.9 638.2,2221.3 639,2222.5 639.8,2216.5 640,2219.3 640.5,2218.2 641.2,2216.9 642,2220.8 642.8,2214.4 643.5,2217.3 644,2220.1 644.2,2215.9 645,2215.5 645.8,2215.8 646.5,2223.3 647,2219.6 647.2,2218.1 648,2226.9 648.8,2223.3 649.5,2226 650,2228.5 650.2,2228.5 651,2229.7 651.8,2236.2 652.5,2239.3 653,2241.5 653.2,2240.6 654,2242 654.8,2243.7 655.5,2250.2 656,2250 656.2,2245.2 657,2248.3 657.8,2242.8 658.5,2249.4 659.2,2243.4 660,2247.2 660.8,2247.1 661.5,2237.9 662.2,2251.1 663,2248.6 663.8,2246 664.5,2246.6 665.2,2249.2 666,2249.3 666.8,2251.9 667.5,2251.1 668.2,2253.2 669,2252.2 669.8,2246.3 670.5,2246.6 671.2,2254 672,2254.1 672.8,2252.9 673.5,2248.4 674.2,2251 675,2250.9 675.8,2256.8 676.5,2251.5 677.2,2249.7 678,2252.1 678.8,2256.6 679.5,2261.8 680.2,2254.1 681,2260.5 681.8,2254.7 682.5,2255 683.2,2253.5 684,2260 684.3,2255.1 684.8,2260.7 685.5,2255.7 686.2,2264.1 687,2258.3 687.8,2257.8 688.5,2253.2 689.2,2262.9 690,2259.2 690.8,2258.5 691.5,2258.4 692.2,2256.5 693,2256.5 693.8,2260 694.5,2255.7 695.2,2258.4 696,2267.7 696.8,2258.6 697.5,2258.2 698.2,2262.8 699,2255.7 699.8,2265 700.5,2259.7 701.2,2255.3 702,2259.3 702.8,2257.3 703.5,2262.7 704.2,2258.4 705,2263 705.8,2252.9 706.5,2258.8 707.2,2262.7 708,2262.6 708.8,2260.9 709.5,2263.7 710.2,2263.9 711,2261 711.8,2261.9 712.5,2264.6 713.2,2261.9 714,2251.4 714.8,2255.3 715.5,2258.9 716.2,2264.2 717,2261.8 717.8,2264.2 718.5,2265.6 719.2,2263.9 720,2258.2 720.8,2265.2 721.5,2256.8 722.2,2257.1 723,2260.4 723.8,2253.4 724.5,2268.6 725.2,2271.3 726,2261.6 726.8,2260.8 727.5,2254.2 728.2,2264.4 729,2259.7 729.8,2257.8 730.5,2257.1 731.2,2262 732,2261.7 732.8,2262.1 733.5,2260.2 734.2,2256 735,2268.2 735.8,2265.9 736.5,2260.5 737.2,2257.6 738,2258.9 738.8,2265.6 739.5,2264.9 740.2,2264.1 741,2267.6 741.8,2260.9 742.5,2268.6 743.2,2263.8 744,2260.2 744.8,2265.2 745.5,2264.5 746.2,2260.5 747,2270.2 747.8,2256.9 748.5,2264.3 749.2,2265 750,2260.6 750.8,2263.6 751.5,2268.5 752.2,2259.2 753,2259.3 753.8,2262.2 754.5,2265.5 755.2,2267.9 756,2265.9 756.8,2259.3 757.5,2268 758.2,2266.5 759,2267.7 759.8,2257.3 760.5,2257.2 761.2,2261.1 762,2262 762.8,2263.7 763.5,2259.5 764.2,2259.6 765,2265.4 765.8,2255.5 766.5,2259.2 767.2,2263.9 768,2266.7 768.8,2264.9 769.5,2270 770.2,2265 771,2266.6 771.8,2267 772.5,2264.1 773.2,2258.8 774,2262.8 774.8,2263.1 775.5,2260.5 776.2,2266.5 777,2261.9 777.8,2258.2 778.5,2263.9 779.2,2260 780,2266 780.8,2253.8 781.5,2257.4 782.2,2264 783,2265 783.8,2264.3 784.5,2269.9 785.2,2263.1 786,2262.1 786.8,2267.3 787.5,2262.9 788.2,2265.7 789,2269 789.8,2263.6 790.5,2263.8 791.2,2261.9 792,2265.8 792.8,2266.7 793.5,2268.3 794.2,2266.9 795,2272.1 795.8,2265 796.5,2265 797.2,2263.4 798,2269.4 798.8,2264.9 799.5,2263.5 800.2,2259.6 801,2264.1 801.8,2268 802.5,2254.7 803.2,2260.4 804,2261.2 804.8,2261.6 805.5,2264.9 806.2,2263.3 807,2265.3 807.8,2265.9 808.5,2270 809.2,2263.9 810,2266.2 810.8,2264 811.5,2265.5 812.2,2263.6 813,2260.5 813.8,2266.5 814.5,2269.1 815.2,2261.4 816,2264.9 816.8,2264.9 817.5,2256.8 818.2,2272.5 819,2270.6 819.8,2269.6 820.5,2268.9 821.2,2261.8 822,2255.6 822.8,2264.8 823.5,2265.4 824.2,2264 825,2263.4 825.8,2268.9 826.5,2268.1 827.2,2265 828,2263.2 828.8,2273.9 829.5,2268.3 830.2,2265.5 831,2260.1 831.8,2259.2 832.5,2254.5 833.2,2264.2 834,2266.3 834.8,2264.5 835.5,2265.1 836.2,2266.1 837,2268.4 837.8,2258.3 838.5,2260.4 839.2,2268.6 840,2266.3 840.8,2267.1 841.5,2261.3 842.2,2271 843,2265.7 843.8,2264.3 844.5,2261.8 845.2,2266 846,2265.9 846.8,2264.8 847.5,2271.5 848.2,2269.8 848.6,2265.2 849,2263 849.8,2263.6 850.5,2266.6 851.2,2254.6 852,2266.5 852.8,2264.4 853.5,2273.5 854.2,2267 855,2264.6 855.8,2265.4 856.5,2262.8 857.2,2262.5 858,2264.9 858.8,2257.4 859.5,2265.1 860.2,2258.6 861,2262.2 861.8,2262.1 862.5,2267.6 863.2,2270.9 864,2270.3 864.8,2262.9 865.5,2263.8 866.2,2264.7 867,2265.1 867.8,2268.8 868.5,2267 869.2,2264.3 870,2271.7 870.8,2267.6 871.5,2271.2 872.2,2263.8 873,2266.1 873.8,2265.1 874.5,2264.4 875.2,2259.6 876,2264.5 876.8,2257.8 877.5,2264.8 878.2,2269.8 879,2267.5 879.8,2264.1 880.5,2261.7 881.2,2265.6 882,2258.5 882.8,2257.8 883.5,2257.2 884.2,2263.6 885,2256.9 885.8,2264.1 886.5,2265.6 887.2,2264.1 888,2260.9 888.8,2262.8 889.5,2256.4 890.2,2261.6 891,2267.1 891.8,2266.1 892.5,2254.2 893.2,2259.8 894,2258.6 894.8,2263.2 895.5,2260.6 896.2,2258.9 897,2256.7 897.8,2259.5 897.9,2258.3 898.5,2258.9 899.2,2257.8 900,2253.4 900.8,2259.3 901.5,2259 902.2,2257.7 903,2257.3 903.8,2260.1 904.5,2259 905.2,2260.2 906,2256.1 906.8,2255.7 907.5,2252.2 908.2,2247.7 909,2246.3 909.8,2250.6 910.5,2248.2 911.2,2248.2 912,2238.7 912.7,2243.4 912.8,2244.2 913.5,2241.3 914.2,2238.8 915,2233.9 915.8,2231.4 916.5,2227.4 917.2,2220.7 918,2215.9 918.8,2209.3 919.5,2203.5 920.2,2197.6 920.9,2191.5 921,2190.8 921.8,2184.6 922.5,2177.4 923.2,2169.4 924,2158.4 924.5,2150 924.8,2143.6 925.5,2114.4 925.9,2100 926.2,2091.7 927,2078.1 927.5,2060 927.8,2013.8 928.2,1880 928.5,1824.8 929.2,1714.2 930,1600 930.8,1449.1 931.5,1290 932,1192 932.2,1134.1 932.5,1097.4 933,1092.3 933.8,1102.8 934.5,1097.1 935.2,1093.2 936,1101.4 936.8,1092 937.5,1097.4 938.2,1091.7 939,1098.6 939.8,1093.2 940.5,1111.1 941.2,1104.1 942,1101.5 942.5,1101.1 942.8,1134.1 943,1192 943.5,1290 944,1600 944.2,1746 944.5,1880 945,2100 945.8,2142.6 946.5,2163.3 947.2,2175 947.2,2175.7 948,2187.8 948.8,2197.9 949.5,2207.5 950.2,2215.8 951,2222.7 951.8,2228.6 952.5,2232.5 953.2,2236.2 953.8,2237.8 954,2240 954.8,2242.8 955.5,2240.4 956.2,2246 957,2242.6 957.8,2240.3 958.5,2242.9 959.2,2242.8 960,2245.1 960.8,2246.7 961.5,2247.9 962.2,2252 963,2250.9 963.8,2247 964.5,2251.1 965.2,2249.3 966,2252.9 966.8,2255.1 966.9,2250.2 967.5,2253.9 968.2,2256.6 969,2253.3 969.8,2248.2 970.5,2252.3 971.2,2249.8 972,2257.3 972.8,2254.7 973.5,2255.5 974.2,2261.3 975,2257.8 975.8,2255.8 976.5,2248.7 977.2,2253.9 978,2253.6 978.8,2255.9 979.5,2252.2 980,2259.6 980.2,2262.1 981,2256.4 981.8,2252.6 982.5,2259 983.2,2258.1 984,2263.2 984.8,2259.7 985.5,2257.7 986.2,2255.8 987,2261.5 987.8,2253.2 988.5,2258.2 989.2,2265.5 990,2262.7 990.8,2263.5 991.5,2263.1 992.2,2259.1 993,2263.2 993.8,2266.8 994.5,2267.3 995.2,2261.4 996,2265.9 996.8,2269.3 997.5,2266.7 997.7,2271.7 998.2,2265.8 999,2259.4 999.8,2265.7 1000.5,2266.4 1001.2,2268.3 1002,2267.7 1002.8,2271.6 1003.5,2268 1004.2,2266.4 1005,2263.6 1005.8,2264.6 1006.5,2270.6 1007.2,2272.9 1008,2266.8 1008.8,2266.1 1009.5,2264.5 1010.2,2266.2 1011,2265.4 1011.8,2263.2 1012.5,2268.5 1013.2,2260.7 1014,2265.4 1014.8,2265.4 1015.5,2267.2 1016.2,2264 1017,2260.8 1017.8,2264 1018.5,2260.3 1019.2,2262.8 1020,2261 1020.8,2273.3 1021.5,2255.3 1022.2,2259 1023,2268.2 1023.8,2262.5 1024.5,2257.9 1025.2,2265.5 1026,2271 1026.8,2262.9 1027.5,2265.9 1028.2,2257.2 1029,2260 1029.8,2262.8 1030,2262.7 1030.5,2259.3 1031.2,2259.3 1032,2258.6 1032.8,2257.3 1033.5,2257.4 1034.2,2256.4 1035,2258.9 1035.8,2251.7 1036.5,2257.3 1037.2,2261 1038,2254.8 1038.8,2251.9 1039.5,2249.8 1040.1,2251.3 1040.2,2248.6 1041,2254.4 1041.8,2253.6 1042.5,2257.3 1043.2,2256.3 1044,2258.9 1044.8,2262.2 1045.5,2261.5 1046.2,2268.4 1047,2264.1 1047.8,2259.4 1048.5,2263.9 1049.2,2265 1050,2262.7 1050.8,2265.2 1051.5,2264.5 1052.2,2267.5 1053,2261.8 1053.8,2258.7 1054.5,2260.6 1055.2,2254.8 1056,2251.9 1056.8,2258.1 1057.5,2260.1 1058.2,2259.4 1059,2266.7 1059.8,2257.8 1060.5,2257.3 1061.2,2269.8 1062,2256.1 1062.8,2265 1063.5,2261.6 1064.2,2252.1 1065,2265.9 1065.8,2260.8 1066.5,2263.5 1067.2,2262.9 1068,2263.3 1068.8,2265.5 1069.5,2270.5 1070.2,2263.1 1071,2261.3 1071.8,2265.5 1072.5,2263.8 1073.2,2252.1 1074,2263.7 1074.8,2260.4 1075.5,2261 1076.2,2256.2 1077,2269.3 1077.8,2263.8 1078.5,2260.1 1079.2,2260.2 1080,2261.1 1080.8,2261.3 1081.5,2264.8 1082.2,2263.2 1083,2259.7 1083.8,2260.7 1084.5,2264 1085.2,2257.8 1086,2260 1086.8,2265.3 1087.5,2261.6 1088.2,2267.1 1089,2257.1 1089.8,2259.7 1090.5,2258.3 1091.2,2258.1 1092,2264.4 1092.8,2265.6 1093.5,2261.8 1094.2,2261 1095,2268.3 1095.8,2267.6 1096.5,2253.3 1097.2,2261 1098,2253.4 1098.8,2255.2 1099.5,2258.6 1100.2,2256.7 1101,2263.4 1101.8,2259.4 1102.5,2260.1 1103.2,2260.6 1104,2267.7 1104.8,2262.1 1105.5,2264.4 1106.2,2262.8 1107,2265.5 1107.8,2260.9 1108.5,2260.4 1109.2,2265.6 1110,2261.2 1110.8,2254.2 1111.5,2255.5 1112.2,2258.6 1113,2262.2 1113.8,2257.2 1114.5,2266 1115.2,2261.7 1116,2259 1116.8,2255.2 1117.1,2262.6 1117.5,2262.2 1118.2,2255.1 1119,2263.5 1119.8,2262.1 1120.5,2261.7 1121.2,2255.8 1122,2257.3 1122.8,2247.5 1123.5,2252.9 1124.2,2249.1 1125,2248.5 1125.8,2248.4 1126.5,2243.8 1126.6,2245 1127.2,2241.5 1128,2240.7 1128.8,2238.5 1129.5,2241.1 1130.2,2241.5 1131,2234.6 1131.8,2231.5 1132.5,2230.8 1132.8,2230.2 1133.2,2226.5 1134,2216.4 1134.8,2203.3 1135.5,2188.9 1136,2180 1136.2,2175.6 1137,2161.5 1137.8,2146.9 1138.5,2132.7 1139.1,2123.1 1139.2,2120.6 1140,2108.3 1140.8,2096.1 1141.5,2084.4 1142.2,2074.4 1143,2067.5 1143.8,2066 1143.8,2068 1144.5,2070.9 1145.2,2085.7 1146,2099.9 1146.8,2111.9 1147.5,2123.5 1148.2,2132.9 1148.6,2135.9 1149,2136.7 1149.8,2140.6 1150.5,2136.5 1151.2,2143 1152,2146 1152.3,2148.4 1152.8,2155 1153.5,2176.8 1154,2190.1 1154.2,2195.4 1155,2212.1 1155.8,2226.3 1156.4,2233.8 1156.5,2234.5 1157.2,2236.5 1158,2240.4 1158.8,2241.1 1159.5,2246.8 1160.2,2248.4 1161,2250.5 1161.8,2246.7 1162.5,2255.7 1163.2,2258.8 1164,2259.8 1164.8,2257.9 1165.5,2261.8 1166.2,2257.8 1167,2255.7 1167.4,2258.1 1167.8,2255.8 1168.5,2265.4 1169.2,2249.8 1170,2260.2 1170.8,2256.3 1171.5,2257.7 1172.2,2262.8 1173,2260 1173.8,2264.7 1174.5,2260.2 1175.2,2260.5 1176,2261.6 1176.8,2266.1 1177.5,2259 1178.2,2260.6 1179,2259.9 1179.8,2260.4 1180.5,2257.7 1181.2,2261.4 1182,2264.4 1182.8,2268.2 1183.5,2264.8 1184.2,2261 1185,2268.8 1185.8,2257 1186.5,2265.5 1187.2,2259.2 1188,2263.4 1188.8,2258.9 1189.5,2258.4 1190.2,2262.2 1191,2271.1 1191.8,2265.8 1192.5,2268 1193.2,2263.4 1194,2264.9 1194.8,2262 1195.5,2262.8 1196.2,2263.8 1197,2268.8 1197.8,2266.5 1198.5,2262.5 1199.2,2264.7 1200,2262.1 1200.8,2267.5 1201.5,2266.6 1202.2,2266.6 1203,2268.3 1203.8,2267.9 1204.5,2271.3 1205.2,2263 1206,2268.7 1206.8,2265.2 1207.5,2269.4 1208.2,2264 1209,2259.7 1209.8,2264.4 1210.5,2263.6 1211.2,2261.9 1211.4,2264.6 1212,2270.3 1212.8,2264.7 1213.5,2268.6 1214.2,2271.2 1215,2269.9 1215.8,2267.8 1216.5,2269.5 1217.2,2264.4 1218,2261.1 1218.8,2260.3 1219.5,2269.5 1220.2,2271.1 1221,2264.8 1221.8,2266.1 1222.5,2257.2 1223.2,2268.7 1224,2265.5 1224.8,2258.9 1225.5,2267.8 1226.2,2268.2 1227,2269.1 1227.8,2265.5 1228.5,2266.8 1229.2,2262.6 1230,2271.2 1230.8,2264.6 1231.5,2270.6 1232.2,2267.9 1233,2265 1233.8,2270.8 1234.5,2263.3 1235.2,2267.2 1236,2266.4 1236.8,2265.3 1237.5,2266.5 1238.2,2268.5 1239,2264.3 1239.8,2263.8 1240.5,2264.9 1241.2,2263.6 1242,2261.9 1242.8,2266.6 1243.5,2258.9 1244.2,2265.1 1245,2263.6 1245.8,2265.9 1246.5,2267 1247.2,2266.1 1248,2265.1 1248.8,2270.1 1249.5,2263 1250.2,2260.5 1251,2264 1251.8,2267.5 1252.5,2271.7 1253.2,2272.7 1254,2266.2 1254.8,2269.2 1255.5,2270.9 1256.2,2262.9 1257,2270.4 1257.8,2266.4 1258.5,2264.2 1259.2,2266.7 1260,2267 1260.8,2256.9 1261.5,2264.7 1262.2,2265.1 1263,2261.6 1263.8,2264.8 1264.5,2262.6 1265.2,2260.9 1266,2263.4 1266.8,2256.3 1267.5,2265.3 1268.2,2265.6 1269,2264.7 1269.8,2265.5 1270.5,2261.7 1271.2,2261.1 1272,2256.5 1272.8,2256.5 1273.5,2260.1 1274.2,2266.3 1275,2262.6 1275.8,2267.7 1276.5,2265.4 1277.2,2258.6 1278,2260.1 1278.8,2258.1 1279.5,2256.6 1280,2263 1280.2,2264.3 1281,2258.5 1281.8,2260.9 1282.5,2258 1283.2,2253 1284,2252.7 1284.8,2247.4 1285.3,2250.2 1285.5,2252.2 1286.2,2244.5 1287,2256 1287.8,2249.1 1288.5,2255.2 1289.2,2255.8 1290,2260.8 1290.8,2257.9 1291.5,2260 1292,2273.1 1292.2,2268.4 1293,2266.1 1293.8,2261.1 1294.5,2265.5 1295.2,2258.8 1296,2262.5 1296.8,2267.4 1297.5,2269.2 1298.2,2265.5 1299,2269.9 1299.8,2270.7 1300.5,2264.2 1301.2,2269.2 1302,2268.3 1302.8,2274.2 1303.5,2264.2 1304.2,2270.7 1305,2268.5 1305.7,2276.9 1305.8,2260.3 1306.5,2275.6 1307.2,2268.4 1308,2271.2 1308.8,2263.4 1309.5,2264.1 1310.2,2268.1 1311,2269.4 1311.8,2259.7 1312.5,2266.5 1313.2,2267.3 1314,2268.4 1314.8,2271.6 1315.5,2270.2 1316.2,2268 1317,2264.3 1317.8,2262.8 1318.5,2269.3 1319.2,2274.6 1320,2269 1320.8,2272.5 1321.5,2264.6 1322.2,2272.5 1323,2268.2 1323.8,2269.4 1324.5,2271.5 1325.2,2271.9 1326,2269.9 1326.8,2270.4 1327.5,2270.2 1328.2,2266.1 1329,2267.7 1329.8,2268.9 1330.5,2275.1 1331.2,2264.2 1332,2269.1 1332.8,2272.6 1333.5,2271.4 1334.2,2265.1 1335,2263.8 1335.8,2266.6 1336.5,2269.7 1337.2,2271.7 1338,2267.7 1338.8,2268.9 1339.5,2266.9 1340.2,2265.2 1341,2273 1341.8,2275 1342.5,2267.7 1343.2,2265.1 1344,2270.7 1344.8,2262.5 1345.5,2262.9 1346.2,2268.6 1347,2274.9 1347.8,2266.4 1348.5,2268 1349.2,2273.7 1350,2263.1 1350.8,2261.6 1351.5,2275.8 1352.2,2271.3 1353,2265.9 1353.8,2269.3 1354.5,2270.7 1355.2,2266.1 1356,2276.7 1356.8,2260.6 1357.5,2273 1358.2,2268.3 1359,2267.4 1359.8,2267.6 1360.5,2264 1361.2,2265.6 1362,2264.3 1362.8,2260.6 1363.5,2268.3 1364.2,2260.7 1365,2262 1365.8,2273.1 1366.5,2263.5 1367.2,2271.2 1368,2270.2 1368.8,2265.9 1369.5,2270.9 1370.2,2262.5 1371,2261.2 1371.8,2262.6 1372.5,2262.9 1373.2,2266 1374,2271.4 1374.8,2260.5 1375.5,2262.5 1376.2,2263.3 1377,2264.2 1377.8,2261.7 1378.5,2268.1 1379.2,2261.1 1380,2258.8 1380.8,2268.7 1381.5,2267.4 1382.2,2261.8 1383,2258.2 1383.8,2262 1384.5,2263.9 1385.2,2267 1386,2267.1 1386.8,2259.4 1387.5,2260.6 1388.2,2259.3 1389,2260.1 1389.8,2257.9 1390.5,2257.9 1391.2,2258.5 1392,2259.2 1392.8,2251.6 1393.5,2256.7 1394.2,2260.8 1395,2259.4 1395.8,2260.1 1396.5,2260 1397.2,2258.9 1398,2260.5"/></g><g font-family='"Liberation Sans", Arial, Helvetica, sans-serif' fill="#000"><text transform="translate(142.3,1042.5) scale(1,1.0407)" font-size="39" text-anchor="middle">23</text><text transform="translate(433.4,1042.5) scale(1,1.0407)" font-size="39" text-anchor="middle">24</text><text transform="translate(724.5,1042.5) scale(1,1.0407)" font-size="39" text-anchor="middle">25</text><text transform="translate(1015.6,1042.5) scale(1,1.0407)" font-size="39" text-anchor="middle">26</text><text transform="translate(1306.7,1042.5) scale(1,1.0407)" font-size="39" text-anchor="middle">27</text><text transform="translate(692.3,1112) scale(1,1.0407)" font-size="48">2θ, °</text><text transform="translate(35,583.3) rotate(-90) scale(1,1.0407)" font-size="48">Intensity</text><text transform="translate(35,1947) rotate(-90) scale(1,1.0407)" font-size="48">Intensity</text><text transform="translate(105.4,706) scale(1,1.0407)" font-size="60">SoC 50%, LiC<tspan font-size="40" dy="12.5">12</tspan></text><text transform="translate(105.4,784) scale(1,1.0407)" font-size="60">SoC 40%, LiC<tspan font-size="40" dy="12.5">18</tspan><tspan dy="-12.5">+LiC</tspan><tspan font-size="40" dy="12.5">12</tspan></text><text transform="translate(105.4,860.5) scale(1,1.0407)" font-size="60">SoC 20%, LiC<tspan font-size="40" dy="12.5">30</tspan></text><text transform="translate(105.4,937) scale(1,1.0407)" font-size="60">SoC 0%, C</text><text transform="translate(164.6,2429.5) scale(1,1.0407)" font-size="39" text-anchor="middle">35</text><text transform="translate(413.2,2429.5) scale(1,1.0407)" font-size="39" text-anchor="middle">40</text><text transform="translate(661.9,2429.5) scale(1,1.0407)" font-size="39" text-anchor="middle">45</text><text transform="translate(910.6,2429.5) scale(1,1.0407)" font-size="39" text-anchor="middle">50</text><text transform="translate(1159.2,2429.5) scale(1,1.0407)" font-size="39" text-anchor="middle">55</text><text transform="translate(1136.8,1464.8) scale(1,1.0407)" font-size="60">SoC 50%</text><text transform="translate(1137.5,1722.2) scale(1,1.0407)" font-size="60">SoC 40%</text><text transform="translate(1137.5,1980.6) scale(1,1.0407)" font-size="60">SoC 20%</text><text transform="translate(1170.7,2207.3) scale(1,1.0407)" font-size="60">SoC 0%</text><text transform="translate(350.1,1400.4) rotate(-90) scale(1,1.0407)" font-size="60">{003}</text><text transform="translate(532.8,1399.9) rotate(-90) scale(1,1.0407)" font-size="60">{110}</text><text transform="translate(907.2,1407.9) rotate(-90) scale(1,1.0407)" font-size="60">{112}</text><text transform="translate(1056.9,1326.4) rotate(-90) scale(1,1.0407)" font-size="60">{004}</text><text transform="translate(349.9,1688.3) rotate(-90) scale(1,1.0407)" font-size="60">{006}</text><text transform="translate(539.5,1708.6) rotate(-90) scale(1,1.0407)" font-size="60">{100}</text><text transform="translate(741.6,1728.3) rotate(-90) scale(1,1.0407)" font-size="60">{103}</text><text transform="translate(905.9,1713.5) rotate(-90) scale(1,1.0407)" font-size="60">{104}</text><text transform="translate(1056.2,1638.7) rotate(-90) scale(1,1.0407)" font-size="60">{008}</text><text transform="translate(600.5,2345.6) rotate(-90) scale(1,1.0407)" font-size="60">Cu</text><text transform="translate(952.1,2345.6) rotate(-90) scale(1,1.0407)" font-size="60">Cu</text><text transform="translate(160.9,2265.5) scale(1,1.0407)" font-size="75" font-weight="700">*</text><text transform="translate(289.8,2272.3) scale(1,1.0407)" font-size="75" font-weight="700">*</text><text transform="translate(1030.3,2270.6) scale(1,1.0407)" font-size="75" font-weight="700">*</text><text transform="translate(1272.2,2270.6) scale(1,1.0407)" font-size="75" font-weight="700">*</text></g><path d="M487.4,2191.4V2236" stroke="#000" stroke-width="2.8" fill="none"/><path d="M476.9,2229.9 L478.8,2228.2 Q483,2231.5 486.1,2235.5 L488.7,2235.5 Q491.8,2231.5 496,2228.2 L497.9,2229.9 Q492,2235 487.4,2243.6 Q482.8,2235 476.9,2229.9 Z" fill="#000"/></svg></body></html>
